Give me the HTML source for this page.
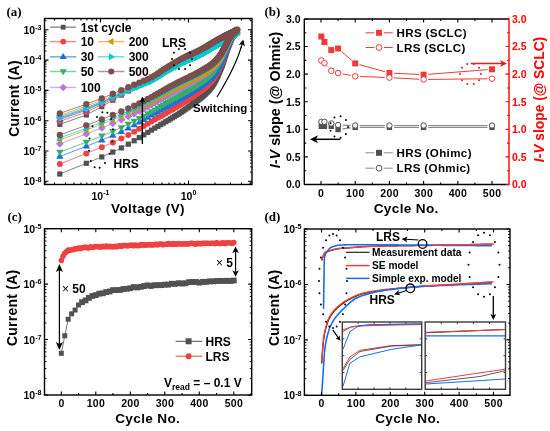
<!DOCTYPE html><html><head><meta charset="utf-8"><style>html,body{margin:0;padding:0;background:#fff}svg{display:block;will-change:transform}</style></head><body>
<svg width="550" height="431" viewBox="0 0 550 431">
<rect width="550" height="431" fill="#fff"/>
<text x="6.5" y="15.5" font-size="13" text-anchor="start" fill="#000" font-weight="bold" font-family='"Liberation Serif", serif' >(a)</text>
<path d="M59.83 174 L86.32 163.29 L101.81 156.93 L112.81 152.05 L121.34 147.93 L128.31 144.19 L134.2 140.74 L139.3 137.61 L143.8 134.82 L147.83 132.33 L151.47 130.11 L154.8 128.13 L157.86 126.33 L160.69 124.68 L163.32 123.14 L165.79 121.69 L168.11 120.32 L170.29 119.02 L172.36 117.77 L174.32 116.57 L176.18 115.41 L177.96 114.28 L179.66 113.18 L181.29 112.12 L182.85 111.07 L184.35 110.05 L185.79 109.05 L187.18 108.06 L188.52 107.09 L189.81 106.14 L191.07 105.21 L192.28 104.32 L193.46 103.47 L194.6 102.65 L195.71 101.84 L196.78 101.05 L197.83 100.26 L198.85 99.49 L199.84 98.71 L200.81 97.94 L201.75 97.16 L202.67 96.37 L203.57 95.58 L204.45 94.78 L205.31 93.98 L206.15 93.16 L206.97 92.32 L207.78 91.48 L208.57 90.62 L209.34 89.76 L210.09 88.87 L210.84 87.97 L211.56 87.06 L212.28 86.13 L212.98 85.12 L213.67 84.04 L214.35 82.9 L215.01 81.7 L215.66 80.45 L216.31 79.17 L216.94 77.85 L217.56 76.51 L218.17 75.15 L218.77 73.77 L219.36 72.39 L219.95 71.01 L220.52 69.62 L221.09 68.24 L221.65 66.87 L222.2 65.5 L222.74 64.05 L223.27 62.52 L223.8 60.93 L224.32 59.31 L224.83 57.67 L225.34 56.04 L225.84 54.44 L226.33 52.88 L226.82 51.38 L227.3 49.95 L227.77 48.61 L228.24 47.35 L228.71 46.09 L229.16 44.84 L229.62 43.61 L230.06 42.42 L230.51 41.27 L230.94 40.17 L231.37 39.15 L231.8 38.2 L232.22 37.34 L232.64 36.58 L233.05 35.92 L233.46 35.34 L233.87 34.81 L234.27 34.33 L234.66 33.89 L235.06 33.47 L235.44 33.08 L235.83 32.7 L236.21 32.33 L236.58 31.96 L236.96 31.58" fill="none" stroke="#515151" stroke-width="0.9" opacity="0.8"/>
<path d="M59.83 124.32 L86.32 114.97 L101.81 106.61 L112.81 100.17 L121.34 95.08 L128.31 91 L134.2 87.56 L139.3 84.55 L143.8 82.56 L147.83 80.84 L151.47 79.03 L154.8 77.12 L157.86 75.19 L160.69 73.32 L163.32 71.56 L165.79 69.93 L168.11 68.45 L170.29 67.13 L172.36 65.9 L174.32 64.75 L176.18 63.66 L177.96 62.63 L179.66 61.67 L181.29 60.77 L182.85 59.93 L184.35 59.14 L185.79 58.4 L187.18 57.72 L188.52 57.09 L189.81 56.5 L191.07 55.94 L192.28 55.4 L193.46 54.88 L194.6 54.37 L195.71 53.86 L196.78 53.37 L197.83 52.87 L198.85 52.38 L199.84 51.88 L200.81 51.38 L201.75 50.88 L202.67 50.37 L203.57 49.87 L204.45 49.38 L205.31 48.88 L206.15 48.39 L206.97 47.91 L207.78 47.43 L208.57 46.93 L209.34 46.42 L210.09 45.92 L210.84 45.43 L211.56 44.95 L212.28 44.48 L212.98 44.02 L213.67 43.56 L214.35 43.12 L215.01 42.69 L215.66 42.27 L216.31 41.86 L216.94 41.46 L217.56 41.07 L218.17 40.69 L218.77 40.32 L219.36 39.96 L219.95 39.61 L220.52 39.27 L221.09 38.94 L221.65 38.61 L222.2 38.29 L222.74 37.98 L223.27 37.67 L223.8 37.37 L224.32 37.08 L224.83 36.79 L225.34 36.5 L225.84 36.22 L226.33 35.95 L226.82 35.68 L227.3 35.41 L227.77 35.15 L228.24 34.89 L228.71 34.63 L229.16 34.38 L229.62 34.13 L230.06 33.89 L230.51 33.64 L230.94 33.41 L231.37 33.17 L231.8 32.93 L232.22 32.7 L232.64 32.47 L233.05 32.25 L233.46 32.02 L233.87 31.8 L234.27 31.58 L234.66 31.36 L235.06 31.14 L235.44 30.93 L235.83 30.71 L236.21 30.5 L236.58 30.29 L236.96 30.08" fill="none" stroke="#515151" stroke-width="0.9" opacity="0.8"/>
<rect x="57.23" y="171.4" width="5.2" height="5.2" fill="#515151"/><rect x="83.72" y="160.69" width="5.2" height="5.2" fill="#515151"/><rect x="99.21" y="154.33" width="5.2" height="5.2" fill="#515151"/><rect x="110.21" y="149.45" width="5.2" height="5.2" fill="#515151"/><rect x="118.74" y="145.33" width="5.2" height="5.2" fill="#515151"/><rect x="125.71" y="141.59" width="5.2" height="5.2" fill="#515151"/><rect x="131.6" y="138.14" width="5.2" height="5.2" fill="#515151"/><rect x="136.7" y="135.01" width="5.2" height="5.2" fill="#515151"/><rect x="141.2" y="132.22" width="5.2" height="5.2" fill="#515151"/><rect x="145.23" y="129.73" width="5.2" height="5.2" fill="#515151"/><rect x="148.87" y="127.51" width="5.2" height="5.2" fill="#515151"/><rect x="152.2" y="125.53" width="5.2" height="5.2" fill="#515151"/><rect x="155.26" y="123.73" width="5.2" height="5.2" fill="#515151"/><rect x="158.09" y="122.08" width="5.2" height="5.2" fill="#515151"/><rect x="160.72" y="120.54" width="5.2" height="5.2" fill="#515151"/><rect x="163.19" y="119.09" width="5.2" height="5.2" fill="#515151"/><rect x="165.51" y="117.72" width="5.2" height="5.2" fill="#515151"/><rect x="167.69" y="116.42" width="5.2" height="5.2" fill="#515151"/><rect x="169.76" y="115.17" width="5.2" height="5.2" fill="#515151"/><rect x="171.72" y="113.97" width="5.2" height="5.2" fill="#515151"/><rect x="173.58" y="112.81" width="5.2" height="5.2" fill="#515151"/><rect x="175.36" y="111.68" width="5.2" height="5.2" fill="#515151"/><rect x="177.06" y="110.58" width="5.2" height="5.2" fill="#515151"/><rect x="178.69" y="109.52" width="5.2" height="5.2" fill="#515151"/><rect x="180.25" y="108.47" width="5.2" height="5.2" fill="#515151"/><rect x="181.75" y="107.45" width="5.2" height="5.2" fill="#515151"/><rect x="183.19" y="106.45" width="5.2" height="5.2" fill="#515151"/><rect x="184.58" y="105.46" width="5.2" height="5.2" fill="#515151"/><rect x="185.92" y="104.49" width="5.2" height="5.2" fill="#515151"/><rect x="187.21" y="103.54" width="5.2" height="5.2" fill="#515151"/><rect x="188.47" y="102.61" width="5.2" height="5.2" fill="#515151"/><rect x="189.68" y="101.72" width="5.2" height="5.2" fill="#515151"/><rect x="190.86" y="100.87" width="5.2" height="5.2" fill="#515151"/><rect x="192" y="100.05" width="5.2" height="5.2" fill="#515151"/><rect x="193.11" y="99.24" width="5.2" height="5.2" fill="#515151"/><rect x="194.18" y="98.45" width="5.2" height="5.2" fill="#515151"/><rect x="195.23" y="97.66" width="5.2" height="5.2" fill="#515151"/><rect x="196.25" y="96.89" width="5.2" height="5.2" fill="#515151"/><rect x="197.24" y="96.11" width="5.2" height="5.2" fill="#515151"/><rect x="198.21" y="95.34" width="5.2" height="5.2" fill="#515151"/><rect x="199.15" y="94.56" width="5.2" height="5.2" fill="#515151"/><rect x="200.07" y="93.77" width="5.2" height="5.2" fill="#515151"/><rect x="200.97" y="92.98" width="5.2" height="5.2" fill="#515151"/><rect x="201.85" y="92.18" width="5.2" height="5.2" fill="#515151"/><rect x="202.71" y="91.38" width="5.2" height="5.2" fill="#515151"/><rect x="203.55" y="90.56" width="5.2" height="5.2" fill="#515151"/><rect x="204.37" y="89.72" width="5.2" height="5.2" fill="#515151"/><rect x="205.18" y="88.88" width="5.2" height="5.2" fill="#515151"/><rect x="205.97" y="88.02" width="5.2" height="5.2" fill="#515151"/><rect x="206.74" y="87.16" width="5.2" height="5.2" fill="#515151"/><rect x="207.49" y="86.27" width="5.2" height="5.2" fill="#515151"/><rect x="208.24" y="85.37" width="5.2" height="5.2" fill="#515151"/><rect x="208.96" y="84.46" width="5.2" height="5.2" fill="#515151"/><rect x="209.68" y="83.53" width="5.2" height="5.2" fill="#515151"/><rect x="210.38" y="82.52" width="5.2" height="5.2" fill="#515151"/><rect x="211.07" y="81.44" width="5.2" height="5.2" fill="#515151"/><rect x="211.75" y="80.3" width="5.2" height="5.2" fill="#515151"/><rect x="212.41" y="79.1" width="5.2" height="5.2" fill="#515151"/><rect x="213.06" y="77.85" width="5.2" height="5.2" fill="#515151"/><rect x="213.71" y="76.57" width="5.2" height="5.2" fill="#515151"/><rect x="214.34" y="75.25" width="5.2" height="5.2" fill="#515151"/><rect x="214.96" y="73.91" width="5.2" height="5.2" fill="#515151"/><rect x="215.57" y="72.55" width="5.2" height="5.2" fill="#515151"/><rect x="216.17" y="71.17" width="5.2" height="5.2" fill="#515151"/><rect x="216.76" y="69.79" width="5.2" height="5.2" fill="#515151"/><rect x="217.35" y="68.41" width="5.2" height="5.2" fill="#515151"/><rect x="217.92" y="67.02" width="5.2" height="5.2" fill="#515151"/><rect x="218.49" y="65.64" width="5.2" height="5.2" fill="#515151"/><rect x="219.05" y="64.27" width="5.2" height="5.2" fill="#515151"/><rect x="219.6" y="62.9" width="5.2" height="5.2" fill="#515151"/><rect x="220.14" y="61.45" width="5.2" height="5.2" fill="#515151"/><rect x="220.67" y="59.92" width="5.2" height="5.2" fill="#515151"/><rect x="221.2" y="58.33" width="5.2" height="5.2" fill="#515151"/><rect x="221.72" y="56.71" width="5.2" height="5.2" fill="#515151"/><rect x="222.23" y="55.07" width="5.2" height="5.2" fill="#515151"/><rect x="222.74" y="53.44" width="5.2" height="5.2" fill="#515151"/><rect x="223.24" y="51.84" width="5.2" height="5.2" fill="#515151"/><rect x="223.73" y="50.28" width="5.2" height="5.2" fill="#515151"/><rect x="224.22" y="48.78" width="5.2" height="5.2" fill="#515151"/><rect x="224.7" y="47.35" width="5.2" height="5.2" fill="#515151"/><rect x="225.17" y="46.01" width="5.2" height="5.2" fill="#515151"/><rect x="225.64" y="44.75" width="5.2" height="5.2" fill="#515151"/><rect x="226.11" y="43.49" width="5.2" height="5.2" fill="#515151"/><rect x="226.56" y="42.24" width="5.2" height="5.2" fill="#515151"/><rect x="227.02" y="41.01" width="5.2" height="5.2" fill="#515151"/><rect x="227.46" y="39.82" width="5.2" height="5.2" fill="#515151"/><rect x="227.91" y="38.67" width="5.2" height="5.2" fill="#515151"/><rect x="228.34" y="37.57" width="5.2" height="5.2" fill="#515151"/><rect x="228.77" y="36.55" width="5.2" height="5.2" fill="#515151"/><rect x="229.2" y="35.6" width="5.2" height="5.2" fill="#515151"/><rect x="229.62" y="34.74" width="5.2" height="5.2" fill="#515151"/><rect x="230.04" y="33.98" width="5.2" height="5.2" fill="#515151"/><rect x="230.45" y="33.32" width="5.2" height="5.2" fill="#515151"/><rect x="230.86" y="32.74" width="5.2" height="5.2" fill="#515151"/><rect x="231.27" y="32.21" width="5.2" height="5.2" fill="#515151"/><rect x="231.67" y="31.73" width="5.2" height="5.2" fill="#515151"/><rect x="232.06" y="31.29" width="5.2" height="5.2" fill="#515151"/><rect x="232.46" y="30.87" width="5.2" height="5.2" fill="#515151"/><rect x="232.84" y="30.48" width="5.2" height="5.2" fill="#515151"/><rect x="233.23" y="30.1" width="5.2" height="5.2" fill="#515151"/><rect x="233.61" y="29.73" width="5.2" height="5.2" fill="#515151"/><rect x="233.98" y="29.36" width="5.2" height="5.2" fill="#515151"/><rect x="234.36" y="28.98" width="5.2" height="5.2" fill="#515151"/><rect x="57.23" y="121.72" width="5.2" height="5.2" fill="#515151"/><rect x="83.72" y="112.37" width="5.2" height="5.2" fill="#515151"/><rect x="99.21" y="104.01" width="5.2" height="5.2" fill="#515151"/><rect x="110.21" y="97.57" width="5.2" height="5.2" fill="#515151"/><rect x="118.74" y="92.48" width="5.2" height="5.2" fill="#515151"/><rect x="125.71" y="88.4" width="5.2" height="5.2" fill="#515151"/><rect x="131.6" y="84.96" width="5.2" height="5.2" fill="#515151"/><rect x="136.7" y="81.95" width="5.2" height="5.2" fill="#515151"/><rect x="141.2" y="79.96" width="5.2" height="5.2" fill="#515151"/><rect x="145.23" y="78.24" width="5.2" height="5.2" fill="#515151"/><rect x="148.87" y="76.43" width="5.2" height="5.2" fill="#515151"/><rect x="152.2" y="74.52" width="5.2" height="5.2" fill="#515151"/><rect x="155.26" y="72.59" width="5.2" height="5.2" fill="#515151"/><rect x="158.09" y="70.72" width="5.2" height="5.2" fill="#515151"/><rect x="160.72" y="68.96" width="5.2" height="5.2" fill="#515151"/><rect x="163.19" y="67.33" width="5.2" height="5.2" fill="#515151"/><rect x="165.51" y="65.85" width="5.2" height="5.2" fill="#515151"/><rect x="167.69" y="64.53" width="5.2" height="5.2" fill="#515151"/><rect x="169.76" y="63.3" width="5.2" height="5.2" fill="#515151"/><rect x="171.72" y="62.15" width="5.2" height="5.2" fill="#515151"/><rect x="173.58" y="61.06" width="5.2" height="5.2" fill="#515151"/><rect x="175.36" y="60.03" width="5.2" height="5.2" fill="#515151"/><rect x="177.06" y="59.07" width="5.2" height="5.2" fill="#515151"/><rect x="178.69" y="58.17" width="5.2" height="5.2" fill="#515151"/><rect x="180.25" y="57.33" width="5.2" height="5.2" fill="#515151"/><rect x="181.75" y="56.54" width="5.2" height="5.2" fill="#515151"/><rect x="183.19" y="55.8" width="5.2" height="5.2" fill="#515151"/><rect x="184.58" y="55.12" width="5.2" height="5.2" fill="#515151"/><rect x="185.92" y="54.49" width="5.2" height="5.2" fill="#515151"/><rect x="187.21" y="53.9" width="5.2" height="5.2" fill="#515151"/><rect x="188.47" y="53.34" width="5.2" height="5.2" fill="#515151"/><rect x="189.68" y="52.8" width="5.2" height="5.2" fill="#515151"/><rect x="190.86" y="52.28" width="5.2" height="5.2" fill="#515151"/><rect x="192" y="51.77" width="5.2" height="5.2" fill="#515151"/><rect x="193.11" y="51.26" width="5.2" height="5.2" fill="#515151"/><rect x="194.18" y="50.77" width="5.2" height="5.2" fill="#515151"/><rect x="195.23" y="50.27" width="5.2" height="5.2" fill="#515151"/><rect x="196.25" y="49.78" width="5.2" height="5.2" fill="#515151"/><rect x="197.24" y="49.28" width="5.2" height="5.2" fill="#515151"/><rect x="198.21" y="48.78" width="5.2" height="5.2" fill="#515151"/><rect x="199.15" y="48.28" width="5.2" height="5.2" fill="#515151"/><rect x="200.07" y="47.77" width="5.2" height="5.2" fill="#515151"/><rect x="200.97" y="47.27" width="5.2" height="5.2" fill="#515151"/><rect x="201.85" y="46.78" width="5.2" height="5.2" fill="#515151"/><rect x="202.71" y="46.28" width="5.2" height="5.2" fill="#515151"/><rect x="203.55" y="45.79" width="5.2" height="5.2" fill="#515151"/><rect x="204.37" y="45.31" width="5.2" height="5.2" fill="#515151"/><rect x="205.18" y="44.83" width="5.2" height="5.2" fill="#515151"/><rect x="205.97" y="44.33" width="5.2" height="5.2" fill="#515151"/><rect x="206.74" y="43.82" width="5.2" height="5.2" fill="#515151"/><rect x="207.49" y="43.32" width="5.2" height="5.2" fill="#515151"/><rect x="208.24" y="42.83" width="5.2" height="5.2" fill="#515151"/><rect x="208.96" y="42.35" width="5.2" height="5.2" fill="#515151"/><rect x="209.68" y="41.88" width="5.2" height="5.2" fill="#515151"/><rect x="210.38" y="41.42" width="5.2" height="5.2" fill="#515151"/><rect x="211.07" y="40.96" width="5.2" height="5.2" fill="#515151"/><rect x="211.75" y="40.52" width="5.2" height="5.2" fill="#515151"/><rect x="212.41" y="40.09" width="5.2" height="5.2" fill="#515151"/><rect x="213.06" y="39.67" width="5.2" height="5.2" fill="#515151"/><rect x="213.71" y="39.26" width="5.2" height="5.2" fill="#515151"/><rect x="214.34" y="38.86" width="5.2" height="5.2" fill="#515151"/><rect x="214.96" y="38.47" width="5.2" height="5.2" fill="#515151"/><rect x="215.57" y="38.09" width="5.2" height="5.2" fill="#515151"/><rect x="216.17" y="37.72" width="5.2" height="5.2" fill="#515151"/><rect x="216.76" y="37.36" width="5.2" height="5.2" fill="#515151"/><rect x="217.35" y="37.01" width="5.2" height="5.2" fill="#515151"/><rect x="217.92" y="36.67" width="5.2" height="5.2" fill="#515151"/><rect x="218.49" y="36.34" width="5.2" height="5.2" fill="#515151"/><rect x="219.05" y="36.01" width="5.2" height="5.2" fill="#515151"/><rect x="219.6" y="35.69" width="5.2" height="5.2" fill="#515151"/><rect x="220.14" y="35.38" width="5.2" height="5.2" fill="#515151"/><rect x="220.67" y="35.07" width="5.2" height="5.2" fill="#515151"/><rect x="221.2" y="34.77" width="5.2" height="5.2" fill="#515151"/><rect x="221.72" y="34.48" width="5.2" height="5.2" fill="#515151"/><rect x="222.23" y="34.19" width="5.2" height="5.2" fill="#515151"/><rect x="222.74" y="33.9" width="5.2" height="5.2" fill="#515151"/><rect x="223.24" y="33.62" width="5.2" height="5.2" fill="#515151"/><rect x="223.73" y="33.35" width="5.2" height="5.2" fill="#515151"/><rect x="224.22" y="33.08" width="5.2" height="5.2" fill="#515151"/><rect x="224.7" y="32.81" width="5.2" height="5.2" fill="#515151"/><rect x="225.17" y="32.55" width="5.2" height="5.2" fill="#515151"/><rect x="225.64" y="32.29" width="5.2" height="5.2" fill="#515151"/><rect x="226.11" y="32.03" width="5.2" height="5.2" fill="#515151"/><rect x="226.56" y="31.78" width="5.2" height="5.2" fill="#515151"/><rect x="227.02" y="31.53" width="5.2" height="5.2" fill="#515151"/><rect x="227.46" y="31.29" width="5.2" height="5.2" fill="#515151"/><rect x="227.91" y="31.04" width="5.2" height="5.2" fill="#515151"/><rect x="228.34" y="30.81" width="5.2" height="5.2" fill="#515151"/><rect x="228.77" y="30.57" width="5.2" height="5.2" fill="#515151"/><rect x="229.2" y="30.33" width="5.2" height="5.2" fill="#515151"/><rect x="229.62" y="30.1" width="5.2" height="5.2" fill="#515151"/><rect x="230.04" y="29.87" width="5.2" height="5.2" fill="#515151"/><rect x="230.45" y="29.65" width="5.2" height="5.2" fill="#515151"/><rect x="230.86" y="29.42" width="5.2" height="5.2" fill="#515151"/><rect x="231.27" y="29.2" width="5.2" height="5.2" fill="#515151"/><rect x="231.67" y="28.98" width="5.2" height="5.2" fill="#515151"/><rect x="232.06" y="28.76" width="5.2" height="5.2" fill="#515151"/><rect x="232.46" y="28.54" width="5.2" height="5.2" fill="#515151"/><rect x="232.84" y="28.33" width="5.2" height="5.2" fill="#515151"/><rect x="233.23" y="28.11" width="5.2" height="5.2" fill="#515151"/><rect x="233.61" y="27.9" width="5.2" height="5.2" fill="#515151"/><rect x="233.98" y="27.69" width="5.2" height="5.2" fill="#515151"/><rect x="234.36" y="27.48" width="5.2" height="5.2" fill="#515151"/>
<path d="M59.83 163.91 L86.32 153.46 L101.81 147.21 L112.81 142.45 L121.34 138.47 L128.31 134.92 L134.2 131.67 L139.3 128.74 L143.8 126.09 L147.83 123.7 L151.47 121.55 L154.8 119.6 L157.86 117.82 L160.69 116.18 L163.32 114.65 L165.79 113.22 L168.11 111.87 L170.29 110.6 L172.36 109.38 L174.32 108.23 L176.18 107.11 L177.96 106.05 L179.66 105.02 L181.29 104.02 L182.85 103.05 L184.35 102.11 L185.79 101.19 L187.18 100.29 L188.52 99.4 L189.81 98.53 L191.07 97.69 L192.28 96.87 L193.46 96.09 L194.6 95.33 L195.71 94.58 L196.78 93.85 L197.83 93.12 L198.85 92.4 L199.84 91.69 L200.81 90.97 L201.75 90.26 L202.67 89.55 L203.57 88.83 L204.45 88.11 L205.31 87.38 L206.15 86.65 L206.97 85.9 L207.78 85.14 L208.57 84.38 L209.34 83.6 L210.09 82.8 L210.84 82 L211.56 81.18 L212.28 80.34 L212.98 79.44 L213.67 78.48 L214.35 77.47 L215.01 76.42 L215.66 75.32 L216.31 74.19 L216.94 73.04 L217.56 71.86 L218.17 70.66 L218.77 69.45 L219.36 68.23 L219.95 67.01 L220.52 65.78 L221.09 64.53 L221.65 63.28 L222.2 62.02 L222.74 60.7 L223.27 59.31 L223.8 57.87 L224.32 56.42 L224.83 54.95 L225.34 53.5 L225.84 52.07 L226.33 50.68 L226.82 49.32 L227.3 48.01 L227.77 46.77 L228.24 45.59 L228.71 44.43 L229.16 43.28 L229.62 42.18 L230.06 41.12 L230.51 40.12 L230.94 39.16 L231.37 38.27 L231.8 37.44 L232.22 36.69 L232.64 36.01 L233.05 35.41 L233.46 34.87 L233.87 34.38 L234.27 33.93 L234.66 33.5 L235.06 33.09 L235.44 32.69 L235.83 32.31 L236.21 31.93 L236.58 31.55 L236.96 31.16" fill="none" stroke="#F14040" stroke-width="0.9" opacity="0.8"/>
<path d="M59.83 121.42 L86.32 112.07 L101.81 104.54 L112.81 98.7 L121.34 94.07 L128.31 90.37 L134.2 87.24 L139.3 84.51 L143.8 82.56 L147.83 80.84 L151.47 79.03 L154.8 77.12 L157.86 75.19 L160.69 73.32 L163.32 71.56 L165.79 69.93 L168.11 68.45 L170.29 67.13 L172.36 65.9 L174.32 64.75 L176.18 63.66 L177.96 62.63 L179.66 61.67 L181.29 60.77 L182.85 59.93 L184.35 59.14 L185.79 58.4 L187.18 57.72 L188.52 57.09 L189.81 56.5 L191.07 55.94 L192.28 55.4 L193.46 54.88 L194.6 54.37 L195.71 53.86 L196.78 53.37 L197.83 52.87 L198.85 52.38 L199.84 51.88 L200.81 51.38 L201.75 50.88 L202.67 50.37 L203.57 49.87 L204.45 49.38 L205.31 48.88 L206.15 48.39 L206.97 47.91 L207.78 47.43 L208.57 46.93 L209.34 46.42 L210.09 45.92 L210.84 45.43 L211.56 44.95 L212.28 44.48 L212.98 44.02 L213.67 43.56 L214.35 43.12 L215.01 42.69 L215.66 42.27 L216.31 41.86 L216.94 41.46 L217.56 41.07 L218.17 40.69 L218.77 40.32 L219.36 39.96 L219.95 39.61 L220.52 39.27 L221.09 38.94 L221.65 38.61 L222.2 38.29 L222.74 37.98 L223.27 37.67 L223.8 37.37 L224.32 37.08 L224.83 36.79 L225.34 36.5 L225.84 36.22 L226.33 35.95 L226.82 35.68 L227.3 35.41 L227.77 35.15 L228.24 34.89 L228.71 34.63 L229.16 34.38 L229.62 34.13 L230.06 33.89 L230.51 33.64 L230.94 33.41 L231.37 33.17 L231.8 32.93 L232.22 32.7 L232.64 32.47 L233.05 32.25 L233.46 32.02 L233.87 31.8 L234.27 31.58 L234.66 31.36 L235.06 31.14 L235.44 30.93 L235.83 30.71 L236.21 30.5 L236.58 30.29 L236.96 30.08" fill="none" stroke="#F14040" stroke-width="0.9" opacity="0.8"/>
<circle cx="59.83" cy="163.91" r="3" fill="#F14040"/><circle cx="86.32" cy="153.46" r="3" fill="#F14040"/><circle cx="101.81" cy="147.21" r="3" fill="#F14040"/><circle cx="112.81" cy="142.45" r="3" fill="#F14040"/><circle cx="121.34" cy="138.47" r="3" fill="#F14040"/><circle cx="128.31" cy="134.92" r="3" fill="#F14040"/><circle cx="134.2" cy="131.67" r="3" fill="#F14040"/><circle cx="139.3" cy="128.74" r="3" fill="#F14040"/><circle cx="143.8" cy="126.09" r="3" fill="#F14040"/><circle cx="147.83" cy="123.7" r="3" fill="#F14040"/><circle cx="151.47" cy="121.55" r="3" fill="#F14040"/><circle cx="154.8" cy="119.6" r="3" fill="#F14040"/><circle cx="157.86" cy="117.82" r="3" fill="#F14040"/><circle cx="160.69" cy="116.18" r="3" fill="#F14040"/><circle cx="163.32" cy="114.65" r="3" fill="#F14040"/><circle cx="165.79" cy="113.22" r="3" fill="#F14040"/><circle cx="168.11" cy="111.87" r="3" fill="#F14040"/><circle cx="170.29" cy="110.6" r="3" fill="#F14040"/><circle cx="172.36" cy="109.38" r="3" fill="#F14040"/><circle cx="174.32" cy="108.23" r="3" fill="#F14040"/><circle cx="176.18" cy="107.11" r="3" fill="#F14040"/><circle cx="177.96" cy="106.05" r="3" fill="#F14040"/><circle cx="179.66" cy="105.02" r="3" fill="#F14040"/><circle cx="181.29" cy="104.02" r="3" fill="#F14040"/><circle cx="182.85" cy="103.05" r="3" fill="#F14040"/><circle cx="184.35" cy="102.11" r="3" fill="#F14040"/><circle cx="185.79" cy="101.19" r="3" fill="#F14040"/><circle cx="187.18" cy="100.29" r="3" fill="#F14040"/><circle cx="188.52" cy="99.4" r="3" fill="#F14040"/><circle cx="189.81" cy="98.53" r="3" fill="#F14040"/><circle cx="191.07" cy="97.69" r="3" fill="#F14040"/><circle cx="192.28" cy="96.87" r="3" fill="#F14040"/><circle cx="193.46" cy="96.09" r="3" fill="#F14040"/><circle cx="194.6" cy="95.33" r="3" fill="#F14040"/><circle cx="195.71" cy="94.58" r="3" fill="#F14040"/><circle cx="196.78" cy="93.85" r="3" fill="#F14040"/><circle cx="197.83" cy="93.12" r="3" fill="#F14040"/><circle cx="198.85" cy="92.4" r="3" fill="#F14040"/><circle cx="199.84" cy="91.69" r="3" fill="#F14040"/><circle cx="200.81" cy="90.97" r="3" fill="#F14040"/><circle cx="201.75" cy="90.26" r="3" fill="#F14040"/><circle cx="202.67" cy="89.55" r="3" fill="#F14040"/><circle cx="203.57" cy="88.83" r="3" fill="#F14040"/><circle cx="204.45" cy="88.11" r="3" fill="#F14040"/><circle cx="205.31" cy="87.38" r="3" fill="#F14040"/><circle cx="206.15" cy="86.65" r="3" fill="#F14040"/><circle cx="206.97" cy="85.9" r="3" fill="#F14040"/><circle cx="207.78" cy="85.14" r="3" fill="#F14040"/><circle cx="208.57" cy="84.38" r="3" fill="#F14040"/><circle cx="209.34" cy="83.6" r="3" fill="#F14040"/><circle cx="210.09" cy="82.8" r="3" fill="#F14040"/><circle cx="210.84" cy="82" r="3" fill="#F14040"/><circle cx="211.56" cy="81.18" r="3" fill="#F14040"/><circle cx="212.28" cy="80.34" r="3" fill="#F14040"/><circle cx="212.98" cy="79.44" r="3" fill="#F14040"/><circle cx="213.67" cy="78.48" r="3" fill="#F14040"/><circle cx="214.35" cy="77.47" r="3" fill="#F14040"/><circle cx="215.01" cy="76.42" r="3" fill="#F14040"/><circle cx="215.66" cy="75.32" r="3" fill="#F14040"/><circle cx="216.31" cy="74.19" r="3" fill="#F14040"/><circle cx="216.94" cy="73.04" r="3" fill="#F14040"/><circle cx="217.56" cy="71.86" r="3" fill="#F14040"/><circle cx="218.17" cy="70.66" r="3" fill="#F14040"/><circle cx="218.77" cy="69.45" r="3" fill="#F14040"/><circle cx="219.36" cy="68.23" r="3" fill="#F14040"/><circle cx="219.95" cy="67.01" r="3" fill="#F14040"/><circle cx="220.52" cy="65.78" r="3" fill="#F14040"/><circle cx="221.09" cy="64.53" r="3" fill="#F14040"/><circle cx="221.65" cy="63.28" r="3" fill="#F14040"/><circle cx="222.2" cy="62.02" r="3" fill="#F14040"/><circle cx="222.74" cy="60.7" r="3" fill="#F14040"/><circle cx="223.27" cy="59.31" r="3" fill="#F14040"/><circle cx="223.8" cy="57.87" r="3" fill="#F14040"/><circle cx="224.32" cy="56.42" r="3" fill="#F14040"/><circle cx="224.83" cy="54.95" r="3" fill="#F14040"/><circle cx="225.34" cy="53.5" r="3" fill="#F14040"/><circle cx="225.84" cy="52.07" r="3" fill="#F14040"/><circle cx="226.33" cy="50.68" r="3" fill="#F14040"/><circle cx="226.82" cy="49.32" r="3" fill="#F14040"/><circle cx="227.3" cy="48.01" r="3" fill="#F14040"/><circle cx="227.77" cy="46.77" r="3" fill="#F14040"/><circle cx="228.24" cy="45.59" r="3" fill="#F14040"/><circle cx="228.71" cy="44.43" r="3" fill="#F14040"/><circle cx="229.16" cy="43.28" r="3" fill="#F14040"/><circle cx="229.62" cy="42.18" r="3" fill="#F14040"/><circle cx="230.06" cy="41.12" r="3" fill="#F14040"/><circle cx="230.51" cy="40.12" r="3" fill="#F14040"/><circle cx="230.94" cy="39.16" r="3" fill="#F14040"/><circle cx="231.37" cy="38.27" r="3" fill="#F14040"/><circle cx="231.8" cy="37.44" r="3" fill="#F14040"/><circle cx="232.22" cy="36.69" r="3" fill="#F14040"/><circle cx="232.64" cy="36.01" r="3" fill="#F14040"/><circle cx="233.05" cy="35.41" r="3" fill="#F14040"/><circle cx="233.46" cy="34.87" r="3" fill="#F14040"/><circle cx="233.87" cy="34.38" r="3" fill="#F14040"/><circle cx="234.27" cy="33.93" r="3" fill="#F14040"/><circle cx="234.66" cy="33.5" r="3" fill="#F14040"/><circle cx="235.06" cy="33.09" r="3" fill="#F14040"/><circle cx="235.44" cy="32.69" r="3" fill="#F14040"/><circle cx="235.83" cy="32.31" r="3" fill="#F14040"/><circle cx="236.21" cy="31.93" r="3" fill="#F14040"/><circle cx="236.58" cy="31.55" r="3" fill="#F14040"/><circle cx="236.96" cy="31.16" r="3" fill="#F14040"/><circle cx="59.83" cy="121.42" r="3" fill="#F14040"/><circle cx="86.32" cy="112.07" r="3" fill="#F14040"/><circle cx="101.81" cy="104.54" r="3" fill="#F14040"/><circle cx="112.81" cy="98.7" r="3" fill="#F14040"/><circle cx="121.34" cy="94.07" r="3" fill="#F14040"/><circle cx="128.31" cy="90.37" r="3" fill="#F14040"/><circle cx="134.2" cy="87.24" r="3" fill="#F14040"/><circle cx="139.3" cy="84.51" r="3" fill="#F14040"/><circle cx="143.8" cy="82.56" r="3" fill="#F14040"/><circle cx="147.83" cy="80.84" r="3" fill="#F14040"/><circle cx="151.47" cy="79.03" r="3" fill="#F14040"/><circle cx="154.8" cy="77.12" r="3" fill="#F14040"/><circle cx="157.86" cy="75.19" r="3" fill="#F14040"/><circle cx="160.69" cy="73.32" r="3" fill="#F14040"/><circle cx="163.32" cy="71.56" r="3" fill="#F14040"/><circle cx="165.79" cy="69.93" r="3" fill="#F14040"/><circle cx="168.11" cy="68.45" r="3" fill="#F14040"/><circle cx="170.29" cy="67.13" r="3" fill="#F14040"/><circle cx="172.36" cy="65.9" r="3" fill="#F14040"/><circle cx="174.32" cy="64.75" r="3" fill="#F14040"/><circle cx="176.18" cy="63.66" r="3" fill="#F14040"/><circle cx="177.96" cy="62.63" r="3" fill="#F14040"/><circle cx="179.66" cy="61.67" r="3" fill="#F14040"/><circle cx="181.29" cy="60.77" r="3" fill="#F14040"/><circle cx="182.85" cy="59.93" r="3" fill="#F14040"/><circle cx="184.35" cy="59.14" r="3" fill="#F14040"/><circle cx="185.79" cy="58.4" r="3" fill="#F14040"/><circle cx="187.18" cy="57.72" r="3" fill="#F14040"/><circle cx="188.52" cy="57.09" r="3" fill="#F14040"/><circle cx="189.81" cy="56.5" r="3" fill="#F14040"/><circle cx="191.07" cy="55.94" r="3" fill="#F14040"/><circle cx="192.28" cy="55.4" r="3" fill="#F14040"/><circle cx="193.46" cy="54.88" r="3" fill="#F14040"/><circle cx="194.6" cy="54.37" r="3" fill="#F14040"/><circle cx="195.71" cy="53.86" r="3" fill="#F14040"/><circle cx="196.78" cy="53.37" r="3" fill="#F14040"/><circle cx="197.83" cy="52.87" r="3" fill="#F14040"/><circle cx="198.85" cy="52.38" r="3" fill="#F14040"/><circle cx="199.84" cy="51.88" r="3" fill="#F14040"/><circle cx="200.81" cy="51.38" r="3" fill="#F14040"/><circle cx="201.75" cy="50.88" r="3" fill="#F14040"/><circle cx="202.67" cy="50.37" r="3" fill="#F14040"/><circle cx="203.57" cy="49.87" r="3" fill="#F14040"/><circle cx="204.45" cy="49.38" r="3" fill="#F14040"/><circle cx="205.31" cy="48.88" r="3" fill="#F14040"/><circle cx="206.15" cy="48.39" r="3" fill="#F14040"/><circle cx="206.97" cy="47.91" r="3" fill="#F14040"/><circle cx="207.78" cy="47.43" r="3" fill="#F14040"/><circle cx="208.57" cy="46.93" r="3" fill="#F14040"/><circle cx="209.34" cy="46.42" r="3" fill="#F14040"/><circle cx="210.09" cy="45.92" r="3" fill="#F14040"/><circle cx="210.84" cy="45.43" r="3" fill="#F14040"/><circle cx="211.56" cy="44.95" r="3" fill="#F14040"/><circle cx="212.28" cy="44.48" r="3" fill="#F14040"/><circle cx="212.98" cy="44.02" r="3" fill="#F14040"/><circle cx="213.67" cy="43.56" r="3" fill="#F14040"/><circle cx="214.35" cy="43.12" r="3" fill="#F14040"/><circle cx="215.01" cy="42.69" r="3" fill="#F14040"/><circle cx="215.66" cy="42.27" r="3" fill="#F14040"/><circle cx="216.31" cy="41.86" r="3" fill="#F14040"/><circle cx="216.94" cy="41.46" r="3" fill="#F14040"/><circle cx="217.56" cy="41.07" r="3" fill="#F14040"/><circle cx="218.17" cy="40.69" r="3" fill="#F14040"/><circle cx="218.77" cy="40.32" r="3" fill="#F14040"/><circle cx="219.36" cy="39.96" r="3" fill="#F14040"/><circle cx="219.95" cy="39.61" r="3" fill="#F14040"/><circle cx="220.52" cy="39.27" r="3" fill="#F14040"/><circle cx="221.09" cy="38.94" r="3" fill="#F14040"/><circle cx="221.65" cy="38.61" r="3" fill="#F14040"/><circle cx="222.2" cy="38.29" r="3" fill="#F14040"/><circle cx="222.74" cy="37.98" r="3" fill="#F14040"/><circle cx="223.27" cy="37.67" r="3" fill="#F14040"/><circle cx="223.8" cy="37.37" r="3" fill="#F14040"/><circle cx="224.32" cy="37.08" r="3" fill="#F14040"/><circle cx="224.83" cy="36.79" r="3" fill="#F14040"/><circle cx="225.34" cy="36.5" r="3" fill="#F14040"/><circle cx="225.84" cy="36.22" r="3" fill="#F14040"/><circle cx="226.33" cy="35.95" r="3" fill="#F14040"/><circle cx="226.82" cy="35.68" r="3" fill="#F14040"/><circle cx="227.3" cy="35.41" r="3" fill="#F14040"/><circle cx="227.77" cy="35.15" r="3" fill="#F14040"/><circle cx="228.24" cy="34.89" r="3" fill="#F14040"/><circle cx="228.71" cy="34.63" r="3" fill="#F14040"/><circle cx="229.16" cy="34.38" r="3" fill="#F14040"/><circle cx="229.62" cy="34.13" r="3" fill="#F14040"/><circle cx="230.06" cy="33.89" r="3" fill="#F14040"/><circle cx="230.51" cy="33.64" r="3" fill="#F14040"/><circle cx="230.94" cy="33.41" r="3" fill="#F14040"/><circle cx="231.37" cy="33.17" r="3" fill="#F14040"/><circle cx="231.8" cy="32.93" r="3" fill="#F14040"/><circle cx="232.22" cy="32.7" r="3" fill="#F14040"/><circle cx="232.64" cy="32.47" r="3" fill="#F14040"/><circle cx="233.05" cy="32.25" r="3" fill="#F14040"/><circle cx="233.46" cy="32.02" r="3" fill="#F14040"/><circle cx="233.87" cy="31.8" r="3" fill="#F14040"/><circle cx="234.27" cy="31.58" r="3" fill="#F14040"/><circle cx="234.66" cy="31.36" r="3" fill="#F14040"/><circle cx="235.06" cy="31.14" r="3" fill="#F14040"/><circle cx="235.44" cy="30.93" r="3" fill="#F14040"/><circle cx="235.83" cy="30.71" r="3" fill="#F14040"/><circle cx="236.21" cy="30.5" r="3" fill="#F14040"/><circle cx="236.58" cy="30.29" r="3" fill="#F14040"/><circle cx="236.96" cy="30.08" r="3" fill="#F14040"/>
<path d="M59.83 156.51 L86.32 146.26 L101.81 140.09 L112.81 135.41 L121.34 131.55 L128.31 128.13 L134.2 125.03 L139.3 122.23 L143.8 119.69 L147.83 117.38 L151.47 115.27 L154.8 113.35 L157.86 111.59 L160.69 109.95 L163.32 108.44 L165.79 107.02 L168.11 105.69 L170.29 104.43 L172.36 103.24 L174.32 102.11 L176.18 101.04 L177.96 100.02 L179.66 99.04 L181.29 98.09 L182.85 97.18 L184.35 96.29 L185.79 95.43 L187.18 94.59 L188.52 93.77 L189.81 92.96 L191.07 92.17 L192.28 91.42 L193.46 90.68 L194.6 89.97 L195.71 89.27 L196.78 88.58 L197.83 87.89 L198.85 87.22 L199.84 86.54 L200.81 85.87 L201.75 85.21 L202.67 84.54 L203.57 83.88 L204.45 83.22 L205.31 82.55 L206.15 81.88 L206.97 81.19 L207.78 80.5 L208.57 79.8 L209.34 79.09 L210.09 78.36 L210.84 77.62 L211.56 76.87 L212.28 76.1 L212.98 75.28 L213.67 74.41 L214.35 73.5 L215.01 72.55 L215.66 71.56 L216.31 70.55 L216.94 69.51 L217.56 68.45 L218.17 67.38 L218.77 66.29 L219.36 65.19 L219.95 64.08 L220.52 62.96 L221.09 61.81 L221.65 60.65 L222.2 59.47 L222.74 58.23 L223.27 56.95 L223.8 55.63 L224.32 54.29 L224.83 52.96 L225.34 51.63 L225.84 50.34 L226.33 49.07 L226.82 47.81 L227.3 46.59 L227.77 45.42 L228.24 44.3 L228.71 43.21 L229.16 42.14 L229.62 41.13 L230.06 40.17 L230.51 39.27 L230.94 38.42 L231.37 37.63 L231.8 36.89 L232.22 36.21 L232.64 35.59 L233.05 35.04 L233.46 34.54 L233.87 34.07 L234.27 33.63 L234.66 33.21 L235.06 32.81 L235.44 32.41 L235.83 32.02 L236.21 31.63 L236.58 31.24 L236.96 30.85" fill="none" stroke="#1A6FDF" stroke-width="0.9" opacity="0.8"/>
<path d="M59.83 119.42 L86.32 110.07 L101.81 103.11 L112.81 97.68 L121.34 93.38 L128.31 89.93 L134.2 87.03 L139.3 84.48 L143.8 82.56 L147.83 80.84 L151.47 79.03 L154.8 77.12 L157.86 75.19 L160.69 73.32 L163.32 71.56 L165.79 69.93 L168.11 68.45 L170.29 67.13 L172.36 65.9 L174.32 64.75 L176.18 63.66 L177.96 62.63 L179.66 61.67 L181.29 60.77 L182.85 59.93 L184.35 59.14 L185.79 58.4 L187.18 57.72 L188.52 57.09 L189.81 56.5 L191.07 55.94 L192.28 55.4 L193.46 54.88 L194.6 54.37 L195.71 53.86 L196.78 53.37 L197.83 52.87 L198.85 52.38 L199.84 51.88 L200.81 51.38 L201.75 50.88 L202.67 50.37 L203.57 49.87 L204.45 49.38 L205.31 48.88 L206.15 48.39 L206.97 47.91 L207.78 47.43 L208.57 46.93 L209.34 46.42 L210.09 45.92 L210.84 45.43 L211.56 44.95 L212.28 44.48 L212.98 44.02 L213.67 43.56 L214.35 43.12 L215.01 42.69 L215.66 42.27 L216.31 41.86 L216.94 41.46 L217.56 41.07 L218.17 40.69 L218.77 40.32 L219.36 39.96 L219.95 39.61 L220.52 39.27 L221.09 38.94 L221.65 38.61 L222.2 38.29 L222.74 37.98 L223.27 37.67 L223.8 37.37 L224.32 37.08 L224.83 36.79 L225.34 36.5 L225.84 36.22 L226.33 35.95 L226.82 35.68 L227.3 35.41 L227.77 35.15 L228.24 34.89 L228.71 34.63 L229.16 34.38 L229.62 34.13 L230.06 33.89 L230.51 33.64 L230.94 33.41 L231.37 33.17 L231.8 32.93 L232.22 32.7 L232.64 32.47 L233.05 32.25 L233.46 32.02 L233.87 31.8 L234.27 31.58 L234.66 31.36 L235.06 31.14 L235.44 30.93 L235.83 30.71 L236.21 30.5 L236.58 30.29 L236.96 30.08" fill="none" stroke="#1A6FDF" stroke-width="0.9" opacity="0.8"/>
<path d="M59.83 152.61L63.53 158.85H56.12Z" fill="#1A6FDF"/><path d="M86.32 142.36L90.02 148.6H82.61Z" fill="#1A6FDF"/><path d="M101.81 136.19L105.52 142.43H98.11Z" fill="#1A6FDF"/><path d="M112.81 131.51L116.51 137.75H109.1Z" fill="#1A6FDF"/><path d="M121.34 127.65L125.04 133.89H117.63Z" fill="#1A6FDF"/><path d="M128.31 124.23L132.01 130.47H124.6Z" fill="#1A6FDF"/><path d="M134.2 121.13L137.9 127.37H130.49Z" fill="#1A6FDF"/><path d="M139.3 118.33L143 124.57H135.59Z" fill="#1A6FDF"/><path d="M143.8 115.79L147.51 122.03H140.1Z" fill="#1A6FDF"/><path d="M147.83 113.48L151.53 119.72H144.12Z" fill="#1A6FDF"/><path d="M151.47 111.37L155.18 117.61H147.77Z" fill="#1A6FDF"/><path d="M154.8 109.45L158.5 115.69H151.09Z" fill="#1A6FDF"/><path d="M157.86 107.69L161.56 113.93H154.15Z" fill="#1A6FDF"/><path d="M160.69 106.05L164.39 112.29H156.98Z" fill="#1A6FDF"/><path d="M163.32 104.54L167.03 110.78H159.62Z" fill="#1A6FDF"/><path d="M165.79 103.12L169.5 109.36H162.09Z" fill="#1A6FDF"/><path d="M168.11 101.79L171.81 108.03H164.4Z" fill="#1A6FDF"/><path d="M170.29 100.53L174 106.77H166.59Z" fill="#1A6FDF"/><path d="M172.36 99.34L176.06 105.58H168.65Z" fill="#1A6FDF"/><path d="M174.32 98.21L178.02 104.45H170.61Z" fill="#1A6FDF"/><path d="M176.18 97.14L179.89 103.38H172.48Z" fill="#1A6FDF"/><path d="M177.96 96.12L181.67 102.36H174.26Z" fill="#1A6FDF"/><path d="M179.66 95.14L183.37 101.38H175.96Z" fill="#1A6FDF"/><path d="M181.29 94.19L184.99 100.43H177.58Z" fill="#1A6FDF"/><path d="M182.85 93.28L186.55 99.52H179.14Z" fill="#1A6FDF"/><path d="M184.35 92.39L188.05 98.63H180.64Z" fill="#1A6FDF"/><path d="M185.79 91.53L189.49 97.77H182.08Z" fill="#1A6FDF"/><path d="M187.18 90.69L190.88 96.93H183.47Z" fill="#1A6FDF"/><path d="M188.52 89.87L192.22 96.11H184.81Z" fill="#1A6FDF"/><path d="M189.81 89.06L193.52 95.3H186.11Z" fill="#1A6FDF"/><path d="M191.07 88.27L194.77 94.51H187.36Z" fill="#1A6FDF"/><path d="M192.28 87.52L195.99 93.76H188.58Z" fill="#1A6FDF"/><path d="M193.46 86.78L197.16 93.02H189.75Z" fill="#1A6FDF"/><path d="M194.6 86.07L198.3 92.31H190.89Z" fill="#1A6FDF"/><path d="M195.71 85.37L199.41 91.61H192Z" fill="#1A6FDF"/><path d="M196.78 84.68L200.49 90.92H193.08Z" fill="#1A6FDF"/><path d="M197.83 83.99L201.53 90.23H194.12Z" fill="#1A6FDF"/><path d="M198.85 83.32L202.55 89.56H195.14Z" fill="#1A6FDF"/><path d="M199.84 82.64L203.55 88.88H196.14Z" fill="#1A6FDF"/><path d="M200.81 81.97L204.51 88.21H197.1Z" fill="#1A6FDF"/><path d="M201.75 81.31L205.46 87.55H198.05Z" fill="#1A6FDF"/><path d="M202.67 80.64L206.38 86.88H198.97Z" fill="#1A6FDF"/><path d="M203.57 79.98L207.28 86.22H199.87Z" fill="#1A6FDF"/><path d="M204.45 79.32L208.16 85.56H200.75Z" fill="#1A6FDF"/><path d="M205.31 78.65L209.02 84.89H201.61Z" fill="#1A6FDF"/><path d="M206.15 77.98L209.86 84.22H202.45Z" fill="#1A6FDF"/><path d="M206.97 77.29L210.68 83.53H203.27Z" fill="#1A6FDF"/><path d="M207.78 76.6L211.48 82.84H204.07Z" fill="#1A6FDF"/><path d="M208.57 75.9L212.27 82.14H204.86Z" fill="#1A6FDF"/><path d="M209.34 75.19L213.04 81.43H205.63Z" fill="#1A6FDF"/><path d="M210.09 74.46L213.8 80.7H206.39Z" fill="#1A6FDF"/><path d="M210.84 73.72L214.54 79.96H207.13Z" fill="#1A6FDF"/><path d="M211.56 72.97L215.27 79.21H207.86Z" fill="#1A6FDF"/><path d="M212.28 72.2L215.98 78.44H208.57Z" fill="#1A6FDF"/><path d="M212.98 71.38L216.68 77.62H209.27Z" fill="#1A6FDF"/><path d="M213.67 70.51L217.37 76.75H209.96Z" fill="#1A6FDF"/><path d="M214.35 69.6L218.05 75.84H210.64Z" fill="#1A6FDF"/><path d="M215.01 68.65L218.71 74.89H211.3Z" fill="#1A6FDF"/><path d="M215.66 67.66L219.37 73.9H211.96Z" fill="#1A6FDF"/><path d="M216.31 66.65L220.01 72.89H212.6Z" fill="#1A6FDF"/><path d="M216.94 65.61L220.64 71.85H213.23Z" fill="#1A6FDF"/><path d="M217.56 64.55L221.26 70.79H213.85Z" fill="#1A6FDF"/><path d="M218.17 63.48L221.88 69.72H214.47Z" fill="#1A6FDF"/><path d="M218.77 62.39L222.48 68.63H215.07Z" fill="#1A6FDF"/><path d="M219.36 61.29L223.07 67.53H215.66Z" fill="#1A6FDF"/><path d="M219.95 60.18L223.65 66.42H216.24Z" fill="#1A6FDF"/><path d="M220.52 59.06L224.23 65.3H216.82Z" fill="#1A6FDF"/><path d="M221.09 57.91L224.79 64.15H217.38Z" fill="#1A6FDF"/><path d="M221.65 56.75L225.35 62.99H217.94Z" fill="#1A6FDF"/><path d="M222.2 55.57L225.9 61.81H218.49Z" fill="#1A6FDF"/><path d="M222.74 54.33L226.44 60.57H219.03Z" fill="#1A6FDF"/><path d="M223.27 53.05L226.98 59.29H219.57Z" fill="#1A6FDF"/><path d="M223.8 51.73L227.51 57.97H220.1Z" fill="#1A6FDF"/><path d="M224.32 50.39L228.03 56.63H220.62Z" fill="#1A6FDF"/><path d="M224.83 49.06L228.54 55.3H221.13Z" fill="#1A6FDF"/><path d="M225.34 47.73L229.04 53.97H221.63Z" fill="#1A6FDF"/><path d="M225.84 46.44L229.54 52.68H222.13Z" fill="#1A6FDF"/><path d="M226.33 45.17L230.04 51.41H222.63Z" fill="#1A6FDF"/><path d="M226.82 43.91L230.52 50.15H223.11Z" fill="#1A6FDF"/><path d="M227.3 42.69L231 48.93H223.59Z" fill="#1A6FDF"/><path d="M227.77 41.52L231.48 47.76H224.07Z" fill="#1A6FDF"/><path d="M228.24 40.4L231.95 46.64H224.54Z" fill="#1A6FDF"/><path d="M228.71 39.31L232.41 45.55H225Z" fill="#1A6FDF"/><path d="M229.16 38.24L232.87 44.48H225.46Z" fill="#1A6FDF"/><path d="M229.62 37.23L233.32 43.47H225.91Z" fill="#1A6FDF"/><path d="M230.06 36.27L233.77 42.51H226.36Z" fill="#1A6FDF"/><path d="M230.51 35.37L234.21 41.61H226.8Z" fill="#1A6FDF"/><path d="M230.94 34.52L234.65 40.76H227.24Z" fill="#1A6FDF"/><path d="M231.37 33.73L235.08 39.97H227.67Z" fill="#1A6FDF"/><path d="M231.8 32.99L235.51 39.23H228.1Z" fill="#1A6FDF"/><path d="M232.22 32.31L235.93 38.55H228.52Z" fill="#1A6FDF"/><path d="M232.64 31.69L236.35 37.93H228.94Z" fill="#1A6FDF"/><path d="M233.05 31.14L236.76 37.38H229.35Z" fill="#1A6FDF"/><path d="M233.46 30.64L237.17 36.88H229.76Z" fill="#1A6FDF"/><path d="M233.87 30.17L237.57 36.41H230.16Z" fill="#1A6FDF"/><path d="M234.27 29.73L237.97 35.97H230.56Z" fill="#1A6FDF"/><path d="M234.66 29.31L238.37 35.55H230.96Z" fill="#1A6FDF"/><path d="M235.06 28.91L238.76 35.15H231.35Z" fill="#1A6FDF"/><path d="M235.44 28.51L239.15 34.75H231.74Z" fill="#1A6FDF"/><path d="M235.83 28.12L239.53 34.36H232.12Z" fill="#1A6FDF"/><path d="M236.21 27.73L239.91 33.97H232.5Z" fill="#1A6FDF"/><path d="M236.58 27.34L240.29 33.58H232.88Z" fill="#1A6FDF"/><path d="M236.96 26.95L240.66 33.19H233.25Z" fill="#1A6FDF"/><path d="M59.83 115.52L63.53 121.76H56.12Z" fill="#1A6FDF"/><path d="M86.32 106.17L90.02 112.41H82.61Z" fill="#1A6FDF"/><path d="M101.81 99.21L105.52 105.45H98.11Z" fill="#1A6FDF"/><path d="M112.81 93.78L116.51 100.02H109.1Z" fill="#1A6FDF"/><path d="M121.34 89.48L125.04 95.72H117.63Z" fill="#1A6FDF"/><path d="M128.31 86.03L132.01 92.27H124.6Z" fill="#1A6FDF"/><path d="M134.2 83.13L137.9 89.37H130.49Z" fill="#1A6FDF"/><path d="M139.3 80.58L143 86.82H135.59Z" fill="#1A6FDF"/><path d="M143.8 78.66L147.51 84.9H140.1Z" fill="#1A6FDF"/><path d="M147.83 76.94L151.53 83.18H144.12Z" fill="#1A6FDF"/><path d="M151.47 75.13L155.18 81.37H147.77Z" fill="#1A6FDF"/><path d="M154.8 73.22L158.5 79.46H151.09Z" fill="#1A6FDF"/><path d="M157.86 71.29L161.56 77.53H154.15Z" fill="#1A6FDF"/><path d="M160.69 69.42L164.39 75.66H156.98Z" fill="#1A6FDF"/><path d="M163.32 67.66L167.03 73.9H159.62Z" fill="#1A6FDF"/><path d="M165.79 66.03L169.5 72.27H162.09Z" fill="#1A6FDF"/><path d="M168.11 64.55L171.81 70.79H164.4Z" fill="#1A6FDF"/><path d="M170.29 63.23L174 69.47H166.59Z" fill="#1A6FDF"/><path d="M172.36 62L176.06 68.24H168.65Z" fill="#1A6FDF"/><path d="M174.32 60.85L178.02 67.09H170.61Z" fill="#1A6FDF"/><path d="M176.18 59.76L179.89 66H172.48Z" fill="#1A6FDF"/><path d="M177.96 58.73L181.67 64.97H174.26Z" fill="#1A6FDF"/><path d="M179.66 57.77L183.37 64.01H175.96Z" fill="#1A6FDF"/><path d="M181.29 56.87L184.99 63.11H177.58Z" fill="#1A6FDF"/><path d="M182.85 56.03L186.55 62.27H179.14Z" fill="#1A6FDF"/><path d="M184.35 55.24L188.05 61.48H180.64Z" fill="#1A6FDF"/><path d="M185.79 54.5L189.49 60.74H182.08Z" fill="#1A6FDF"/><path d="M187.18 53.82L190.88 60.06H183.47Z" fill="#1A6FDF"/><path d="M188.52 53.19L192.22 59.43H184.81Z" fill="#1A6FDF"/><path d="M189.81 52.6L193.52 58.84H186.11Z" fill="#1A6FDF"/><path d="M191.07 52.04L194.77 58.28H187.36Z" fill="#1A6FDF"/><path d="M192.28 51.5L195.99 57.74H188.58Z" fill="#1A6FDF"/><path d="M193.46 50.98L197.16 57.22H189.75Z" fill="#1A6FDF"/><path d="M194.6 50.47L198.3 56.71H190.89Z" fill="#1A6FDF"/><path d="M195.71 49.96L199.41 56.2H192Z" fill="#1A6FDF"/><path d="M196.78 49.47L200.49 55.71H193.08Z" fill="#1A6FDF"/><path d="M197.83 48.97L201.53 55.21H194.12Z" fill="#1A6FDF"/><path d="M198.85 48.48L202.55 54.72H195.14Z" fill="#1A6FDF"/><path d="M199.84 47.98L203.55 54.22H196.14Z" fill="#1A6FDF"/><path d="M200.81 47.48L204.51 53.72H197.1Z" fill="#1A6FDF"/><path d="M201.75 46.98L205.46 53.22H198.05Z" fill="#1A6FDF"/><path d="M202.67 46.47L206.38 52.71H198.97Z" fill="#1A6FDF"/><path d="M203.57 45.97L207.28 52.21H199.87Z" fill="#1A6FDF"/><path d="M204.45 45.48L208.16 51.72H200.75Z" fill="#1A6FDF"/><path d="M205.31 44.98L209.02 51.22H201.61Z" fill="#1A6FDF"/><path d="M206.15 44.49L209.86 50.73H202.45Z" fill="#1A6FDF"/><path d="M206.97 44.01L210.68 50.25H203.27Z" fill="#1A6FDF"/><path d="M207.78 43.53L211.48 49.77H204.07Z" fill="#1A6FDF"/><path d="M208.57 43.03L212.27 49.27H204.86Z" fill="#1A6FDF"/><path d="M209.34 42.52L213.04 48.76H205.63Z" fill="#1A6FDF"/><path d="M210.09 42.02L213.8 48.26H206.39Z" fill="#1A6FDF"/><path d="M210.84 41.53L214.54 47.77H207.13Z" fill="#1A6FDF"/><path d="M211.56 41.05L215.27 47.29H207.86Z" fill="#1A6FDF"/><path d="M212.28 40.58L215.98 46.82H208.57Z" fill="#1A6FDF"/><path d="M212.98 40.12L216.68 46.36H209.27Z" fill="#1A6FDF"/><path d="M213.67 39.66L217.37 45.9H209.96Z" fill="#1A6FDF"/><path d="M214.35 39.22L218.05 45.46H210.64Z" fill="#1A6FDF"/><path d="M215.01 38.79L218.71 45.03H211.3Z" fill="#1A6FDF"/><path d="M215.66 38.37L219.37 44.61H211.96Z" fill="#1A6FDF"/><path d="M216.31 37.96L220.01 44.2H212.6Z" fill="#1A6FDF"/><path d="M216.94 37.56L220.64 43.8H213.23Z" fill="#1A6FDF"/><path d="M217.56 37.17L221.26 43.41H213.85Z" fill="#1A6FDF"/><path d="M218.17 36.79L221.88 43.03H214.47Z" fill="#1A6FDF"/><path d="M218.77 36.42L222.48 42.66H215.07Z" fill="#1A6FDF"/><path d="M219.36 36.06L223.07 42.3H215.66Z" fill="#1A6FDF"/><path d="M219.95 35.71L223.65 41.95H216.24Z" fill="#1A6FDF"/><path d="M220.52 35.37L224.23 41.61H216.82Z" fill="#1A6FDF"/><path d="M221.09 35.04L224.79 41.28H217.38Z" fill="#1A6FDF"/><path d="M221.65 34.71L225.35 40.95H217.94Z" fill="#1A6FDF"/><path d="M222.2 34.39L225.9 40.63H218.49Z" fill="#1A6FDF"/><path d="M222.74 34.08L226.44 40.32H219.03Z" fill="#1A6FDF"/><path d="M223.27 33.77L226.98 40.01H219.57Z" fill="#1A6FDF"/><path d="M223.8 33.47L227.51 39.71H220.1Z" fill="#1A6FDF"/><path d="M224.32 33.18L228.03 39.42H220.62Z" fill="#1A6FDF"/><path d="M224.83 32.89L228.54 39.13H221.13Z" fill="#1A6FDF"/><path d="M225.34 32.6L229.04 38.84H221.63Z" fill="#1A6FDF"/><path d="M225.84 32.32L229.54 38.56H222.13Z" fill="#1A6FDF"/><path d="M226.33 32.05L230.04 38.29H222.63Z" fill="#1A6FDF"/><path d="M226.82 31.78L230.52 38.02H223.11Z" fill="#1A6FDF"/><path d="M227.3 31.51L231 37.75H223.59Z" fill="#1A6FDF"/><path d="M227.77 31.25L231.48 37.49H224.07Z" fill="#1A6FDF"/><path d="M228.24 30.99L231.95 37.23H224.54Z" fill="#1A6FDF"/><path d="M228.71 30.73L232.41 36.97H225Z" fill="#1A6FDF"/><path d="M229.16 30.48L232.87 36.72H225.46Z" fill="#1A6FDF"/><path d="M229.62 30.23L233.32 36.47H225.91Z" fill="#1A6FDF"/><path d="M230.06 29.99L233.77 36.23H226.36Z" fill="#1A6FDF"/><path d="M230.51 29.74L234.21 35.98H226.8Z" fill="#1A6FDF"/><path d="M230.94 29.51L234.65 35.75H227.24Z" fill="#1A6FDF"/><path d="M231.37 29.27L235.08 35.51H227.67Z" fill="#1A6FDF"/><path d="M231.8 29.03L235.51 35.27H228.1Z" fill="#1A6FDF"/><path d="M232.22 28.8L235.93 35.04H228.52Z" fill="#1A6FDF"/><path d="M232.64 28.57L236.35 34.81H228.94Z" fill="#1A6FDF"/><path d="M233.05 28.35L236.76 34.59H229.35Z" fill="#1A6FDF"/><path d="M233.46 28.12L237.17 34.36H229.76Z" fill="#1A6FDF"/><path d="M233.87 27.9L237.57 34.14H230.16Z" fill="#1A6FDF"/><path d="M234.27 27.68L237.97 33.92H230.56Z" fill="#1A6FDF"/><path d="M234.66 27.46L238.37 33.7H230.96Z" fill="#1A6FDF"/><path d="M235.06 27.24L238.76 33.48H231.35Z" fill="#1A6FDF"/><path d="M235.44 27.03L239.15 33.27H231.74Z" fill="#1A6FDF"/><path d="M235.83 26.81L239.53 33.05H232.12Z" fill="#1A6FDF"/><path d="M236.21 26.6L239.91 32.84H232.5Z" fill="#1A6FDF"/><path d="M236.58 26.39L240.29 32.63H232.88Z" fill="#1A6FDF"/><path d="M236.96 26.18L240.66 32.42H233.25Z" fill="#1A6FDF"/>
<path d="M59.83 152.21 L86.32 142.08 L101.81 135.96 L112.81 131.32 L121.34 127.52 L128.31 124.18 L134.2 121.17 L139.3 118.45 L143.8 115.98 L147.83 113.7 L151.47 111.62 L154.8 109.72 L157.86 107.96 L160.69 106.34 L163.32 104.83 L165.79 103.41 L168.11 102.09 L170.29 100.85 L172.36 99.67 L174.32 98.56 L176.18 97.51 L177.96 96.51 L179.66 95.56 L181.29 94.65 L182.85 93.77 L184.35 92.91 L185.79 92.09 L187.18 91.28 L188.52 90.49 L189.81 89.72 L191.07 88.97 L192.28 88.25 L193.46 87.54 L194.6 86.85 L195.71 86.18 L196.78 85.51 L197.83 84.85 L198.85 84.2 L199.84 83.55 L200.81 82.91 L201.75 82.27 L202.67 81.64 L203.57 81.01 L204.45 80.38 L205.31 79.74 L206.15 79.1 L206.97 78.46 L207.78 77.8 L208.57 77.14 L209.34 76.46 L210.09 75.78 L210.84 75.08 L211.56 74.36 L212.28 73.63 L212.98 72.86 L213.67 72.04 L214.35 71.19 L215.01 70.3 L215.66 69.38 L216.31 68.43 L216.94 67.46 L217.56 66.47 L218.17 65.47 L218.77 64.45 L219.36 63.42 L219.95 62.38 L220.52 61.32 L221.09 60.23 L221.65 59.12 L222.2 57.99 L222.74 56.8 L223.27 55.58 L223.8 54.33 L224.32 53.06 L224.83 51.8 L225.34 50.55 L225.84 49.33 L226.33 48.13 L226.82 46.94 L227.3 45.77 L227.77 44.63 L228.24 43.55 L228.71 42.5 L229.16 41.48 L229.62 40.52 L230.06 39.62 L230.51 38.78 L230.94 37.99 L231.37 37.25 L231.8 36.56 L232.22 35.93 L232.64 35.35 L233.05 34.82 L233.46 34.34 L233.87 33.89 L234.27 33.46 L234.66 33.04 L235.06 32.64 L235.44 32.25 L235.83 31.85 L236.21 31.46 L236.58 31.07 L236.96 30.68" fill="none" stroke="#37AD6B" stroke-width="0.9" opacity="0.8"/>
<path d="M59.83 118.42 L86.32 109.07 L101.81 102.4 L112.81 97.18 L121.34 93.03 L128.31 89.71 L134.2 86.92 L139.3 84.47 L143.8 82.56 L147.83 80.84 L151.47 79.03 L154.8 77.12 L157.86 75.19 L160.69 73.32 L163.32 71.56 L165.79 69.93 L168.11 68.45 L170.29 67.13 L172.36 65.9 L174.32 64.75 L176.18 63.66 L177.96 62.63 L179.66 61.67 L181.29 60.77 L182.85 59.93 L184.35 59.14 L185.79 58.4 L187.18 57.72 L188.52 57.09 L189.81 56.5 L191.07 55.94 L192.28 55.4 L193.46 54.88 L194.6 54.37 L195.71 53.86 L196.78 53.37 L197.83 52.87 L198.85 52.38 L199.84 51.88 L200.81 51.38 L201.75 50.88 L202.67 50.37 L203.57 49.87 L204.45 49.38 L205.31 48.88 L206.15 48.39 L206.97 47.91 L207.78 47.43 L208.57 46.93 L209.34 46.42 L210.09 45.92 L210.84 45.43 L211.56 44.95 L212.28 44.48 L212.98 44.02 L213.67 43.56 L214.35 43.12 L215.01 42.69 L215.66 42.27 L216.31 41.86 L216.94 41.46 L217.56 41.07 L218.17 40.69 L218.77 40.32 L219.36 39.96 L219.95 39.61 L220.52 39.27 L221.09 38.94 L221.65 38.61 L222.2 38.29 L222.74 37.98 L223.27 37.67 L223.8 37.37 L224.32 37.08 L224.83 36.79 L225.34 36.5 L225.84 36.22 L226.33 35.95 L226.82 35.68 L227.3 35.41 L227.77 35.15 L228.24 34.89 L228.71 34.63 L229.16 34.38 L229.62 34.13 L230.06 33.89 L230.51 33.64 L230.94 33.41 L231.37 33.17 L231.8 32.93 L232.22 32.7 L232.64 32.47 L233.05 32.25 L233.46 32.02 L233.87 31.8 L234.27 31.58 L234.66 31.36 L235.06 31.14 L235.44 30.93 L235.83 30.71 L236.21 30.5 L236.58 30.29 L236.96 30.08" fill="none" stroke="#37AD6B" stroke-width="0.9" opacity="0.8"/>
<path d="M59.83 156.11L63.53 149.87H56.12Z" fill="#37AD6B"/><path d="M86.32 145.98L90.02 139.74H82.61Z" fill="#37AD6B"/><path d="M101.81 139.86L105.52 133.62H98.11Z" fill="#37AD6B"/><path d="M112.81 135.22L116.51 128.98H109.1Z" fill="#37AD6B"/><path d="M121.34 131.42L125.04 125.18H117.63Z" fill="#37AD6B"/><path d="M128.31 128.08L132.01 121.84H124.6Z" fill="#37AD6B"/><path d="M134.2 125.07L137.9 118.83H130.49Z" fill="#37AD6B"/><path d="M139.3 122.35L143 116.11H135.59Z" fill="#37AD6B"/><path d="M143.8 119.88L147.51 113.64H140.1Z" fill="#37AD6B"/><path d="M147.83 117.6L151.53 111.36H144.12Z" fill="#37AD6B"/><path d="M151.47 115.52L155.18 109.28H147.77Z" fill="#37AD6B"/><path d="M154.8 113.62L158.5 107.38H151.09Z" fill="#37AD6B"/><path d="M157.86 111.86L161.56 105.62H154.15Z" fill="#37AD6B"/><path d="M160.69 110.24L164.39 104H156.98Z" fill="#37AD6B"/><path d="M163.32 108.73L167.03 102.49H159.62Z" fill="#37AD6B"/><path d="M165.79 107.31L169.5 101.07H162.09Z" fill="#37AD6B"/><path d="M168.11 105.99L171.81 99.75H164.4Z" fill="#37AD6B"/><path d="M170.29 104.75L174 98.51H166.59Z" fill="#37AD6B"/><path d="M172.36 103.57L176.06 97.33H168.65Z" fill="#37AD6B"/><path d="M174.32 102.46L178.02 96.22H170.61Z" fill="#37AD6B"/><path d="M176.18 101.41L179.89 95.17H172.48Z" fill="#37AD6B"/><path d="M177.96 100.41L181.67 94.17H174.26Z" fill="#37AD6B"/><path d="M179.66 99.46L183.37 93.22H175.96Z" fill="#37AD6B"/><path d="M181.29 98.55L184.99 92.31H177.58Z" fill="#37AD6B"/><path d="M182.85 97.67L186.55 91.43H179.14Z" fill="#37AD6B"/><path d="M184.35 96.81L188.05 90.57H180.64Z" fill="#37AD6B"/><path d="M185.79 95.99L189.49 89.75H182.08Z" fill="#37AD6B"/><path d="M187.18 95.18L190.88 88.94H183.47Z" fill="#37AD6B"/><path d="M188.52 94.39L192.22 88.15H184.81Z" fill="#37AD6B"/><path d="M189.81 93.62L193.52 87.38H186.11Z" fill="#37AD6B"/><path d="M191.07 92.87L194.77 86.63H187.36Z" fill="#37AD6B"/><path d="M192.28 92.15L195.99 85.91H188.58Z" fill="#37AD6B"/><path d="M193.46 91.44L197.16 85.2H189.75Z" fill="#37AD6B"/><path d="M194.6 90.75L198.3 84.51H190.89Z" fill="#37AD6B"/><path d="M195.71 90.08L199.41 83.84H192Z" fill="#37AD6B"/><path d="M196.78 89.41L200.49 83.17H193.08Z" fill="#37AD6B"/><path d="M197.83 88.75L201.53 82.51H194.12Z" fill="#37AD6B"/><path d="M198.85 88.1L202.55 81.86H195.14Z" fill="#37AD6B"/><path d="M199.84 87.45L203.55 81.21H196.14Z" fill="#37AD6B"/><path d="M200.81 86.81L204.51 80.57H197.1Z" fill="#37AD6B"/><path d="M201.75 86.17L205.46 79.93H198.05Z" fill="#37AD6B"/><path d="M202.67 85.54L206.38 79.3H198.97Z" fill="#37AD6B"/><path d="M203.57 84.91L207.28 78.67H199.87Z" fill="#37AD6B"/><path d="M204.45 84.28L208.16 78.04H200.75Z" fill="#37AD6B"/><path d="M205.31 83.64L209.02 77.4H201.61Z" fill="#37AD6B"/><path d="M206.15 83L209.86 76.76H202.45Z" fill="#37AD6B"/><path d="M206.97 82.36L210.68 76.12H203.27Z" fill="#37AD6B"/><path d="M207.78 81.7L211.48 75.46H204.07Z" fill="#37AD6B"/><path d="M208.57 81.04L212.27 74.8H204.86Z" fill="#37AD6B"/><path d="M209.34 80.36L213.04 74.12H205.63Z" fill="#37AD6B"/><path d="M210.09 79.68L213.8 73.44H206.39Z" fill="#37AD6B"/><path d="M210.84 78.98L214.54 72.74H207.13Z" fill="#37AD6B"/><path d="M211.56 78.26L215.27 72.02H207.86Z" fill="#37AD6B"/><path d="M212.28 77.53L215.98 71.29H208.57Z" fill="#37AD6B"/><path d="M212.98 76.76L216.68 70.52H209.27Z" fill="#37AD6B"/><path d="M213.67 75.94L217.37 69.7H209.96Z" fill="#37AD6B"/><path d="M214.35 75.09L218.05 68.85H210.64Z" fill="#37AD6B"/><path d="M215.01 74.2L218.71 67.96H211.3Z" fill="#37AD6B"/><path d="M215.66 73.28L219.37 67.04H211.96Z" fill="#37AD6B"/><path d="M216.31 72.33L220.01 66.09H212.6Z" fill="#37AD6B"/><path d="M216.94 71.36L220.64 65.12H213.23Z" fill="#37AD6B"/><path d="M217.56 70.37L221.26 64.13H213.85Z" fill="#37AD6B"/><path d="M218.17 69.37L221.88 63.13H214.47Z" fill="#37AD6B"/><path d="M218.77 68.35L222.48 62.11H215.07Z" fill="#37AD6B"/><path d="M219.36 67.32L223.07 61.08H215.66Z" fill="#37AD6B"/><path d="M219.95 66.28L223.65 60.04H216.24Z" fill="#37AD6B"/><path d="M220.52 65.22L224.23 58.98H216.82Z" fill="#37AD6B"/><path d="M221.09 64.13L224.79 57.89H217.38Z" fill="#37AD6B"/><path d="M221.65 63.02L225.35 56.78H217.94Z" fill="#37AD6B"/><path d="M222.2 61.89L225.9 55.65H218.49Z" fill="#37AD6B"/><path d="M222.74 60.7L226.44 54.46H219.03Z" fill="#37AD6B"/><path d="M223.27 59.48L226.98 53.24H219.57Z" fill="#37AD6B"/><path d="M223.8 58.23L227.51 51.99H220.1Z" fill="#37AD6B"/><path d="M224.32 56.96L228.03 50.72H220.62Z" fill="#37AD6B"/><path d="M224.83 55.7L228.54 49.46H221.13Z" fill="#37AD6B"/><path d="M225.34 54.45L229.04 48.21H221.63Z" fill="#37AD6B"/><path d="M225.84 53.23L229.54 46.99H222.13Z" fill="#37AD6B"/><path d="M226.33 52.03L230.04 45.79H222.63Z" fill="#37AD6B"/><path d="M226.82 50.84L230.52 44.6H223.11Z" fill="#37AD6B"/><path d="M227.3 49.67L231 43.43H223.59Z" fill="#37AD6B"/><path d="M227.77 48.53L231.48 42.29H224.07Z" fill="#37AD6B"/><path d="M228.24 47.45L231.95 41.21H224.54Z" fill="#37AD6B"/><path d="M228.71 46.4L232.41 40.16H225Z" fill="#37AD6B"/><path d="M229.16 45.38L232.87 39.14H225.46Z" fill="#37AD6B"/><path d="M229.62 44.42L233.32 38.18H225.91Z" fill="#37AD6B"/><path d="M230.06 43.52L233.77 37.28H226.36Z" fill="#37AD6B"/><path d="M230.51 42.68L234.21 36.44H226.8Z" fill="#37AD6B"/><path d="M230.94 41.89L234.65 35.65H227.24Z" fill="#37AD6B"/><path d="M231.37 41.15L235.08 34.91H227.67Z" fill="#37AD6B"/><path d="M231.8 40.46L235.51 34.22H228.1Z" fill="#37AD6B"/><path d="M232.22 39.83L235.93 33.59H228.52Z" fill="#37AD6B"/><path d="M232.64 39.25L236.35 33.01H228.94Z" fill="#37AD6B"/><path d="M233.05 38.72L236.76 32.48H229.35Z" fill="#37AD6B"/><path d="M233.46 38.24L237.17 32H229.76Z" fill="#37AD6B"/><path d="M233.87 37.79L237.57 31.55H230.16Z" fill="#37AD6B"/><path d="M234.27 37.36L237.97 31.12H230.56Z" fill="#37AD6B"/><path d="M234.66 36.94L238.37 30.7H230.96Z" fill="#37AD6B"/><path d="M235.06 36.54L238.76 30.3H231.35Z" fill="#37AD6B"/><path d="M235.44 36.15L239.15 29.91H231.74Z" fill="#37AD6B"/><path d="M235.83 35.75L239.53 29.51H232.12Z" fill="#37AD6B"/><path d="M236.21 35.36L239.91 29.12H232.5Z" fill="#37AD6B"/><path d="M236.58 34.97L240.29 28.73H232.88Z" fill="#37AD6B"/><path d="M236.96 34.58L240.66 28.34H233.25Z" fill="#37AD6B"/><path d="M59.83 122.32L63.53 116.08H56.12Z" fill="#37AD6B"/><path d="M86.32 112.97L90.02 106.73H82.61Z" fill="#37AD6B"/><path d="M101.81 106.3L105.52 100.06H98.11Z" fill="#37AD6B"/><path d="M112.81 101.08L116.51 94.84H109.1Z" fill="#37AD6B"/><path d="M121.34 96.93L125.04 90.69H117.63Z" fill="#37AD6B"/><path d="M128.31 93.61L132.01 87.37H124.6Z" fill="#37AD6B"/><path d="M134.2 90.82L137.9 84.58H130.49Z" fill="#37AD6B"/><path d="M139.3 88.37L143 82.13H135.59Z" fill="#37AD6B"/><path d="M143.8 86.46L147.51 80.22H140.1Z" fill="#37AD6B"/><path d="M147.83 84.74L151.53 78.5H144.12Z" fill="#37AD6B"/><path d="M151.47 82.93L155.18 76.69H147.77Z" fill="#37AD6B"/><path d="M154.8 81.02L158.5 74.78H151.09Z" fill="#37AD6B"/><path d="M157.86 79.09L161.56 72.85H154.15Z" fill="#37AD6B"/><path d="M160.69 77.22L164.39 70.98H156.98Z" fill="#37AD6B"/><path d="M163.32 75.46L167.03 69.22H159.62Z" fill="#37AD6B"/><path d="M165.79 73.83L169.5 67.59H162.09Z" fill="#37AD6B"/><path d="M168.11 72.35L171.81 66.11H164.4Z" fill="#37AD6B"/><path d="M170.29 71.03L174 64.79H166.59Z" fill="#37AD6B"/><path d="M172.36 69.8L176.06 63.56H168.65Z" fill="#37AD6B"/><path d="M174.32 68.65L178.02 62.41H170.61Z" fill="#37AD6B"/><path d="M176.18 67.56L179.89 61.32H172.48Z" fill="#37AD6B"/><path d="M177.96 66.53L181.67 60.29H174.26Z" fill="#37AD6B"/><path d="M179.66 65.57L183.37 59.33H175.96Z" fill="#37AD6B"/><path d="M181.29 64.67L184.99 58.43H177.58Z" fill="#37AD6B"/><path d="M182.85 63.83L186.55 57.59H179.14Z" fill="#37AD6B"/><path d="M184.35 63.04L188.05 56.8H180.64Z" fill="#37AD6B"/><path d="M185.79 62.3L189.49 56.06H182.08Z" fill="#37AD6B"/><path d="M187.18 61.62L190.88 55.38H183.47Z" fill="#37AD6B"/><path d="M188.52 60.99L192.22 54.75H184.81Z" fill="#37AD6B"/><path d="M189.81 60.4L193.52 54.16H186.11Z" fill="#37AD6B"/><path d="M191.07 59.84L194.77 53.6H187.36Z" fill="#37AD6B"/><path d="M192.28 59.3L195.99 53.06H188.58Z" fill="#37AD6B"/><path d="M193.46 58.78L197.16 52.54H189.75Z" fill="#37AD6B"/><path d="M194.6 58.27L198.3 52.03H190.89Z" fill="#37AD6B"/><path d="M195.71 57.76L199.41 51.52H192Z" fill="#37AD6B"/><path d="M196.78 57.27L200.49 51.03H193.08Z" fill="#37AD6B"/><path d="M197.83 56.77L201.53 50.53H194.12Z" fill="#37AD6B"/><path d="M198.85 56.28L202.55 50.04H195.14Z" fill="#37AD6B"/><path d="M199.84 55.78L203.55 49.54H196.14Z" fill="#37AD6B"/><path d="M200.81 55.28L204.51 49.04H197.1Z" fill="#37AD6B"/><path d="M201.75 54.78L205.46 48.54H198.05Z" fill="#37AD6B"/><path d="M202.67 54.27L206.38 48.03H198.97Z" fill="#37AD6B"/><path d="M203.57 53.77L207.28 47.53H199.87Z" fill="#37AD6B"/><path d="M204.45 53.28L208.16 47.04H200.75Z" fill="#37AD6B"/><path d="M205.31 52.78L209.02 46.54H201.61Z" fill="#37AD6B"/><path d="M206.15 52.29L209.86 46.05H202.45Z" fill="#37AD6B"/><path d="M206.97 51.81L210.68 45.57H203.27Z" fill="#37AD6B"/><path d="M207.78 51.33L211.48 45.09H204.07Z" fill="#37AD6B"/><path d="M208.57 50.83L212.27 44.59H204.86Z" fill="#37AD6B"/><path d="M209.34 50.32L213.04 44.08H205.63Z" fill="#37AD6B"/><path d="M210.09 49.82L213.8 43.58H206.39Z" fill="#37AD6B"/><path d="M210.84 49.33L214.54 43.09H207.13Z" fill="#37AD6B"/><path d="M211.56 48.85L215.27 42.61H207.86Z" fill="#37AD6B"/><path d="M212.28 48.38L215.98 42.14H208.57Z" fill="#37AD6B"/><path d="M212.98 47.92L216.68 41.68H209.27Z" fill="#37AD6B"/><path d="M213.67 47.46L217.37 41.22H209.96Z" fill="#37AD6B"/><path d="M214.35 47.02L218.05 40.78H210.64Z" fill="#37AD6B"/><path d="M215.01 46.59L218.71 40.35H211.3Z" fill="#37AD6B"/><path d="M215.66 46.17L219.37 39.93H211.96Z" fill="#37AD6B"/><path d="M216.31 45.76L220.01 39.52H212.6Z" fill="#37AD6B"/><path d="M216.94 45.36L220.64 39.12H213.23Z" fill="#37AD6B"/><path d="M217.56 44.97L221.26 38.73H213.85Z" fill="#37AD6B"/><path d="M218.17 44.59L221.88 38.35H214.47Z" fill="#37AD6B"/><path d="M218.77 44.22L222.48 37.98H215.07Z" fill="#37AD6B"/><path d="M219.36 43.86L223.07 37.62H215.66Z" fill="#37AD6B"/><path d="M219.95 43.51L223.65 37.27H216.24Z" fill="#37AD6B"/><path d="M220.52 43.17L224.23 36.93H216.82Z" fill="#37AD6B"/><path d="M221.09 42.84L224.79 36.6H217.38Z" fill="#37AD6B"/><path d="M221.65 42.51L225.35 36.27H217.94Z" fill="#37AD6B"/><path d="M222.2 42.19L225.9 35.95H218.49Z" fill="#37AD6B"/><path d="M222.74 41.88L226.44 35.64H219.03Z" fill="#37AD6B"/><path d="M223.27 41.57L226.98 35.33H219.57Z" fill="#37AD6B"/><path d="M223.8 41.27L227.51 35.03H220.1Z" fill="#37AD6B"/><path d="M224.32 40.98L228.03 34.74H220.62Z" fill="#37AD6B"/><path d="M224.83 40.69L228.54 34.45H221.13Z" fill="#37AD6B"/><path d="M225.34 40.4L229.04 34.16H221.63Z" fill="#37AD6B"/><path d="M225.84 40.12L229.54 33.88H222.13Z" fill="#37AD6B"/><path d="M226.33 39.85L230.04 33.61H222.63Z" fill="#37AD6B"/><path d="M226.82 39.58L230.52 33.34H223.11Z" fill="#37AD6B"/><path d="M227.3 39.31L231 33.07H223.59Z" fill="#37AD6B"/><path d="M227.77 39.05L231.48 32.81H224.07Z" fill="#37AD6B"/><path d="M228.24 38.79L231.95 32.55H224.54Z" fill="#37AD6B"/><path d="M228.71 38.53L232.41 32.29H225Z" fill="#37AD6B"/><path d="M229.16 38.28L232.87 32.04H225.46Z" fill="#37AD6B"/><path d="M229.62 38.03L233.32 31.79H225.91Z" fill="#37AD6B"/><path d="M230.06 37.79L233.77 31.55H226.36Z" fill="#37AD6B"/><path d="M230.51 37.54L234.21 31.3H226.8Z" fill="#37AD6B"/><path d="M230.94 37.31L234.65 31.07H227.24Z" fill="#37AD6B"/><path d="M231.37 37.07L235.08 30.83H227.67Z" fill="#37AD6B"/><path d="M231.8 36.83L235.51 30.59H228.1Z" fill="#37AD6B"/><path d="M232.22 36.6L235.93 30.36H228.52Z" fill="#37AD6B"/><path d="M232.64 36.37L236.35 30.13H228.94Z" fill="#37AD6B"/><path d="M233.05 36.15L236.76 29.91H229.35Z" fill="#37AD6B"/><path d="M233.46 35.92L237.17 29.68H229.76Z" fill="#37AD6B"/><path d="M233.87 35.7L237.57 29.46H230.16Z" fill="#37AD6B"/><path d="M234.27 35.48L237.97 29.24H230.56Z" fill="#37AD6B"/><path d="M234.66 35.26L238.37 29.02H230.96Z" fill="#37AD6B"/><path d="M235.06 35.04L238.76 28.8H231.35Z" fill="#37AD6B"/><path d="M235.44 34.83L239.15 28.59H231.74Z" fill="#37AD6B"/><path d="M235.83 34.61L239.53 28.37H232.12Z" fill="#37AD6B"/><path d="M236.21 34.4L239.91 28.16H232.5Z" fill="#37AD6B"/><path d="M236.58 34.19L240.29 27.95H232.88Z" fill="#37AD6B"/><path d="M236.96 33.98L240.66 27.74H233.25Z" fill="#37AD6B"/>
<path d="M59.83 143.81 L86.32 133.9 L101.81 127.88 L112.81 123.34 L121.34 119.65 L128.31 116.47 L134.2 113.63 L139.3 111.07 L143.8 108.72 L147.83 106.53 L151.47 104.5 L154.8 102.62 L157.86 100.88 L160.69 99.27 L163.32 97.77 L165.79 96.37 L168.11 95.06 L170.29 93.84 L172.36 92.7 L174.32 91.62 L176.18 90.61 L177.96 89.67 L179.66 88.77 L181.29 87.91 L182.85 87.1 L184.35 86.31 L185.79 85.55 L187.18 84.81 L188.52 84.1 L189.81 83.4 L191.07 82.71 L192.28 82.05 L193.46 81.4 L194.6 80.77 L195.71 80.14 L196.78 79.53 L197.83 78.92 L198.85 78.31 L199.84 77.71 L200.81 77.11 L201.75 76.53 L202.67 75.96 L203.57 75.39 L204.45 74.83 L205.31 74.26 L206.15 73.69 L206.97 73.11 L207.78 72.53 L208.57 71.94 L209.34 71.34 L210.09 70.73 L210.84 70.11 L211.56 69.47 L212.28 68.82 L212.98 68.14 L213.67 67.42 L214.35 66.68 L215.01 65.91 L215.66 65.11 L216.31 64.29 L216.94 63.46 L217.56 62.61 L218.17 61.74 L218.77 60.85 L219.36 59.96 L219.95 59.05 L220.52 58.12 L221.09 57.14 L221.65 56.13 L222.2 55.09 L222.74 54.01 L223.27 52.91 L223.8 51.78 L224.32 50.66 L224.83 49.54 L225.34 48.43 L225.84 47.36 L226.33 46.3 L226.82 45.22 L227.3 44.15 L227.77 43.1 L228.24 42.09 L228.71 41.11 L229.16 40.18 L229.62 39.32 L230.06 38.54 L230.51 37.82 L230.94 37.15 L231.37 36.52 L231.8 35.93 L232.22 35.38 L232.64 34.87 L233.05 34.4 L233.46 33.96 L233.87 33.53 L234.27 33.12 L234.66 32.72 L235.06 32.32 L235.44 31.92 L235.83 31.53 L236.21 31.13 L236.58 30.73 L236.96 30.33" fill="none" stroke="#B177DE" stroke-width="0.9" opacity="0.8"/>
<path d="M59.83 117.92 L86.32 108.57 L101.81 102.04 L112.81 96.92 L121.34 92.85 L128.31 89.6 L134.2 86.86 L139.3 84.46 L143.8 82.56 L147.83 80.84 L151.47 79.03 L154.8 77.12 L157.86 75.19 L160.69 73.32 L163.32 71.56 L165.79 69.93 L168.11 68.45 L170.29 67.13 L172.36 65.9 L174.32 64.75 L176.18 63.66 L177.96 62.63 L179.66 61.67 L181.29 60.77 L182.85 59.93 L184.35 59.14 L185.79 58.4 L187.18 57.72 L188.52 57.09 L189.81 56.5 L191.07 55.94 L192.28 55.4 L193.46 54.88 L194.6 54.37 L195.71 53.86 L196.78 53.37 L197.83 52.87 L198.85 52.38 L199.84 51.88 L200.81 51.38 L201.75 50.88 L202.67 50.37 L203.57 49.87 L204.45 49.38 L205.31 48.88 L206.15 48.39 L206.97 47.91 L207.78 47.43 L208.57 46.93 L209.34 46.42 L210.09 45.92 L210.84 45.43 L211.56 44.95 L212.28 44.48 L212.98 44.02 L213.67 43.56 L214.35 43.12 L215.01 42.69 L215.66 42.27 L216.31 41.86 L216.94 41.46 L217.56 41.07 L218.17 40.69 L218.77 40.32 L219.36 39.96 L219.95 39.61 L220.52 39.27 L221.09 38.94 L221.65 38.61 L222.2 38.29 L222.74 37.98 L223.27 37.67 L223.8 37.37 L224.32 37.08 L224.83 36.79 L225.34 36.5 L225.84 36.22 L226.33 35.95 L226.82 35.68 L227.3 35.41 L227.77 35.15 L228.24 34.89 L228.71 34.63 L229.16 34.38 L229.62 34.13 L230.06 33.89 L230.51 33.64 L230.94 33.41 L231.37 33.17 L231.8 32.93 L232.22 32.7 L232.64 32.47 L233.05 32.25 L233.46 32.02 L233.87 31.8 L234.27 31.58 L234.66 31.36 L235.06 31.14 L235.44 30.93 L235.83 30.71 L236.21 30.5 L236.58 30.29 L236.96 30.08" fill="none" stroke="#B177DE" stroke-width="0.9" opacity="0.8"/>
<path d="M59.83 139.91L63.73 143.81L59.83 147.71L55.93 143.81Z" fill="#B177DE"/><path d="M86.32 130L90.22 133.9L86.32 137.8L82.42 133.9Z" fill="#B177DE"/><path d="M101.81 123.98L105.71 127.88L101.81 131.78L97.91 127.88Z" fill="#B177DE"/><path d="M112.81 119.44L116.71 123.34L112.81 127.24L108.91 123.34Z" fill="#B177DE"/><path d="M121.34 115.75L125.24 119.65L121.34 123.55L117.44 119.65Z" fill="#B177DE"/><path d="M128.31 112.57L132.21 116.47L128.31 120.37L124.41 116.47Z" fill="#B177DE"/><path d="M134.2 109.73L138.1 113.63L134.2 117.53L130.3 113.63Z" fill="#B177DE"/><path d="M139.3 107.17L143.2 111.07L139.3 114.97L135.4 111.07Z" fill="#B177DE"/><path d="M143.8 104.82L147.7 108.72L143.8 112.62L139.9 108.72Z" fill="#B177DE"/><path d="M147.83 102.63L151.73 106.53L147.83 110.43L143.93 106.53Z" fill="#B177DE"/><path d="M151.47 100.6L155.37 104.5L151.47 108.4L147.57 104.5Z" fill="#B177DE"/><path d="M154.8 98.72L158.7 102.62L154.8 106.52L150.9 102.62Z" fill="#B177DE"/><path d="M157.86 96.98L161.76 100.88L157.86 104.78L153.96 100.88Z" fill="#B177DE"/><path d="M160.69 95.37L164.59 99.27L160.69 103.17L156.79 99.27Z" fill="#B177DE"/><path d="M163.32 93.87L167.22 97.77L163.32 101.67L159.42 97.77Z" fill="#B177DE"/><path d="M165.79 92.47L169.69 96.37L165.79 100.27L161.89 96.37Z" fill="#B177DE"/><path d="M168.11 91.16L172.01 95.06L168.11 98.96L164.21 95.06Z" fill="#B177DE"/><path d="M170.29 89.94L174.19 93.84L170.29 97.74L166.39 93.84Z" fill="#B177DE"/><path d="M172.36 88.8L176.26 92.7L172.36 96.6L168.46 92.7Z" fill="#B177DE"/><path d="M174.32 87.72L178.22 91.62L174.32 95.52L170.42 91.62Z" fill="#B177DE"/><path d="M176.18 86.71L180.08 90.61L176.18 94.51L172.28 90.61Z" fill="#B177DE"/><path d="M177.96 85.77L181.86 89.67L177.96 93.57L174.06 89.67Z" fill="#B177DE"/><path d="M179.66 84.87L183.56 88.77L179.66 92.67L175.76 88.77Z" fill="#B177DE"/><path d="M181.29 84.01L185.19 87.91L181.29 91.81L177.39 87.91Z" fill="#B177DE"/><path d="M182.85 83.2L186.75 87.1L182.85 91L178.95 87.1Z" fill="#B177DE"/><path d="M184.35 82.41L188.25 86.31L184.35 90.21L180.45 86.31Z" fill="#B177DE"/><path d="M185.79 81.65L189.69 85.55L185.79 89.45L181.89 85.55Z" fill="#B177DE"/><path d="M187.18 80.91L191.08 84.81L187.18 88.71L183.28 84.81Z" fill="#B177DE"/><path d="M188.52 80.2L192.42 84.1L188.52 88L184.62 84.1Z" fill="#B177DE"/><path d="M189.81 79.5L193.71 83.4L189.81 87.3L185.91 83.4Z" fill="#B177DE"/><path d="M191.07 78.81L194.97 82.71L191.07 86.61L187.17 82.71Z" fill="#B177DE"/><path d="M192.28 78.15L196.18 82.05L192.28 85.95L188.38 82.05Z" fill="#B177DE"/><path d="M193.46 77.5L197.36 81.4L193.46 85.3L189.56 81.4Z" fill="#B177DE"/><path d="M194.6 76.87L198.5 80.77L194.6 84.67L190.7 80.77Z" fill="#B177DE"/><path d="M195.71 76.24L199.61 80.14L195.71 84.04L191.81 80.14Z" fill="#B177DE"/><path d="M196.78 75.63L200.68 79.53L196.78 83.43L192.88 79.53Z" fill="#B177DE"/><path d="M197.83 75.02L201.73 78.92L197.83 82.82L193.93 78.92Z" fill="#B177DE"/><path d="M198.85 74.41L202.75 78.31L198.85 82.21L194.95 78.31Z" fill="#B177DE"/><path d="M199.84 73.81L203.74 77.71L199.84 81.61L195.94 77.71Z" fill="#B177DE"/><path d="M200.81 73.21L204.71 77.11L200.81 81.01L196.91 77.11Z" fill="#B177DE"/><path d="M201.75 72.63L205.65 76.53L201.75 80.43L197.85 76.53Z" fill="#B177DE"/><path d="M202.67 72.06L206.57 75.96L202.67 79.86L198.77 75.96Z" fill="#B177DE"/><path d="M203.57 71.49L207.47 75.39L203.57 79.29L199.67 75.39Z" fill="#B177DE"/><path d="M204.45 70.93L208.35 74.83L204.45 78.73L200.55 74.83Z" fill="#B177DE"/><path d="M205.31 70.36L209.21 74.26L205.31 78.16L201.41 74.26Z" fill="#B177DE"/><path d="M206.15 69.79L210.05 73.69L206.15 77.59L202.25 73.69Z" fill="#B177DE"/><path d="M206.97 69.21L210.87 73.11L206.97 77.01L203.07 73.11Z" fill="#B177DE"/><path d="M207.78 68.63L211.68 72.53L207.78 76.43L203.88 72.53Z" fill="#B177DE"/><path d="M208.57 68.04L212.47 71.94L208.57 75.84L204.67 71.94Z" fill="#B177DE"/><path d="M209.34 67.44L213.24 71.34L209.34 75.24L205.44 71.34Z" fill="#B177DE"/><path d="M210.09 66.83L213.99 70.73L210.09 74.63L206.19 70.73Z" fill="#B177DE"/><path d="M210.84 66.21L214.74 70.11L210.84 74.01L206.94 70.11Z" fill="#B177DE"/><path d="M211.56 65.57L215.46 69.47L211.56 73.37L207.66 69.47Z" fill="#B177DE"/><path d="M212.28 64.92L216.18 68.82L212.28 72.72L208.38 68.82Z" fill="#B177DE"/><path d="M212.98 64.24L216.88 68.14L212.98 72.04L209.08 68.14Z" fill="#B177DE"/><path d="M213.67 63.52L217.57 67.42L213.67 71.32L209.77 67.42Z" fill="#B177DE"/><path d="M214.35 62.78L218.25 66.68L214.35 70.58L210.45 66.68Z" fill="#B177DE"/><path d="M215.01 62.01L218.91 65.91L215.01 69.81L211.11 65.91Z" fill="#B177DE"/><path d="M215.66 61.21L219.56 65.11L215.66 69.01L211.76 65.11Z" fill="#B177DE"/><path d="M216.31 60.39L220.21 64.29L216.31 68.19L212.41 64.29Z" fill="#B177DE"/><path d="M216.94 59.56L220.84 63.46L216.94 67.36L213.04 63.46Z" fill="#B177DE"/><path d="M217.56 58.71L221.46 62.61L217.56 66.51L213.66 62.61Z" fill="#B177DE"/><path d="M218.17 57.84L222.07 61.74L218.17 65.64L214.27 61.74Z" fill="#B177DE"/><path d="M218.77 56.95L222.67 60.85L218.77 64.75L214.87 60.85Z" fill="#B177DE"/><path d="M219.36 56.06L223.26 59.96L219.36 63.86L215.46 59.96Z" fill="#B177DE"/><path d="M219.95 55.15L223.85 59.05L219.95 62.95L216.05 59.05Z" fill="#B177DE"/><path d="M220.52 54.22L224.42 58.12L220.52 62.02L216.62 58.12Z" fill="#B177DE"/><path d="M221.09 53.24L224.99 57.14L221.09 61.04L217.19 57.14Z" fill="#B177DE"/><path d="M221.65 52.23L225.55 56.13L221.65 60.03L217.75 56.13Z" fill="#B177DE"/><path d="M222.2 51.19L226.1 55.09L222.2 58.99L218.3 55.09Z" fill="#B177DE"/><path d="M222.74 50.11L226.64 54.01L222.74 57.91L218.84 54.01Z" fill="#B177DE"/><path d="M223.27 49.01L227.17 52.91L223.27 56.81L219.37 52.91Z" fill="#B177DE"/><path d="M223.8 47.88L227.7 51.78L223.8 55.68L219.9 51.78Z" fill="#B177DE"/><path d="M224.32 46.76L228.22 50.66L224.32 54.56L220.42 50.66Z" fill="#B177DE"/><path d="M224.83 45.64L228.73 49.54L224.83 53.44L220.93 49.54Z" fill="#B177DE"/><path d="M225.34 44.53L229.24 48.43L225.34 52.33L221.44 48.43Z" fill="#B177DE"/><path d="M225.84 43.46L229.74 47.36L225.84 51.26L221.94 47.36Z" fill="#B177DE"/><path d="M226.33 42.4L230.23 46.3L226.33 50.2L222.43 46.3Z" fill="#B177DE"/><path d="M226.82 41.32L230.72 45.22L226.82 49.12L222.92 45.22Z" fill="#B177DE"/><path d="M227.3 40.25L231.2 44.15L227.3 48.05L223.4 44.15Z" fill="#B177DE"/><path d="M227.77 39.2L231.67 43.1L227.77 47L223.87 43.1Z" fill="#B177DE"/><path d="M228.24 38.19L232.14 42.09L228.24 45.99L224.34 42.09Z" fill="#B177DE"/><path d="M228.71 37.21L232.61 41.11L228.71 45.01L224.81 41.11Z" fill="#B177DE"/><path d="M229.16 36.28L233.06 40.18L229.16 44.08L225.26 40.18Z" fill="#B177DE"/><path d="M229.62 35.42L233.52 39.32L229.62 43.22L225.72 39.32Z" fill="#B177DE"/><path d="M230.06 34.64L233.96 38.54L230.06 42.44L226.16 38.54Z" fill="#B177DE"/><path d="M230.51 33.92L234.41 37.82L230.51 41.72L226.61 37.82Z" fill="#B177DE"/><path d="M230.94 33.25L234.84 37.15L230.94 41.05L227.04 37.15Z" fill="#B177DE"/><path d="M231.37 32.62L235.27 36.52L231.37 40.42L227.47 36.52Z" fill="#B177DE"/><path d="M231.8 32.03L235.7 35.93L231.8 39.83L227.9 35.93Z" fill="#B177DE"/><path d="M232.22 31.48L236.12 35.38L232.22 39.28L228.32 35.38Z" fill="#B177DE"/><path d="M232.64 30.97L236.54 34.87L232.64 38.77L228.74 34.87Z" fill="#B177DE"/><path d="M233.05 30.5L236.95 34.4L233.05 38.3L229.15 34.4Z" fill="#B177DE"/><path d="M233.46 30.06L237.36 33.96L233.46 37.86L229.56 33.96Z" fill="#B177DE"/><path d="M233.87 29.63L237.77 33.53L233.87 37.43L229.97 33.53Z" fill="#B177DE"/><path d="M234.27 29.22L238.17 33.12L234.27 37.02L230.37 33.12Z" fill="#B177DE"/><path d="M234.66 28.82L238.56 32.72L234.66 36.62L230.76 32.72Z" fill="#B177DE"/><path d="M235.06 28.42L238.96 32.32L235.06 36.22L231.16 32.32Z" fill="#B177DE"/><path d="M235.44 28.02L239.34 31.92L235.44 35.82L231.54 31.92Z" fill="#B177DE"/><path d="M235.83 27.63L239.73 31.53L235.83 35.43L231.93 31.53Z" fill="#B177DE"/><path d="M236.21 27.23L240.11 31.13L236.21 35.03L232.31 31.13Z" fill="#B177DE"/><path d="M236.58 26.83L240.48 30.73L236.58 34.63L232.68 30.73Z" fill="#B177DE"/><path d="M236.96 26.43L240.86 30.33L236.96 34.23L233.06 30.33Z" fill="#B177DE"/><path d="M59.83 114.02L63.73 117.92L59.83 121.82L55.93 117.92Z" fill="#B177DE"/><path d="M86.32 104.67L90.22 108.57L86.32 112.47L82.42 108.57Z" fill="#B177DE"/><path d="M101.81 98.14L105.71 102.04L101.81 105.94L97.91 102.04Z" fill="#B177DE"/><path d="M112.81 93.02L116.71 96.92L112.81 100.82L108.91 96.92Z" fill="#B177DE"/><path d="M121.34 88.95L125.24 92.85L121.34 96.75L117.44 92.85Z" fill="#B177DE"/><path d="M128.31 85.7L132.21 89.6L128.31 93.5L124.41 89.6Z" fill="#B177DE"/><path d="M134.2 82.96L138.1 86.86L134.2 90.76L130.3 86.86Z" fill="#B177DE"/><path d="M139.3 80.56L143.2 84.46L139.3 88.36L135.4 84.46Z" fill="#B177DE"/><path d="M143.8 78.66L147.7 82.56L143.8 86.46L139.9 82.56Z" fill="#B177DE"/><path d="M147.83 76.94L151.73 80.84L147.83 84.74L143.93 80.84Z" fill="#B177DE"/><path d="M151.47 75.13L155.37 79.03L151.47 82.93L147.57 79.03Z" fill="#B177DE"/><path d="M154.8 73.22L158.7 77.12L154.8 81.02L150.9 77.12Z" fill="#B177DE"/><path d="M157.86 71.29L161.76 75.19L157.86 79.09L153.96 75.19Z" fill="#B177DE"/><path d="M160.69 69.42L164.59 73.32L160.69 77.22L156.79 73.32Z" fill="#B177DE"/><path d="M163.32 67.66L167.22 71.56L163.32 75.46L159.42 71.56Z" fill="#B177DE"/><path d="M165.79 66.03L169.69 69.93L165.79 73.83L161.89 69.93Z" fill="#B177DE"/><path d="M168.11 64.55L172.01 68.45L168.11 72.35L164.21 68.45Z" fill="#B177DE"/><path d="M170.29 63.23L174.19 67.13L170.29 71.03L166.39 67.13Z" fill="#B177DE"/><path d="M172.36 62L176.26 65.9L172.36 69.8L168.46 65.9Z" fill="#B177DE"/><path d="M174.32 60.85L178.22 64.75L174.32 68.65L170.42 64.75Z" fill="#B177DE"/><path d="M176.18 59.76L180.08 63.66L176.18 67.56L172.28 63.66Z" fill="#B177DE"/><path d="M177.96 58.73L181.86 62.63L177.96 66.53L174.06 62.63Z" fill="#B177DE"/><path d="M179.66 57.77L183.56 61.67L179.66 65.57L175.76 61.67Z" fill="#B177DE"/><path d="M181.29 56.87L185.19 60.77L181.29 64.67L177.39 60.77Z" fill="#B177DE"/><path d="M182.85 56.03L186.75 59.93L182.85 63.83L178.95 59.93Z" fill="#B177DE"/><path d="M184.35 55.24L188.25 59.14L184.35 63.04L180.45 59.14Z" fill="#B177DE"/><path d="M185.79 54.5L189.69 58.4L185.79 62.3L181.89 58.4Z" fill="#B177DE"/><path d="M187.18 53.82L191.08 57.72L187.18 61.62L183.28 57.72Z" fill="#B177DE"/><path d="M188.52 53.19L192.42 57.09L188.52 60.99L184.62 57.09Z" fill="#B177DE"/><path d="M189.81 52.6L193.71 56.5L189.81 60.4L185.91 56.5Z" fill="#B177DE"/><path d="M191.07 52.04L194.97 55.94L191.07 59.84L187.17 55.94Z" fill="#B177DE"/><path d="M192.28 51.5L196.18 55.4L192.28 59.3L188.38 55.4Z" fill="#B177DE"/><path d="M193.46 50.98L197.36 54.88L193.46 58.78L189.56 54.88Z" fill="#B177DE"/><path d="M194.6 50.47L198.5 54.37L194.6 58.27L190.7 54.37Z" fill="#B177DE"/><path d="M195.71 49.96L199.61 53.86L195.71 57.76L191.81 53.86Z" fill="#B177DE"/><path d="M196.78 49.47L200.68 53.37L196.78 57.27L192.88 53.37Z" fill="#B177DE"/><path d="M197.83 48.97L201.73 52.87L197.83 56.77L193.93 52.87Z" fill="#B177DE"/><path d="M198.85 48.48L202.75 52.38L198.85 56.28L194.95 52.38Z" fill="#B177DE"/><path d="M199.84 47.98L203.74 51.88L199.84 55.78L195.94 51.88Z" fill="#B177DE"/><path d="M200.81 47.48L204.71 51.38L200.81 55.28L196.91 51.38Z" fill="#B177DE"/><path d="M201.75 46.98L205.65 50.88L201.75 54.78L197.85 50.88Z" fill="#B177DE"/><path d="M202.67 46.47L206.57 50.37L202.67 54.27L198.77 50.37Z" fill="#B177DE"/><path d="M203.57 45.97L207.47 49.87L203.57 53.77L199.67 49.87Z" fill="#B177DE"/><path d="M204.45 45.48L208.35 49.38L204.45 53.28L200.55 49.38Z" fill="#B177DE"/><path d="M205.31 44.98L209.21 48.88L205.31 52.78L201.41 48.88Z" fill="#B177DE"/><path d="M206.15 44.49L210.05 48.39L206.15 52.29L202.25 48.39Z" fill="#B177DE"/><path d="M206.97 44.01L210.87 47.91L206.97 51.81L203.07 47.91Z" fill="#B177DE"/><path d="M207.78 43.53L211.68 47.43L207.78 51.33L203.88 47.43Z" fill="#B177DE"/><path d="M208.57 43.03L212.47 46.93L208.57 50.83L204.67 46.93Z" fill="#B177DE"/><path d="M209.34 42.52L213.24 46.42L209.34 50.32L205.44 46.42Z" fill="#B177DE"/><path d="M210.09 42.02L213.99 45.92L210.09 49.82L206.19 45.92Z" fill="#B177DE"/><path d="M210.84 41.53L214.74 45.43L210.84 49.33L206.94 45.43Z" fill="#B177DE"/><path d="M211.56 41.05L215.46 44.95L211.56 48.85L207.66 44.95Z" fill="#B177DE"/><path d="M212.28 40.58L216.18 44.48L212.28 48.38L208.38 44.48Z" fill="#B177DE"/><path d="M212.98 40.12L216.88 44.02L212.98 47.92L209.08 44.02Z" fill="#B177DE"/><path d="M213.67 39.66L217.57 43.56L213.67 47.46L209.77 43.56Z" fill="#B177DE"/><path d="M214.35 39.22L218.25 43.12L214.35 47.02L210.45 43.12Z" fill="#B177DE"/><path d="M215.01 38.79L218.91 42.69L215.01 46.59L211.11 42.69Z" fill="#B177DE"/><path d="M215.66 38.37L219.56 42.27L215.66 46.17L211.76 42.27Z" fill="#B177DE"/><path d="M216.31 37.96L220.21 41.86L216.31 45.76L212.41 41.86Z" fill="#B177DE"/><path d="M216.94 37.56L220.84 41.46L216.94 45.36L213.04 41.46Z" fill="#B177DE"/><path d="M217.56 37.17L221.46 41.07L217.56 44.97L213.66 41.07Z" fill="#B177DE"/><path d="M218.17 36.79L222.07 40.69L218.17 44.59L214.27 40.69Z" fill="#B177DE"/><path d="M218.77 36.42L222.67 40.32L218.77 44.22L214.87 40.32Z" fill="#B177DE"/><path d="M219.36 36.06L223.26 39.96L219.36 43.86L215.46 39.96Z" fill="#B177DE"/><path d="M219.95 35.71L223.85 39.61L219.95 43.51L216.05 39.61Z" fill="#B177DE"/><path d="M220.52 35.37L224.42 39.27L220.52 43.17L216.62 39.27Z" fill="#B177DE"/><path d="M221.09 35.04L224.99 38.94L221.09 42.84L217.19 38.94Z" fill="#B177DE"/><path d="M221.65 34.71L225.55 38.61L221.65 42.51L217.75 38.61Z" fill="#B177DE"/><path d="M222.2 34.39L226.1 38.29L222.2 42.19L218.3 38.29Z" fill="#B177DE"/><path d="M222.74 34.08L226.64 37.98L222.74 41.88L218.84 37.98Z" fill="#B177DE"/><path d="M223.27 33.77L227.17 37.67L223.27 41.57L219.37 37.67Z" fill="#B177DE"/><path d="M223.8 33.47L227.7 37.37L223.8 41.27L219.9 37.37Z" fill="#B177DE"/><path d="M224.32 33.18L228.22 37.08L224.32 40.98L220.42 37.08Z" fill="#B177DE"/><path d="M224.83 32.89L228.73 36.79L224.83 40.69L220.93 36.79Z" fill="#B177DE"/><path d="M225.34 32.6L229.24 36.5L225.34 40.4L221.44 36.5Z" fill="#B177DE"/><path d="M225.84 32.32L229.74 36.22L225.84 40.12L221.94 36.22Z" fill="#B177DE"/><path d="M226.33 32.05L230.23 35.95L226.33 39.85L222.43 35.95Z" fill="#B177DE"/><path d="M226.82 31.78L230.72 35.68L226.82 39.58L222.92 35.68Z" fill="#B177DE"/><path d="M227.3 31.51L231.2 35.41L227.3 39.31L223.4 35.41Z" fill="#B177DE"/><path d="M227.77 31.25L231.67 35.15L227.77 39.05L223.87 35.15Z" fill="#B177DE"/><path d="M228.24 30.99L232.14 34.89L228.24 38.79L224.34 34.89Z" fill="#B177DE"/><path d="M228.71 30.73L232.61 34.63L228.71 38.53L224.81 34.63Z" fill="#B177DE"/><path d="M229.16 30.48L233.06 34.38L229.16 38.28L225.26 34.38Z" fill="#B177DE"/><path d="M229.62 30.23L233.52 34.13L229.62 38.03L225.72 34.13Z" fill="#B177DE"/><path d="M230.06 29.99L233.96 33.89L230.06 37.79L226.16 33.89Z" fill="#B177DE"/><path d="M230.51 29.74L234.41 33.64L230.51 37.54L226.61 33.64Z" fill="#B177DE"/><path d="M230.94 29.51L234.84 33.41L230.94 37.31L227.04 33.41Z" fill="#B177DE"/><path d="M231.37 29.27L235.27 33.17L231.37 37.07L227.47 33.17Z" fill="#B177DE"/><path d="M231.8 29.03L235.7 32.93L231.8 36.83L227.9 32.93Z" fill="#B177DE"/><path d="M232.22 28.8L236.12 32.7L232.22 36.6L228.32 32.7Z" fill="#B177DE"/><path d="M232.64 28.57L236.54 32.47L232.64 36.37L228.74 32.47Z" fill="#B177DE"/><path d="M233.05 28.35L236.95 32.25L233.05 36.15L229.15 32.25Z" fill="#B177DE"/><path d="M233.46 28.12L237.36 32.02L233.46 35.92L229.56 32.02Z" fill="#B177DE"/><path d="M233.87 27.9L237.77 31.8L233.87 35.7L229.97 31.8Z" fill="#B177DE"/><path d="M234.27 27.68L238.17 31.58L234.27 35.48L230.37 31.58Z" fill="#B177DE"/><path d="M234.66 27.46L238.56 31.36L234.66 35.26L230.76 31.36Z" fill="#B177DE"/><path d="M235.06 27.24L238.96 31.14L235.06 35.04L231.16 31.14Z" fill="#B177DE"/><path d="M235.44 27.03L239.34 30.93L235.44 34.83L231.54 30.93Z" fill="#B177DE"/><path d="M235.83 26.81L239.73 30.71L235.83 34.61L231.93 30.71Z" fill="#B177DE"/><path d="M236.21 26.6L240.11 30.5L236.21 34.4L232.31 30.5Z" fill="#B177DE"/><path d="M236.58 26.39L240.48 30.29L236.58 34.19L232.68 30.29Z" fill="#B177DE"/><path d="M236.96 26.18L240.86 30.08L236.96 33.98L233.06 30.08Z" fill="#B177DE"/>
<path d="M59.83 139.91 L86.32 130.11 L101.81 124.13 L112.81 119.63 L121.34 116 L128.31 112.89 L134.2 110.13 L139.3 107.64 L143.8 105.35 L147.83 103.2 L151.47 101.19 L154.8 99.33 L157.86 97.6 L160.69 95.99 L163.32 94.49 L165.79 93.1 L168.11 91.8 L170.29 90.59 L172.36 89.46 L174.32 88.4 L176.18 87.41 L177.96 86.49 L179.66 85.62 L181.29 84.79 L182.85 84 L184.35 83.25 L185.79 82.52 L187.18 81.81 L188.52 81.13 L189.81 80.46 L191.07 79.81 L192.28 79.17 L193.46 78.55 L194.6 77.94 L195.71 77.34 L196.78 76.75 L197.83 76.16 L198.85 75.58 L199.84 75 L200.81 74.43 L201.75 73.87 L202.67 73.32 L203.57 72.78 L204.45 72.25 L205.31 71.71 L206.15 71.18 L206.97 70.63 L207.78 70.09 L208.57 69.53 L209.34 68.96 L210.09 68.39 L210.84 67.8 L211.56 67.2 L212.28 66.58 L212.98 65.94 L213.67 65.27 L214.35 64.58 L215.01 63.87 L215.66 63.13 L216.31 62.37 L216.94 61.6 L217.56 60.81 L218.17 60 L218.77 59.19 L219.36 58.35 L219.95 57.51 L220.52 56.63 L221.09 55.71 L221.65 54.74 L222.2 53.74 L222.74 52.71 L223.27 51.66 L223.8 50.6 L224.32 49.54 L224.83 48.49 L225.34 47.45 L225.84 46.44 L226.33 45.45 L226.82 44.43 L227.3 43.4 L227.77 42.39 L228.24 41.41 L228.71 40.47 L229.16 39.58 L229.62 38.77 L230.06 38.04 L230.51 37.38 L230.94 36.76 L231.37 36.18 L231.8 35.64 L232.22 35.13 L232.64 34.65 L233.05 34.21 L233.46 33.78 L233.87 33.36 L234.27 32.96 L234.66 32.56 L235.06 32.17 L235.44 31.78 L235.83 31.38 L236.21 30.97 L236.58 30.57 L236.96 30.17" fill="none" stroke="#CC9900" stroke-width="0.9" opacity="0.8"/>
<path d="M59.83 115.42 L86.32 106.07 L101.81 100.25 L112.81 95.65 L121.34 91.98 L128.31 89.06 L134.2 86.59 L139.3 84.43 L143.8 82.56 L147.83 80.84 L151.47 79.03 L154.8 77.12 L157.86 75.19 L160.69 73.32 L163.32 71.56 L165.79 69.93 L168.11 68.45 L170.29 67.13 L172.36 65.9 L174.32 64.75 L176.18 63.66 L177.96 62.63 L179.66 61.67 L181.29 60.77 L182.85 59.93 L184.35 59.14 L185.79 58.4 L187.18 57.72 L188.52 57.09 L189.81 56.5 L191.07 55.94 L192.28 55.4 L193.46 54.88 L194.6 54.37 L195.71 53.86 L196.78 53.37 L197.83 52.87 L198.85 52.38 L199.84 51.88 L200.81 51.38 L201.75 50.88 L202.67 50.37 L203.57 49.87 L204.45 49.38 L205.31 48.88 L206.15 48.39 L206.97 47.91 L207.78 47.43 L208.57 46.93 L209.34 46.42 L210.09 45.92 L210.84 45.43 L211.56 44.95 L212.28 44.48 L212.98 44.02 L213.67 43.56 L214.35 43.12 L215.01 42.69 L215.66 42.27 L216.31 41.86 L216.94 41.46 L217.56 41.07 L218.17 40.69 L218.77 40.32 L219.36 39.96 L219.95 39.61 L220.52 39.27 L221.09 38.94 L221.65 38.61 L222.2 38.29 L222.74 37.98 L223.27 37.67 L223.8 37.37 L224.32 37.08 L224.83 36.79 L225.34 36.5 L225.84 36.22 L226.33 35.95 L226.82 35.68 L227.3 35.41 L227.77 35.15 L228.24 34.89 L228.71 34.63 L229.16 34.38 L229.62 34.13 L230.06 33.89 L230.51 33.64 L230.94 33.41 L231.37 33.17 L231.8 32.93 L232.22 32.7 L232.64 32.47 L233.05 32.25 L233.46 32.02 L233.87 31.8 L234.27 31.58 L234.66 31.36 L235.06 31.14 L235.44 30.93 L235.83 30.71 L236.21 30.5 L236.58 30.29 L236.96 30.08" fill="none" stroke="#CC9900" stroke-width="0.9" opacity="0.8"/>
<path d="M55.93 139.91L62.17 136.21V143.62Z" fill="#CC9900"/><path d="M82.42 130.11L88.66 126.4V133.81Z" fill="#CC9900"/><path d="M97.91 124.13L104.15 120.42V127.83Z" fill="#CC9900"/><path d="M108.91 119.63L115.15 115.93V123.34Z" fill="#CC9900"/><path d="M117.44 116L123.68 112.3V119.71Z" fill="#CC9900"/><path d="M124.41 112.89L130.65 109.18V116.59Z" fill="#CC9900"/><path d="M130.3 110.13L136.54 106.42V113.83Z" fill="#CC9900"/><path d="M135.4 107.64L141.64 103.94V111.35Z" fill="#CC9900"/><path d="M139.9 105.35L146.14 101.64V109.05Z" fill="#CC9900"/><path d="M143.93 103.2L150.17 99.49V106.9Z" fill="#CC9900"/><path d="M147.57 101.19L153.81 97.49V104.9Z" fill="#CC9900"/><path d="M150.9 99.33L157.14 95.62V103.03Z" fill="#CC9900"/><path d="M153.96 97.6L160.2 93.89V101.3Z" fill="#CC9900"/><path d="M156.79 95.99L163.03 92.28V99.69Z" fill="#CC9900"/><path d="M159.42 94.49L165.66 90.79V98.2Z" fill="#CC9900"/><path d="M161.89 93.1L168.13 89.4V96.81Z" fill="#CC9900"/><path d="M164.21 91.8L170.45 88.1V95.51Z" fill="#CC9900"/><path d="M166.39 90.59L172.63 86.89V94.3Z" fill="#CC9900"/><path d="M168.46 89.46L174.7 85.76V93.17Z" fill="#CC9900"/><path d="M170.42 88.4L176.66 84.7V92.11Z" fill="#CC9900"/><path d="M172.28 87.41L178.52 83.71V91.12Z" fill="#CC9900"/><path d="M174.06 86.49L180.3 82.78V90.19Z" fill="#CC9900"/><path d="M175.76 85.62L182 81.91V89.32Z" fill="#CC9900"/><path d="M177.39 84.79L183.63 81.08V88.49Z" fill="#CC9900"/><path d="M178.95 84L185.19 80.3V87.71Z" fill="#CC9900"/><path d="M180.45 83.25L186.69 79.54V86.95Z" fill="#CC9900"/><path d="M181.89 82.52L188.13 78.81V86.22Z" fill="#CC9900"/><path d="M183.28 81.81L189.52 78.11V85.52Z" fill="#CC9900"/><path d="M184.62 81.13L190.86 77.42V84.83Z" fill="#CC9900"/><path d="M185.91 80.46L192.15 76.75V84.16Z" fill="#CC9900"/><path d="M187.17 79.81L193.41 76.1V83.51Z" fill="#CC9900"/><path d="M188.38 79.17L194.62 75.47V82.88Z" fill="#CC9900"/><path d="M189.56 78.55L195.8 74.85V82.26Z" fill="#CC9900"/><path d="M190.7 77.94L196.94 74.24V81.65Z" fill="#CC9900"/><path d="M191.81 77.34L198.05 73.64V81.05Z" fill="#CC9900"/><path d="M192.88 76.75L199.12 73.04V80.45Z" fill="#CC9900"/><path d="M193.93 76.16L200.17 72.45V79.86Z" fill="#CC9900"/><path d="M194.95 75.58L201.19 71.87V79.28Z" fill="#CC9900"/><path d="M195.94 75L202.18 71.29V78.7Z" fill="#CC9900"/><path d="M196.91 74.43L203.15 70.72V78.13Z" fill="#CC9900"/><path d="M197.85 73.87L204.09 70.16V77.57Z" fill="#CC9900"/><path d="M198.77 73.32L205.01 69.62V77.03Z" fill="#CC9900"/><path d="M199.67 72.78L205.91 69.08V76.49Z" fill="#CC9900"/><path d="M200.55 72.25L206.79 68.54V75.95Z" fill="#CC9900"/><path d="M201.41 71.71L207.65 68.01V75.42Z" fill="#CC9900"/><path d="M202.25 71.18L208.49 67.47V74.88Z" fill="#CC9900"/><path d="M203.07 70.63L209.31 66.93V74.34Z" fill="#CC9900"/><path d="M203.88 70.09L210.12 66.38V73.79Z" fill="#CC9900"/><path d="M204.67 69.53L210.91 65.82V73.23Z" fill="#CC9900"/><path d="M205.44 68.96L211.68 65.26V72.67Z" fill="#CC9900"/><path d="M206.19 68.39L212.43 64.68V72.09Z" fill="#CC9900"/><path d="M206.94 67.8L213.18 64.09V71.5Z" fill="#CC9900"/><path d="M207.66 67.2L213.9 63.49V70.9Z" fill="#CC9900"/><path d="M208.38 66.58L214.62 62.88V70.29Z" fill="#CC9900"/><path d="M209.08 65.94L215.32 62.24V69.65Z" fill="#CC9900"/><path d="M209.77 65.27L216.01 61.57V68.98Z" fill="#CC9900"/><path d="M210.45 64.58L216.69 60.88V68.29Z" fill="#CC9900"/><path d="M211.11 63.87L217.35 60.16V67.57Z" fill="#CC9900"/><path d="M211.76 63.13L218 59.42V66.83Z" fill="#CC9900"/><path d="M212.41 62.37L218.65 58.67V66.08Z" fill="#CC9900"/><path d="M213.04 61.6L219.28 57.89V65.3Z" fill="#CC9900"/><path d="M213.66 60.81L219.9 57.1V64.51Z" fill="#CC9900"/><path d="M214.27 60L220.51 56.3V63.71Z" fill="#CC9900"/><path d="M214.87 59.19L221.11 55.48V62.89Z" fill="#CC9900"/><path d="M215.46 58.35L221.7 54.65V62.06Z" fill="#CC9900"/><path d="M216.05 57.51L222.29 53.8V61.21Z" fill="#CC9900"/><path d="M216.62 56.63L222.86 52.93V60.34Z" fill="#CC9900"/><path d="M217.19 55.71L223.43 52V59.41Z" fill="#CC9900"/><path d="M217.75 54.74L223.99 51.03V58.44Z" fill="#CC9900"/><path d="M218.3 53.74L224.54 50.04V57.45Z" fill="#CC9900"/><path d="M218.84 52.71L225.08 49.01V56.42Z" fill="#CC9900"/><path d="M219.37 51.66L225.61 47.96V55.37Z" fill="#CC9900"/><path d="M219.9 50.6L226.14 46.9V54.31Z" fill="#CC9900"/><path d="M220.42 49.54L226.66 45.83V53.24Z" fill="#CC9900"/><path d="M220.93 48.49L227.17 44.78V52.19Z" fill="#CC9900"/><path d="M221.44 47.45L227.68 43.75V51.16Z" fill="#CC9900"/><path d="M221.94 46.44L228.18 42.74V50.15Z" fill="#CC9900"/><path d="M222.43 45.45L228.67 41.74V49.15Z" fill="#CC9900"/><path d="M222.92 44.43L229.16 40.73V48.14Z" fill="#CC9900"/><path d="M223.4 43.4L229.64 39.7V47.11Z" fill="#CC9900"/><path d="M223.87 42.39L230.11 38.69V46.1Z" fill="#CC9900"/><path d="M224.34 41.41L230.58 37.7V45.11Z" fill="#CC9900"/><path d="M224.81 40.47L231.05 36.76V44.17Z" fill="#CC9900"/><path d="M225.26 39.58L231.5 35.88V43.29Z" fill="#CC9900"/><path d="M225.72 38.77L231.96 35.06V42.47Z" fill="#CC9900"/><path d="M226.16 38.04L232.4 34.34V41.75Z" fill="#CC9900"/><path d="M226.61 37.38L232.85 33.67V41.08Z" fill="#CC9900"/><path d="M227.04 36.76L233.28 33.05V40.46Z" fill="#CC9900"/><path d="M227.47 36.18L233.71 32.48V39.89Z" fill="#CC9900"/><path d="M227.9 35.64L234.14 31.93V39.34Z" fill="#CC9900"/><path d="M228.32 35.13L234.56 31.43V38.84Z" fill="#CC9900"/><path d="M228.74 34.65L234.98 30.95V38.36Z" fill="#CC9900"/><path d="M229.15 34.21L235.39 30.5V37.91Z" fill="#CC9900"/><path d="M229.56 33.78L235.8 30.07V37.48Z" fill="#CC9900"/><path d="M229.97 33.36L236.21 29.66V37.07Z" fill="#CC9900"/><path d="M230.37 32.96L236.61 29.26V36.67Z" fill="#CC9900"/><path d="M230.76 32.56L237 28.86V36.27Z" fill="#CC9900"/><path d="M231.16 32.17L237.4 28.47V35.88Z" fill="#CC9900"/><path d="M231.54 31.78L237.78 28.07V35.48Z" fill="#CC9900"/><path d="M231.93 31.38L238.17 27.67V35.08Z" fill="#CC9900"/><path d="M232.31 30.97L238.55 27.26V34.67Z" fill="#CC9900"/><path d="M232.68 30.57L238.92 26.86V34.27Z" fill="#CC9900"/><path d="M233.06 30.17L239.3 26.46V33.87Z" fill="#CC9900"/><path d="M55.93 115.42L62.17 111.71V119.12Z" fill="#CC9900"/><path d="M82.42 106.07L88.66 102.36V109.77Z" fill="#CC9900"/><path d="M97.91 100.25L104.15 96.55V103.96Z" fill="#CC9900"/><path d="M108.91 95.65L115.15 91.95V99.36Z" fill="#CC9900"/><path d="M117.44 91.98L123.68 88.27V95.68Z" fill="#CC9900"/><path d="M124.41 89.06L130.65 85.35V92.76Z" fill="#CC9900"/><path d="M130.3 86.59L136.54 82.89V90.3Z" fill="#CC9900"/><path d="M135.4 84.43L141.64 80.73V88.14Z" fill="#CC9900"/><path d="M139.9 82.56L146.14 78.86V86.27Z" fill="#CC9900"/><path d="M143.93 80.84L150.17 77.13V84.54Z" fill="#CC9900"/><path d="M147.57 79.03L153.81 75.33V82.74Z" fill="#CC9900"/><path d="M150.9 77.12L157.14 73.41V80.82Z" fill="#CC9900"/><path d="M153.96 75.19L160.2 71.48V78.89Z" fill="#CC9900"/><path d="M156.79 73.32L163.03 69.62V77.03Z" fill="#CC9900"/><path d="M159.42 71.56L165.66 67.86V75.27Z" fill="#CC9900"/><path d="M161.89 69.93L168.13 66.23V73.64Z" fill="#CC9900"/><path d="M164.21 68.45L170.45 64.75V72.16Z" fill="#CC9900"/><path d="M166.39 67.13L172.63 63.42V70.83Z" fill="#CC9900"/><path d="M168.46 65.9L174.7 62.2V69.61Z" fill="#CC9900"/><path d="M170.42 64.75L176.66 61.04V68.45Z" fill="#CC9900"/><path d="M172.28 63.66L178.52 59.95V67.36Z" fill="#CC9900"/><path d="M174.06 62.63L180.3 58.93V66.34Z" fill="#CC9900"/><path d="M175.76 61.67L182 57.97V65.38Z" fill="#CC9900"/><path d="M177.39 60.77L183.63 57.07V64.48Z" fill="#CC9900"/><path d="M178.95 59.93L185.19 56.22V63.63Z" fill="#CC9900"/><path d="M180.45 59.14L186.69 55.43V62.84Z" fill="#CC9900"/><path d="M181.89 58.4L188.13 54.7V62.11Z" fill="#CC9900"/><path d="M183.28 57.72L189.52 54.02V61.43Z" fill="#CC9900"/><path d="M184.62 57.09L190.86 53.39V60.8Z" fill="#CC9900"/><path d="M185.91 56.5L192.15 52.8V60.21Z" fill="#CC9900"/><path d="M187.17 55.94L193.41 52.23V59.64Z" fill="#CC9900"/><path d="M188.38 55.4L194.62 51.69V59.1Z" fill="#CC9900"/><path d="M189.56 54.88L195.8 51.17V58.58Z" fill="#CC9900"/><path d="M190.7 54.37L196.94 50.66V58.07Z" fill="#CC9900"/><path d="M191.81 53.86L198.05 50.16V57.57Z" fill="#CC9900"/><path d="M192.88 53.37L199.12 49.66V57.07Z" fill="#CC9900"/><path d="M193.93 52.87L200.17 49.17V56.58Z" fill="#CC9900"/><path d="M194.95 52.38L201.19 48.67V56.08Z" fill="#CC9900"/><path d="M195.94 51.88L202.18 48.18V55.59Z" fill="#CC9900"/><path d="M196.91 51.38L203.15 47.67V55.08Z" fill="#CC9900"/><path d="M197.85 50.88L204.09 47.17V54.58Z" fill="#CC9900"/><path d="M198.77 50.37L205.01 46.67V54.08Z" fill="#CC9900"/><path d="M199.67 49.87L205.91 46.17V53.58Z" fill="#CC9900"/><path d="M200.55 49.38L206.79 45.67V53.08Z" fill="#CC9900"/><path d="M201.41 48.88L207.65 45.18V52.59Z" fill="#CC9900"/><path d="M202.25 48.39L208.49 44.69V52.1Z" fill="#CC9900"/><path d="M203.07 47.91L209.31 44.21V51.62Z" fill="#CC9900"/><path d="M203.88 47.43L210.12 43.73V51.14Z" fill="#CC9900"/><path d="M204.67 46.93L210.91 43.22V50.63Z" fill="#CC9900"/><path d="M205.44 46.42L211.68 42.72V50.13Z" fill="#CC9900"/><path d="M206.19 45.92L212.43 42.22V49.63Z" fill="#CC9900"/><path d="M206.94 45.43L213.18 41.73V49.14Z" fill="#CC9900"/><path d="M207.66 44.95L213.9 41.24V48.65Z" fill="#CC9900"/><path d="M208.38 44.48L214.62 40.77V48.18Z" fill="#CC9900"/><path d="M209.08 44.02L215.32 40.31V47.72Z" fill="#CC9900"/><path d="M209.77 43.56L216.01 39.86V47.27Z" fill="#CC9900"/><path d="M210.45 43.12L216.69 39.42V46.83Z" fill="#CC9900"/><path d="M211.11 42.69L217.35 38.99V46.4Z" fill="#CC9900"/><path d="M211.76 42.27L218 38.57V45.98Z" fill="#CC9900"/><path d="M212.41 41.86L218.65 38.15V45.56Z" fill="#CC9900"/><path d="M213.04 41.46L219.28 37.75V45.16Z" fill="#CC9900"/><path d="M213.66 41.07L219.9 37.36V44.77Z" fill="#CC9900"/><path d="M214.27 40.69L220.51 36.98V44.39Z" fill="#CC9900"/><path d="M214.87 40.32L221.11 36.61V44.02Z" fill="#CC9900"/><path d="M215.46 39.96L221.7 36.26V43.67Z" fill="#CC9900"/><path d="M216.05 39.61L222.29 35.91V43.32Z" fill="#CC9900"/><path d="M216.62 39.27L222.86 35.57V42.98Z" fill="#CC9900"/><path d="M217.19 38.94L223.43 35.23V42.64Z" fill="#CC9900"/><path d="M217.75 38.61L223.99 34.91V42.32Z" fill="#CC9900"/><path d="M218.3 38.29L224.54 34.59V42Z" fill="#CC9900"/><path d="M218.84 37.98L225.08 34.28V41.69Z" fill="#CC9900"/><path d="M219.37 37.67L225.61 33.97V41.38Z" fill="#CC9900"/><path d="M219.9 37.37L226.14 33.67V41.08Z" fill="#CC9900"/><path d="M220.42 37.08L226.66 33.37V40.78Z" fill="#CC9900"/><path d="M220.93 36.79L227.17 33.08V40.49Z" fill="#CC9900"/><path d="M221.44 36.5L227.68 32.8V40.21Z" fill="#CC9900"/><path d="M221.94 36.22L228.18 32.52V39.93Z" fill="#CC9900"/><path d="M222.43 35.95L228.67 32.24V39.65Z" fill="#CC9900"/><path d="M222.92 35.68L229.16 31.97V39.38Z" fill="#CC9900"/><path d="M223.4 35.41L229.64 31.71V39.12Z" fill="#CC9900"/><path d="M223.87 35.15L230.11 31.44V38.85Z" fill="#CC9900"/><path d="M224.34 34.89L230.58 31.18V38.59Z" fill="#CC9900"/><path d="M224.81 34.63L231.05 30.93V38.34Z" fill="#CC9900"/><path d="M225.26 34.38L231.5 30.68V38.09Z" fill="#CC9900"/><path d="M225.72 34.13L231.96 30.43V37.84Z" fill="#CC9900"/><path d="M226.16 33.89L232.4 30.18V37.59Z" fill="#CC9900"/><path d="M226.61 33.64L232.85 29.94V37.35Z" fill="#CC9900"/><path d="M227.04 33.41L233.28 29.7V37.11Z" fill="#CC9900"/><path d="M227.47 33.17L233.71 29.46V36.87Z" fill="#CC9900"/><path d="M227.9 32.93L234.14 29.23V36.64Z" fill="#CC9900"/><path d="M228.32 32.7L234.56 29V36.41Z" fill="#CC9900"/><path d="M228.74 32.47L234.98 28.77V36.18Z" fill="#CC9900"/><path d="M229.15 32.25L235.39 28.54V35.95Z" fill="#CC9900"/><path d="M229.56 32.02L235.8 28.32V35.73Z" fill="#CC9900"/><path d="M229.97 31.8L236.21 28.09V35.5Z" fill="#CC9900"/><path d="M230.37 31.58L236.61 27.87V35.28Z" fill="#CC9900"/><path d="M230.76 31.36L237 27.65V35.06Z" fill="#CC9900"/><path d="M231.16 31.14L237.4 27.44V34.85Z" fill="#CC9900"/><path d="M231.54 30.93L237.78 27.22V34.63Z" fill="#CC9900"/><path d="M231.93 30.71L238.17 27.01V34.42Z" fill="#CC9900"/><path d="M232.31 30.5L238.55 26.8V34.21Z" fill="#CC9900"/><path d="M232.68 30.29L238.92 26.59V34Z" fill="#CC9900"/><path d="M233.06 30.08L239.3 26.38V33.79Z" fill="#CC9900"/>
<path d="M59.83 137.91 L86.32 128.16 L101.81 122.2 L112.81 117.73 L121.34 114.13 L128.31 111.05 L134.2 108.33 L139.3 105.88 L143.8 103.62 L147.83 101.49 L151.47 99.5 L154.8 97.64 L157.86 95.91 L160.69 94.31 L163.32 92.81 L165.79 91.42 L168.11 90.13 L170.29 88.92 L172.36 87.8 L174.32 86.75 L176.18 85.77 L177.96 84.86 L179.66 84 L181.29 83.19 L182.85 82.41 L184.35 81.67 L185.79 80.96 L187.18 80.27 L188.52 79.6 L189.81 78.95 L191.07 78.32 L192.28 77.7 L193.46 77.09 L194.6 76.49 L195.71 75.9 L196.78 75.32 L197.83 74.75 L198.85 74.17 L199.84 73.61 L200.81 73.05 L201.75 72.5 L202.67 71.97 L203.57 71.45 L204.45 70.93 L205.31 70.41 L206.15 69.89 L206.97 69.36 L207.78 68.83 L208.57 68.29 L209.34 67.74 L210.09 67.19 L210.84 66.62 L211.56 66.03 L212.28 65.44 L212.98 64.82 L213.67 64.17 L214.35 63.51 L215.01 62.82 L215.66 62.11 L216.31 61.39 L216.94 60.65 L217.56 59.89 L218.17 59.12 L218.77 58.33 L219.36 57.53 L219.95 56.72 L220.52 55.87 L221.09 54.97 L221.65 54.03 L222.2 53.05 L222.74 52.05 L223.27 51.03 L223.8 50 L224.32 48.97 L224.83 47.95 L225.34 46.95 L225.84 45.97 L226.33 45.01 L226.82 44.02 L227.3 43.02 L227.77 42.03 L228.24 41.06 L228.71 40.14 L229.16 39.27 L229.62 38.48 L230.06 37.78 L230.51 37.15 L230.94 36.56 L231.37 36.01 L231.8 35.49 L232.22 35 L232.64 34.54 L233.05 34.1 L233.46 33.69 L233.87 33.28 L234.27 32.88 L234.66 32.49 L235.06 32.09 L235.44 31.7 L235.83 31.3 L236.21 30.89 L236.58 30.48 L236.96 30.08" fill="none" stroke="#00CBCC" stroke-width="0.9" opacity="0.8"/>
<path d="M59.83 116.92 L86.32 107.57 L101.81 101.81 L112.81 97.25 L121.34 93.61 L128.31 90.71 L134.2 88.41 L139.3 86.43 L143.8 84.72 L147.83 83.12 L151.47 81.44 L154.8 79.63 L157.86 77.8 L160.69 76.03 L163.32 74.36 L165.79 72.81 L168.11 71.41 L170.29 70.15 L172.36 68.99 L174.32 67.9 L176.18 66.88 L177.96 65.91 L179.66 65 L181.29 64.16 L182.85 63.36 L184.35 62.62 L185.79 61.94 L187.18 61.3 L188.52 60.72 L189.81 60.17 L191.07 59.64 L192.28 59.15 L193.46 58.66 L194.6 58.19 L195.71 57.72 L196.78 57.26 L197.83 56.8 L198.85 56.34 L199.84 55.88 L200.81 55.38 L201.75 54.88 L202.67 54.37 L203.57 53.87 L204.45 53.38 L205.31 52.88 L206.15 52.39 L206.97 51.91 L207.78 51.43 L208.57 50.96 L209.34 50.5 L210.09 50.05 L210.84 49.6 L211.56 49.16 L212.28 48.73 L212.98 48.31 L213.67 47.9 L214.35 47.5 L215.01 47.11 L215.66 46.73 L216.31 46.36 L216.94 46 L217.56 45.64 L218.17 45.3 L218.77 44.97 L219.36 44.64 L219.95 44.33 L220.52 44.02 L221.09 43.72 L221.65 43.43 L222.2 43.15 L222.74 42.87 L223.27 42.59 L223.8 42.32 L224.32 42.06 L224.83 41.8 L225.34 41.41 L225.84 40.97 L226.33 40.53 L226.82 40.1 L227.3 39.68 L227.77 39.26 L228.24 38.94 L228.71 38.72 L229.16 38.49 L229.62 38.27 L230.06 38.05 L230.51 37.84 L230.94 37.62 L231.37 37.41 L231.8 37.2 L232.22 37 L232.64 36.79 L233.05 36.59 L233.46 36.39 L233.87 36.19 L234.27 35.99 L234.66 35.8 L235.06 35.61 L235.44 35.41 L235.83 35.22 L236.21 35.03 L236.58 34.85 L236.96 34.66" fill="none" stroke="#00CBCC" stroke-width="0.9" opacity="0.8"/>
<path d="M63.73 137.91L57.49 134.21V141.62Z" fill="#00CBCC"/><path d="M90.22 128.16L83.98 124.46V131.87Z" fill="#00CBCC"/><path d="M105.71 122.2L99.47 118.5V125.91Z" fill="#00CBCC"/><path d="M116.71 117.73L110.47 114.03V121.44Z" fill="#00CBCC"/><path d="M125.24 114.13L119 110.42V117.83Z" fill="#00CBCC"/><path d="M132.21 111.05L125.97 107.35V114.76Z" fill="#00CBCC"/><path d="M138.1 108.33L131.86 104.63V112.04Z" fill="#00CBCC"/><path d="M143.2 105.88L136.96 102.18V109.59Z" fill="#00CBCC"/><path d="M147.7 103.62L141.46 99.92V107.33Z" fill="#00CBCC"/><path d="M151.73 101.49L145.49 97.78V105.19Z" fill="#00CBCC"/><path d="M155.37 99.5L149.13 95.79V103.2Z" fill="#00CBCC"/><path d="M158.7 97.64L152.46 93.93V101.34Z" fill="#00CBCC"/><path d="M161.76 95.91L155.52 92.21V99.62Z" fill="#00CBCC"/><path d="M164.59 94.31L158.35 90.6V98.01Z" fill="#00CBCC"/><path d="M167.22 92.81L160.98 89.11V96.52Z" fill="#00CBCC"/><path d="M169.69 91.42L163.45 87.72V95.13Z" fill="#00CBCC"/><path d="M172.01 90.13L165.77 86.43V93.84Z" fill="#00CBCC"/><path d="M174.19 88.92L167.95 85.22V92.63Z" fill="#00CBCC"/><path d="M176.26 87.8L170.02 84.09V91.5Z" fill="#00CBCC"/><path d="M178.22 86.75L171.98 83.05V90.46Z" fill="#00CBCC"/><path d="M180.08 85.77L173.84 82.07V89.48Z" fill="#00CBCC"/><path d="M181.86 84.86L175.62 81.15V88.56Z" fill="#00CBCC"/><path d="M183.56 84L177.32 80.29V87.7Z" fill="#00CBCC"/><path d="M185.19 83.19L178.95 79.48V86.89Z" fill="#00CBCC"/><path d="M186.75 82.41L180.51 78.71V86.12Z" fill="#00CBCC"/><path d="M188.25 81.67L182.01 77.97V85.38Z" fill="#00CBCC"/><path d="M189.69 80.96L183.45 77.26V84.67Z" fill="#00CBCC"/><path d="M191.08 80.27L184.84 76.57V83.98Z" fill="#00CBCC"/><path d="M192.42 79.6L186.18 75.9V83.31Z" fill="#00CBCC"/><path d="M193.71 78.95L187.47 75.25V82.66Z" fill="#00CBCC"/><path d="M194.97 78.32L188.73 74.61V82.02Z" fill="#00CBCC"/><path d="M196.18 77.7L189.94 73.99V81.4Z" fill="#00CBCC"/><path d="M197.36 77.09L191.12 73.39V80.8Z" fill="#00CBCC"/><path d="M198.5 76.49L192.26 72.79V80.2Z" fill="#00CBCC"/><path d="M199.61 75.9L193.37 72.2V79.61Z" fill="#00CBCC"/><path d="M200.68 75.32L194.44 71.62V79.03Z" fill="#00CBCC"/><path d="M201.73 74.75L195.49 71.04V78.45Z" fill="#00CBCC"/><path d="M202.75 74.17L196.51 70.47V77.88Z" fill="#00CBCC"/><path d="M203.74 73.61L197.5 69.9V77.31Z" fill="#00CBCC"/><path d="M204.71 73.05L198.47 69.34V76.75Z" fill="#00CBCC"/><path d="M205.65 72.5L199.41 68.8V76.21Z" fill="#00CBCC"/><path d="M206.57 71.97L200.33 68.27V75.68Z" fill="#00CBCC"/><path d="M207.47 71.45L201.23 67.74V75.15Z" fill="#00CBCC"/><path d="M208.35 70.93L202.11 67.22V74.63Z" fill="#00CBCC"/><path d="M209.21 70.41L202.97 66.7V74.11Z" fill="#00CBCC"/><path d="M210.05 69.89L203.81 66.18V73.59Z" fill="#00CBCC"/><path d="M210.87 69.36L204.63 65.66V73.07Z" fill="#00CBCC"/><path d="M211.68 68.83L205.44 65.13V72.54Z" fill="#00CBCC"/><path d="M212.47 68.29L206.23 64.59V72Z" fill="#00CBCC"/><path d="M213.24 67.74L207 64.04V71.45Z" fill="#00CBCC"/><path d="M213.99 67.19L207.75 63.48V70.89Z" fill="#00CBCC"/><path d="M214.74 66.62L208.5 62.91V70.32Z" fill="#00CBCC"/><path d="M215.46 66.03L209.22 62.33V69.74Z" fill="#00CBCC"/><path d="M216.18 65.44L209.94 61.73V69.14Z" fill="#00CBCC"/><path d="M216.88 64.82L210.64 61.11V68.52Z" fill="#00CBCC"/><path d="M217.57 64.17L211.33 60.47V67.88Z" fill="#00CBCC"/><path d="M218.25 63.51L212.01 59.8V67.21Z" fill="#00CBCC"/><path d="M218.91 62.82L212.67 59.11V66.52Z" fill="#00CBCC"/><path d="M219.56 62.11L213.32 58.41V65.82Z" fill="#00CBCC"/><path d="M220.21 61.39L213.97 57.68V65.09Z" fill="#00CBCC"/><path d="M220.84 60.65L214.6 56.94V64.35Z" fill="#00CBCC"/><path d="M221.46 59.89L215.22 56.18V63.59Z" fill="#00CBCC"/><path d="M222.07 59.12L215.83 55.41V62.82Z" fill="#00CBCC"/><path d="M222.67 58.33L216.43 54.62V62.03Z" fill="#00CBCC"/><path d="M223.26 57.53L217.02 53.82V61.23Z" fill="#00CBCC"/><path d="M223.85 56.72L217.61 53.01V60.42Z" fill="#00CBCC"/><path d="M224.42 55.87L218.18 52.17V59.58Z" fill="#00CBCC"/><path d="M224.99 54.97L218.75 51.27V58.68Z" fill="#00CBCC"/><path d="M225.55 54.03L219.31 50.32V57.73Z" fill="#00CBCC"/><path d="M226.1 53.05L219.86 49.35V56.76Z" fill="#00CBCC"/><path d="M226.64 52.05L220.4 48.34V55.75Z" fill="#00CBCC"/><path d="M227.17 51.03L220.93 47.32V54.73Z" fill="#00CBCC"/><path d="M227.7 50L221.46 46.29V53.7Z" fill="#00CBCC"/><path d="M228.22 48.97L221.98 45.26V52.67Z" fill="#00CBCC"/><path d="M228.73 47.95L222.49 44.24V51.65Z" fill="#00CBCC"/><path d="M229.24 46.95L223 43.24V50.65Z" fill="#00CBCC"/><path d="M229.74 45.97L223.5 42.27V49.68Z" fill="#00CBCC"/><path d="M230.23 45.01L223.99 41.31V48.72Z" fill="#00CBCC"/><path d="M230.72 44.02L224.48 40.32V47.73Z" fill="#00CBCC"/><path d="M231.2 43.02L224.96 39.31V46.72Z" fill="#00CBCC"/><path d="M231.67 42.03L225.43 38.32V45.73Z" fill="#00CBCC"/><path d="M232.14 41.06L225.9 37.36V44.77Z" fill="#00CBCC"/><path d="M232.61 40.14L226.37 36.43V43.84Z" fill="#00CBCC"/><path d="M233.06 39.27L226.82 35.57V42.98Z" fill="#00CBCC"/><path d="M233.52 38.48L227.28 34.78V42.19Z" fill="#00CBCC"/><path d="M233.96 37.78L227.72 34.08V41.49Z" fill="#00CBCC"/><path d="M234.41 37.15L228.17 33.44V40.85Z" fill="#00CBCC"/><path d="M234.84 36.56L228.6 32.85V40.26Z" fill="#00CBCC"/><path d="M235.27 36.01L229.03 32.3V39.71Z" fill="#00CBCC"/><path d="M235.7 35.49L229.46 31.78V39.19Z" fill="#00CBCC"/><path d="M236.12 35L229.88 31.3V38.71Z" fill="#00CBCC"/><path d="M236.54 34.54L230.3 30.84V38.25Z" fill="#00CBCC"/><path d="M236.95 34.1L230.71 30.4V37.81Z" fill="#00CBCC"/><path d="M237.36 33.69L231.12 29.98V37.39Z" fill="#00CBCC"/><path d="M237.77 33.28L231.53 29.57V36.98Z" fill="#00CBCC"/><path d="M238.17 32.88L231.93 29.18V36.59Z" fill="#00CBCC"/><path d="M238.56 32.49L232.32 28.78V36.19Z" fill="#00CBCC"/><path d="M238.96 32.09L232.72 28.39V35.8Z" fill="#00CBCC"/><path d="M239.34 31.7L233.1 27.99V35.4Z" fill="#00CBCC"/><path d="M239.73 31.3L233.49 27.59V35Z" fill="#00CBCC"/><path d="M240.11 30.89L233.87 27.18V34.59Z" fill="#00CBCC"/><path d="M240.48 30.48L234.24 26.78V34.19Z" fill="#00CBCC"/><path d="M240.86 30.08L234.62 26.38V33.79Z" fill="#00CBCC"/><path d="M63.73 116.92L57.49 113.21V120.62Z" fill="#00CBCC"/><path d="M90.22 107.57L83.98 103.86V111.27Z" fill="#00CBCC"/><path d="M105.71 101.81L99.47 98.11V105.52Z" fill="#00CBCC"/><path d="M116.71 97.25L110.47 93.54V100.95Z" fill="#00CBCC"/><path d="M125.24 93.61L119 89.91V97.32Z" fill="#00CBCC"/><path d="M132.21 90.71L125.97 87.01V94.42Z" fill="#00CBCC"/><path d="M138.1 88.41L131.86 84.7V92.11Z" fill="#00CBCC"/><path d="M143.2 86.43L136.96 82.73V90.14Z" fill="#00CBCC"/><path d="M147.7 84.72L141.46 81.01V88.42Z" fill="#00CBCC"/><path d="M151.73 83.12L145.49 79.42V86.83Z" fill="#00CBCC"/><path d="M155.37 81.44L149.13 77.73V85.14Z" fill="#00CBCC"/><path d="M158.7 79.63L152.46 75.93V83.34Z" fill="#00CBCC"/><path d="M161.76 77.8L155.52 74.1V81.51Z" fill="#00CBCC"/><path d="M164.59 76.03L158.35 72.32V79.73Z" fill="#00CBCC"/><path d="M167.22 74.36L160.98 70.65V78.06Z" fill="#00CBCC"/><path d="M169.69 72.81L163.45 69.1V76.51Z" fill="#00CBCC"/><path d="M172.01 71.41L165.77 67.7V75.11Z" fill="#00CBCC"/><path d="M174.19 70.15L167.95 66.45V73.86Z" fill="#00CBCC"/><path d="M176.26 68.99L170.02 65.29V72.7Z" fill="#00CBCC"/><path d="M178.22 67.9L171.98 64.2V71.61Z" fill="#00CBCC"/><path d="M180.08 66.88L173.84 63.17V70.58Z" fill="#00CBCC"/><path d="M181.86 65.91L175.62 62.2V69.61Z" fill="#00CBCC"/><path d="M183.56 65L177.32 61.3V68.71Z" fill="#00CBCC"/><path d="M185.19 64.16L178.95 60.45V67.86Z" fill="#00CBCC"/><path d="M186.75 63.36L180.51 59.66V67.07Z" fill="#00CBCC"/><path d="M188.25 62.62L182.01 58.92V66.33Z" fill="#00CBCC"/><path d="M189.69 61.94L183.45 58.23V65.64Z" fill="#00CBCC"/><path d="M191.08 61.3L184.84 57.6V65.01Z" fill="#00CBCC"/><path d="M192.42 60.72L186.18 57.01V64.42Z" fill="#00CBCC"/><path d="M193.71 60.17L187.47 56.46V63.87Z" fill="#00CBCC"/><path d="M194.97 59.64L188.73 55.94V63.35Z" fill="#00CBCC"/><path d="M196.18 59.15L189.94 55.44V62.85Z" fill="#00CBCC"/><path d="M197.36 58.66L191.12 54.96V62.37Z" fill="#00CBCC"/><path d="M198.5 58.19L192.26 54.48V61.89Z" fill="#00CBCC"/><path d="M199.61 57.72L193.37 54.02V61.43Z" fill="#00CBCC"/><path d="M200.68 57.26L194.44 53.56V60.97Z" fill="#00CBCC"/><path d="M201.73 56.8L195.49 53.1V60.51Z" fill="#00CBCC"/><path d="M202.75 56.34L196.51 52.64V60.05Z" fill="#00CBCC"/><path d="M203.74 55.88L197.5 52.17V59.58Z" fill="#00CBCC"/><path d="M204.71 55.38L198.47 51.67V59.08Z" fill="#00CBCC"/><path d="M205.65 54.88L199.41 51.17V58.58Z" fill="#00CBCC"/><path d="M206.57 54.37L200.33 50.67V58.08Z" fill="#00CBCC"/><path d="M207.47 53.87L201.23 50.17V57.58Z" fill="#00CBCC"/><path d="M208.35 53.38L202.11 49.67V57.08Z" fill="#00CBCC"/><path d="M209.21 52.88L202.97 49.18V56.59Z" fill="#00CBCC"/><path d="M210.05 52.39L203.81 48.69V56.1Z" fill="#00CBCC"/><path d="M210.87 51.91L204.63 48.21V55.62Z" fill="#00CBCC"/><path d="M211.68 51.43L205.44 47.73V55.14Z" fill="#00CBCC"/><path d="M212.47 50.96L206.23 47.26V54.67Z" fill="#00CBCC"/><path d="M213.24 50.5L207 46.8V54.21Z" fill="#00CBCC"/><path d="M213.99 50.05L207.75 46.34V53.75Z" fill="#00CBCC"/><path d="M214.74 49.6L208.5 45.9V53.31Z" fill="#00CBCC"/><path d="M215.46 49.16L209.22 45.46V52.87Z" fill="#00CBCC"/><path d="M216.18 48.73L209.94 45.03V52.44Z" fill="#00CBCC"/><path d="M216.88 48.31L210.64 44.61V52.02Z" fill="#00CBCC"/><path d="M217.57 47.9L211.33 44.2V51.61Z" fill="#00CBCC"/><path d="M218.25 47.5L212.01 43.8V51.21Z" fill="#00CBCC"/><path d="M218.91 47.11L212.67 43.41V50.82Z" fill="#00CBCC"/><path d="M219.56 46.73L213.32 43.03V50.44Z" fill="#00CBCC"/><path d="M220.21 46.36L213.97 42.65V50.06Z" fill="#00CBCC"/><path d="M220.84 46L214.6 42.29V49.7Z" fill="#00CBCC"/><path d="M221.46 45.64L215.22 41.94V49.35Z" fill="#00CBCC"/><path d="M222.07 45.3L215.83 41.59V49Z" fill="#00CBCC"/><path d="M222.67 44.97L216.43 41.26V48.67Z" fill="#00CBCC"/><path d="M223.26 44.64L217.02 40.94V48.35Z" fill="#00CBCC"/><path d="M223.85 44.33L217.61 40.62V48.03Z" fill="#00CBCC"/><path d="M224.42 44.02L218.18 40.32V47.73Z" fill="#00CBCC"/><path d="M224.99 43.72L218.75 40.02V47.43Z" fill="#00CBCC"/><path d="M225.55 43.43L219.31 39.73V47.14Z" fill="#00CBCC"/><path d="M226.1 43.15L219.86 39.44V46.85Z" fill="#00CBCC"/><path d="M226.64 42.87L220.4 39.16V46.57Z" fill="#00CBCC"/><path d="M227.17 42.59L220.93 38.89V46.3Z" fill="#00CBCC"/><path d="M227.7 42.32L221.46 38.62V46.03Z" fill="#00CBCC"/><path d="M228.22 42.06L221.98 38.35V45.76Z" fill="#00CBCC"/><path d="M228.73 41.8L222.49 38.09V45.5Z" fill="#00CBCC"/><path d="M229.24 41.41L223 37.71V45.12Z" fill="#00CBCC"/><path d="M229.74 40.97L223.5 37.27V44.68Z" fill="#00CBCC"/><path d="M230.23 40.53L223.99 36.83V44.24Z" fill="#00CBCC"/><path d="M230.72 40.1L224.48 36.4V43.81Z" fill="#00CBCC"/><path d="M231.2 39.68L224.96 35.98V43.39Z" fill="#00CBCC"/><path d="M231.67 39.26L225.43 35.56V42.97Z" fill="#00CBCC"/><path d="M232.14 38.94L225.9 35.24V42.65Z" fill="#00CBCC"/><path d="M232.61 38.72L226.37 35.01V42.42Z" fill="#00CBCC"/><path d="M233.06 38.49L226.82 34.79V42.2Z" fill="#00CBCC"/><path d="M233.52 38.27L227.28 34.57V41.98Z" fill="#00CBCC"/><path d="M233.96 38.05L227.72 34.35V41.76Z" fill="#00CBCC"/><path d="M234.41 37.84L228.17 34.13V41.54Z" fill="#00CBCC"/><path d="M234.84 37.62L228.6 33.92V41.33Z" fill="#00CBCC"/><path d="M235.27 37.41L229.03 33.71V41.12Z" fill="#00CBCC"/><path d="M235.7 37.2L229.46 33.5V40.91Z" fill="#00CBCC"/><path d="M236.12 37L229.88 33.29V40.7Z" fill="#00CBCC"/><path d="M236.54 36.79L230.3 33.09V40.5Z" fill="#00CBCC"/><path d="M236.95 36.59L230.71 32.88V40.29Z" fill="#00CBCC"/><path d="M237.36 36.39L231.12 32.68V40.09Z" fill="#00CBCC"/><path d="M237.77 36.19L231.53 32.49V39.9Z" fill="#00CBCC"/><path d="M238.17 35.99L231.93 32.29V39.7Z" fill="#00CBCC"/><path d="M238.56 35.8L232.32 32.09V39.5Z" fill="#00CBCC"/><path d="M238.96 35.61L232.72 31.9V39.31Z" fill="#00CBCC"/><path d="M239.34 35.41L233.1 31.71V39.12Z" fill="#00CBCC"/><path d="M239.73 35.22L233.49 31.52V38.93Z" fill="#00CBCC"/><path d="M240.11 35.03L233.87 31.33V38.74Z" fill="#00CBCC"/><path d="M240.48 34.85L234.24 31.14V38.55Z" fill="#00CBCC"/><path d="M240.86 34.66L234.62 30.96V38.37Z" fill="#00CBCC"/>
<path d="M59.83 135.02 L86.32 125.34 L101.81 119.41 L112.81 114.97 L121.34 111.41 L128.31 108.39 L134.2 105.73 L139.3 103.34 L143.8 101.12 L147.83 99.01 L151.47 97.04 L154.8 95.19 L157.86 93.47 L160.69 91.87 L163.32 90.38 L165.79 88.99 L168.11 87.7 L170.29 86.51 L172.36 85.39 L174.32 84.36 L176.18 83.39 L177.96 82.49 L179.66 81.65 L181.29 80.86 L182.85 80.11 L184.35 79.39 L185.79 78.7 L187.18 78.04 L188.52 77.4 L189.81 76.77 L191.07 76.16 L192.28 75.56 L193.46 74.97 L194.6 74.39 L195.71 73.82 L196.78 73.26 L197.83 72.7 L198.85 72.14 L199.84 71.59 L200.81 71.05 L201.75 70.52 L202.67 70.01 L203.57 69.51 L204.45 69.01 L205.31 68.51 L206.15 68.02 L206.97 67.52 L207.78 67.01 L208.57 66.5 L209.34 65.98 L210.09 65.44 L210.84 64.9 L211.56 64.34 L212.28 63.77 L212.98 63.19 L213.67 62.58 L214.35 61.95 L215.01 61.3 L215.66 60.64 L216.31 59.96 L216.94 59.26 L217.56 58.55 L218.17 57.83 L218.77 57.09 L219.36 56.34 L219.95 55.57 L220.52 54.77 L221.09 53.91 L221.65 53 L222.2 52.05 L222.74 51.08 L223.27 50.1 L223.8 49.12 L224.32 48.13 L224.83 47.17 L225.34 46.22 L225.84 45.29 L226.33 44.38 L226.82 43.43 L227.3 42.46 L227.77 41.5 L228.24 40.56 L228.71 39.66 L229.16 38.83 L229.62 38.07 L230.06 37.41 L230.51 36.82 L230.94 36.27 L231.37 35.75 L231.8 35.27 L232.22 34.81 L232.64 34.38 L233.05 33.96 L233.46 33.55 L233.87 33.16 L234.27 32.76 L234.66 32.37 L235.06 31.98 L235.44 31.59 L235.83 31.18 L236.21 30.77 L236.58 30.37 L236.96 29.96" fill="none" stroke="#7D4E4E" stroke-width="0.9" opacity="0.8"/>
<path d="M59.83 113.42 L86.32 104.07 L101.81 98.31 L112.81 93.75 L121.34 90.11 L128.31 87.21 L134.2 84.77 L139.3 82.63 L143.8 80.76 L147.83 79.04 L151.47 77.23 L154.8 75.32 L157.86 73.39 L160.69 71.52 L163.32 69.76 L165.79 68.13 L168.11 66.65 L170.29 65.33 L172.36 64.1 L174.32 62.95 L176.18 61.86 L177.96 60.83 L179.66 59.87 L181.29 58.97 L182.85 58.13 L184.35 57.34 L185.79 56.6 L187.18 55.92 L188.52 55.29 L189.81 54.7 L191.07 54.14 L192.28 53.6 L193.46 53.08 L194.6 52.57 L195.71 52.06 L196.78 51.57 L197.83 51.07 L198.85 50.58 L199.84 50.08 L200.81 49.58 L201.75 49.08 L202.67 48.57 L203.57 48.07 L204.45 47.58 L205.31 47.08 L206.15 46.59 L206.97 46.11 L207.78 45.63 L208.57 45.16 L209.34 44.7 L210.09 44.25 L210.84 43.8 L211.56 43.36 L212.28 42.93 L212.98 42.51 L213.67 42.1 L214.35 41.7 L215.01 41.31 L215.66 40.93 L216.31 40.56 L216.94 40.2 L217.56 39.84 L218.17 39.5 L218.77 39.17 L219.36 38.84 L219.95 38.53 L220.52 38.22 L221.09 37.92 L221.65 37.63 L222.2 37.35 L222.74 37.07 L223.27 36.79 L223.8 36.52 L224.32 36.26 L224.83 36 L225.34 35.75 L225.84 35.5 L226.33 35.25 L226.82 35.01 L227.3 34.77 L227.77 34.54 L228.24 34.3 L228.71 34.08 L229.16 33.85 L229.62 33.63 L230.06 33.41 L230.51 33.2 L230.94 32.98 L231.37 32.77 L231.8 32.56 L232.22 32.36 L232.64 32.15 L233.05 31.95 L233.46 31.75 L233.87 31.55 L234.27 31.35 L234.66 31.16 L235.06 30.97 L235.44 30.77 L235.83 30.58 L236.21 30.39 L236.58 30.21 L236.96 30.02" fill="none" stroke="#7D4E4E" stroke-width="0.9" opacity="0.8"/>
<circle cx="59.83" cy="135.02" r="3.15" fill="#7D4E4E"/><circle cx="86.32" cy="125.34" r="3.15" fill="#7D4E4E"/><circle cx="101.81" cy="119.41" r="3.15" fill="#7D4E4E"/><circle cx="112.81" cy="114.97" r="3.15" fill="#7D4E4E"/><circle cx="121.34" cy="111.41" r="3.15" fill="#7D4E4E"/><circle cx="128.31" cy="108.39" r="3.15" fill="#7D4E4E"/><circle cx="134.2" cy="105.73" r="3.15" fill="#7D4E4E"/><circle cx="139.3" cy="103.34" r="3.15" fill="#7D4E4E"/><circle cx="143.8" cy="101.12" r="3.15" fill="#7D4E4E"/><circle cx="147.83" cy="99.01" r="3.15" fill="#7D4E4E"/><circle cx="151.47" cy="97.04" r="3.15" fill="#7D4E4E"/><circle cx="154.8" cy="95.19" r="3.15" fill="#7D4E4E"/><circle cx="157.86" cy="93.47" r="3.15" fill="#7D4E4E"/><circle cx="160.69" cy="91.87" r="3.15" fill="#7D4E4E"/><circle cx="163.32" cy="90.38" r="3.15" fill="#7D4E4E"/><circle cx="165.79" cy="88.99" r="3.15" fill="#7D4E4E"/><circle cx="168.11" cy="87.7" r="3.15" fill="#7D4E4E"/><circle cx="170.29" cy="86.51" r="3.15" fill="#7D4E4E"/><circle cx="172.36" cy="85.39" r="3.15" fill="#7D4E4E"/><circle cx="174.32" cy="84.36" r="3.15" fill="#7D4E4E"/><circle cx="176.18" cy="83.39" r="3.15" fill="#7D4E4E"/><circle cx="177.96" cy="82.49" r="3.15" fill="#7D4E4E"/><circle cx="179.66" cy="81.65" r="3.15" fill="#7D4E4E"/><circle cx="181.29" cy="80.86" r="3.15" fill="#7D4E4E"/><circle cx="182.85" cy="80.11" r="3.15" fill="#7D4E4E"/><circle cx="184.35" cy="79.39" r="3.15" fill="#7D4E4E"/><circle cx="185.79" cy="78.7" r="3.15" fill="#7D4E4E"/><circle cx="187.18" cy="78.04" r="3.15" fill="#7D4E4E"/><circle cx="188.52" cy="77.4" r="3.15" fill="#7D4E4E"/><circle cx="189.81" cy="76.77" r="3.15" fill="#7D4E4E"/><circle cx="191.07" cy="76.16" r="3.15" fill="#7D4E4E"/><circle cx="192.28" cy="75.56" r="3.15" fill="#7D4E4E"/><circle cx="193.46" cy="74.97" r="3.15" fill="#7D4E4E"/><circle cx="194.6" cy="74.39" r="3.15" fill="#7D4E4E"/><circle cx="195.71" cy="73.82" r="3.15" fill="#7D4E4E"/><circle cx="196.78" cy="73.26" r="3.15" fill="#7D4E4E"/><circle cx="197.83" cy="72.7" r="3.15" fill="#7D4E4E"/><circle cx="198.85" cy="72.14" r="3.15" fill="#7D4E4E"/><circle cx="199.84" cy="71.59" r="3.15" fill="#7D4E4E"/><circle cx="200.81" cy="71.05" r="3.15" fill="#7D4E4E"/><circle cx="201.75" cy="70.52" r="3.15" fill="#7D4E4E"/><circle cx="202.67" cy="70.01" r="3.15" fill="#7D4E4E"/><circle cx="203.57" cy="69.51" r="3.15" fill="#7D4E4E"/><circle cx="204.45" cy="69.01" r="3.15" fill="#7D4E4E"/><circle cx="205.31" cy="68.51" r="3.15" fill="#7D4E4E"/><circle cx="206.15" cy="68.02" r="3.15" fill="#7D4E4E"/><circle cx="206.97" cy="67.52" r="3.15" fill="#7D4E4E"/><circle cx="207.78" cy="67.01" r="3.15" fill="#7D4E4E"/><circle cx="208.57" cy="66.5" r="3.15" fill="#7D4E4E"/><circle cx="209.34" cy="65.98" r="3.15" fill="#7D4E4E"/><circle cx="210.09" cy="65.44" r="3.15" fill="#7D4E4E"/><circle cx="210.84" cy="64.9" r="3.15" fill="#7D4E4E"/><circle cx="211.56" cy="64.34" r="3.15" fill="#7D4E4E"/><circle cx="212.28" cy="63.77" r="3.15" fill="#7D4E4E"/><circle cx="212.98" cy="63.19" r="3.15" fill="#7D4E4E"/><circle cx="213.67" cy="62.58" r="3.15" fill="#7D4E4E"/><circle cx="214.35" cy="61.95" r="3.15" fill="#7D4E4E"/><circle cx="215.01" cy="61.3" r="3.15" fill="#7D4E4E"/><circle cx="215.66" cy="60.64" r="3.15" fill="#7D4E4E"/><circle cx="216.31" cy="59.96" r="3.15" fill="#7D4E4E"/><circle cx="216.94" cy="59.26" r="3.15" fill="#7D4E4E"/><circle cx="217.56" cy="58.55" r="3.15" fill="#7D4E4E"/><circle cx="218.17" cy="57.83" r="3.15" fill="#7D4E4E"/><circle cx="218.77" cy="57.09" r="3.15" fill="#7D4E4E"/><circle cx="219.36" cy="56.34" r="3.15" fill="#7D4E4E"/><circle cx="219.95" cy="55.57" r="3.15" fill="#7D4E4E"/><circle cx="220.52" cy="54.77" r="3.15" fill="#7D4E4E"/><circle cx="221.09" cy="53.91" r="3.15" fill="#7D4E4E"/><circle cx="221.65" cy="53" r="3.15" fill="#7D4E4E"/><circle cx="222.2" cy="52.05" r="3.15" fill="#7D4E4E"/><circle cx="222.74" cy="51.08" r="3.15" fill="#7D4E4E"/><circle cx="223.27" cy="50.1" r="3.15" fill="#7D4E4E"/><circle cx="223.8" cy="49.12" r="3.15" fill="#7D4E4E"/><circle cx="224.32" cy="48.13" r="3.15" fill="#7D4E4E"/><circle cx="224.83" cy="47.17" r="3.15" fill="#7D4E4E"/><circle cx="225.34" cy="46.22" r="3.15" fill="#7D4E4E"/><circle cx="225.84" cy="45.29" r="3.15" fill="#7D4E4E"/><circle cx="226.33" cy="44.38" r="3.15" fill="#7D4E4E"/><circle cx="226.82" cy="43.43" r="3.15" fill="#7D4E4E"/><circle cx="227.3" cy="42.46" r="3.15" fill="#7D4E4E"/><circle cx="227.77" cy="41.5" r="3.15" fill="#7D4E4E"/><circle cx="228.24" cy="40.56" r="3.15" fill="#7D4E4E"/><circle cx="228.71" cy="39.66" r="3.15" fill="#7D4E4E"/><circle cx="229.16" cy="38.83" r="3.15" fill="#7D4E4E"/><circle cx="229.62" cy="38.07" r="3.15" fill="#7D4E4E"/><circle cx="230.06" cy="37.41" r="3.15" fill="#7D4E4E"/><circle cx="230.51" cy="36.82" r="3.15" fill="#7D4E4E"/><circle cx="230.94" cy="36.27" r="3.15" fill="#7D4E4E"/><circle cx="231.37" cy="35.75" r="3.15" fill="#7D4E4E"/><circle cx="231.8" cy="35.27" r="3.15" fill="#7D4E4E"/><circle cx="232.22" cy="34.81" r="3.15" fill="#7D4E4E"/><circle cx="232.64" cy="34.38" r="3.15" fill="#7D4E4E"/><circle cx="233.05" cy="33.96" r="3.15" fill="#7D4E4E"/><circle cx="233.46" cy="33.55" r="3.15" fill="#7D4E4E"/><circle cx="233.87" cy="33.16" r="3.15" fill="#7D4E4E"/><circle cx="234.27" cy="32.76" r="3.15" fill="#7D4E4E"/><circle cx="234.66" cy="32.37" r="3.15" fill="#7D4E4E"/><circle cx="235.06" cy="31.98" r="3.15" fill="#7D4E4E"/><circle cx="235.44" cy="31.59" r="3.15" fill="#7D4E4E"/><circle cx="235.83" cy="31.18" r="3.15" fill="#7D4E4E"/><circle cx="236.21" cy="30.77" r="3.15" fill="#7D4E4E"/><circle cx="236.58" cy="30.37" r="3.15" fill="#7D4E4E"/><circle cx="236.96" cy="29.96" r="3.15" fill="#7D4E4E"/><circle cx="59.83" cy="113.42" r="3.15" fill="#7D4E4E"/><circle cx="86.32" cy="104.07" r="3.15" fill="#7D4E4E"/><circle cx="101.81" cy="98.31" r="3.15" fill="#7D4E4E"/><circle cx="112.81" cy="93.75" r="3.15" fill="#7D4E4E"/><circle cx="121.34" cy="90.11" r="3.15" fill="#7D4E4E"/><circle cx="128.31" cy="87.21" r="3.15" fill="#7D4E4E"/><circle cx="134.2" cy="84.77" r="3.15" fill="#7D4E4E"/><circle cx="139.3" cy="82.63" r="3.15" fill="#7D4E4E"/><circle cx="143.8" cy="80.76" r="3.15" fill="#7D4E4E"/><circle cx="147.83" cy="79.04" r="3.15" fill="#7D4E4E"/><circle cx="151.47" cy="77.23" r="3.15" fill="#7D4E4E"/><circle cx="154.8" cy="75.32" r="3.15" fill="#7D4E4E"/><circle cx="157.86" cy="73.39" r="3.15" fill="#7D4E4E"/><circle cx="160.69" cy="71.52" r="3.15" fill="#7D4E4E"/><circle cx="163.32" cy="69.76" r="3.15" fill="#7D4E4E"/><circle cx="165.79" cy="68.13" r="3.15" fill="#7D4E4E"/><circle cx="168.11" cy="66.65" r="3.15" fill="#7D4E4E"/><circle cx="170.29" cy="65.33" r="3.15" fill="#7D4E4E"/><circle cx="172.36" cy="64.1" r="3.15" fill="#7D4E4E"/><circle cx="174.32" cy="62.95" r="3.15" fill="#7D4E4E"/><circle cx="176.18" cy="61.86" r="3.15" fill="#7D4E4E"/><circle cx="177.96" cy="60.83" r="3.15" fill="#7D4E4E"/><circle cx="179.66" cy="59.87" r="3.15" fill="#7D4E4E"/><circle cx="181.29" cy="58.97" r="3.15" fill="#7D4E4E"/><circle cx="182.85" cy="58.13" r="3.15" fill="#7D4E4E"/><circle cx="184.35" cy="57.34" r="3.15" fill="#7D4E4E"/><circle cx="185.79" cy="56.6" r="3.15" fill="#7D4E4E"/><circle cx="187.18" cy="55.92" r="3.15" fill="#7D4E4E"/><circle cx="188.52" cy="55.29" r="3.15" fill="#7D4E4E"/><circle cx="189.81" cy="54.7" r="3.15" fill="#7D4E4E"/><circle cx="191.07" cy="54.14" r="3.15" fill="#7D4E4E"/><circle cx="192.28" cy="53.6" r="3.15" fill="#7D4E4E"/><circle cx="193.46" cy="53.08" r="3.15" fill="#7D4E4E"/><circle cx="194.6" cy="52.57" r="3.15" fill="#7D4E4E"/><circle cx="195.71" cy="52.06" r="3.15" fill="#7D4E4E"/><circle cx="196.78" cy="51.57" r="3.15" fill="#7D4E4E"/><circle cx="197.83" cy="51.07" r="3.15" fill="#7D4E4E"/><circle cx="198.85" cy="50.58" r="3.15" fill="#7D4E4E"/><circle cx="199.84" cy="50.08" r="3.15" fill="#7D4E4E"/><circle cx="200.81" cy="49.58" r="3.15" fill="#7D4E4E"/><circle cx="201.75" cy="49.08" r="3.15" fill="#7D4E4E"/><circle cx="202.67" cy="48.57" r="3.15" fill="#7D4E4E"/><circle cx="203.57" cy="48.07" r="3.15" fill="#7D4E4E"/><circle cx="204.45" cy="47.58" r="3.15" fill="#7D4E4E"/><circle cx="205.31" cy="47.08" r="3.15" fill="#7D4E4E"/><circle cx="206.15" cy="46.59" r="3.15" fill="#7D4E4E"/><circle cx="206.97" cy="46.11" r="3.15" fill="#7D4E4E"/><circle cx="207.78" cy="45.63" r="3.15" fill="#7D4E4E"/><circle cx="208.57" cy="45.16" r="3.15" fill="#7D4E4E"/><circle cx="209.34" cy="44.7" r="3.15" fill="#7D4E4E"/><circle cx="210.09" cy="44.25" r="3.15" fill="#7D4E4E"/><circle cx="210.84" cy="43.8" r="3.15" fill="#7D4E4E"/><circle cx="211.56" cy="43.36" r="3.15" fill="#7D4E4E"/><circle cx="212.28" cy="42.93" r="3.15" fill="#7D4E4E"/><circle cx="212.98" cy="42.51" r="3.15" fill="#7D4E4E"/><circle cx="213.67" cy="42.1" r="3.15" fill="#7D4E4E"/><circle cx="214.35" cy="41.7" r="3.15" fill="#7D4E4E"/><circle cx="215.01" cy="41.31" r="3.15" fill="#7D4E4E"/><circle cx="215.66" cy="40.93" r="3.15" fill="#7D4E4E"/><circle cx="216.31" cy="40.56" r="3.15" fill="#7D4E4E"/><circle cx="216.94" cy="40.2" r="3.15" fill="#7D4E4E"/><circle cx="217.56" cy="39.84" r="3.15" fill="#7D4E4E"/><circle cx="218.17" cy="39.5" r="3.15" fill="#7D4E4E"/><circle cx="218.77" cy="39.17" r="3.15" fill="#7D4E4E"/><circle cx="219.36" cy="38.84" r="3.15" fill="#7D4E4E"/><circle cx="219.95" cy="38.53" r="3.15" fill="#7D4E4E"/><circle cx="220.52" cy="38.22" r="3.15" fill="#7D4E4E"/><circle cx="221.09" cy="37.92" r="3.15" fill="#7D4E4E"/><circle cx="221.65" cy="37.63" r="3.15" fill="#7D4E4E"/><circle cx="222.2" cy="37.35" r="3.15" fill="#7D4E4E"/><circle cx="222.74" cy="37.07" r="3.15" fill="#7D4E4E"/><circle cx="223.27" cy="36.79" r="3.15" fill="#7D4E4E"/><circle cx="223.8" cy="36.52" r="3.15" fill="#7D4E4E"/><circle cx="224.32" cy="36.26" r="3.15" fill="#7D4E4E"/><circle cx="224.83" cy="36" r="3.15" fill="#7D4E4E"/><circle cx="225.34" cy="35.75" r="3.15" fill="#7D4E4E"/><circle cx="225.84" cy="35.5" r="3.15" fill="#7D4E4E"/><circle cx="226.33" cy="35.25" r="3.15" fill="#7D4E4E"/><circle cx="226.82" cy="35.01" r="3.15" fill="#7D4E4E"/><circle cx="227.3" cy="34.77" r="3.15" fill="#7D4E4E"/><circle cx="227.77" cy="34.54" r="3.15" fill="#7D4E4E"/><circle cx="228.24" cy="34.3" r="3.15" fill="#7D4E4E"/><circle cx="228.71" cy="34.08" r="3.15" fill="#7D4E4E"/><circle cx="229.16" cy="33.85" r="3.15" fill="#7D4E4E"/><circle cx="229.62" cy="33.63" r="3.15" fill="#7D4E4E"/><circle cx="230.06" cy="33.41" r="3.15" fill="#7D4E4E"/><circle cx="230.51" cy="33.2" r="3.15" fill="#7D4E4E"/><circle cx="230.94" cy="32.98" r="3.15" fill="#7D4E4E"/><circle cx="231.37" cy="32.77" r="3.15" fill="#7D4E4E"/><circle cx="231.8" cy="32.56" r="3.15" fill="#7D4E4E"/><circle cx="232.22" cy="32.36" r="3.15" fill="#7D4E4E"/><circle cx="232.64" cy="32.15" r="3.15" fill="#7D4E4E"/><circle cx="233.05" cy="31.95" r="3.15" fill="#7D4E4E"/><circle cx="233.46" cy="31.75" r="3.15" fill="#7D4E4E"/><circle cx="233.87" cy="31.55" r="3.15" fill="#7D4E4E"/><circle cx="234.27" cy="31.35" r="3.15" fill="#7D4E4E"/><circle cx="234.66" cy="31.16" r="3.15" fill="#7D4E4E"/><circle cx="235.06" cy="30.97" r="3.15" fill="#7D4E4E"/><circle cx="235.44" cy="30.77" r="3.15" fill="#7D4E4E"/><circle cx="235.83" cy="30.58" r="3.15" fill="#7D4E4E"/><circle cx="236.21" cy="30.39" r="3.15" fill="#7D4E4E"/><circle cx="236.58" cy="30.21" r="3.15" fill="#7D4E4E"/><circle cx="236.96" cy="30.02" r="3.15" fill="#7D4E4E"/>
<rect x="44.5" y="18.5" width="207.5" height="166" fill="none" stroke="#000" stroke-width="1.4"/>
<path d="M100.5 184.5v-4M100.5 18.5v4M188.5 184.5v-4M188.5 18.5v4" stroke="#000" stroke-width="1.1" fill="none"/>
<path d="M54.49 184.5v-2M54.49 18.5v2M65.48 184.5v-2M65.48 18.5v2M74.01 184.5v-2M74.01 18.5v2M80.98 184.5v-2M80.98 18.5v2M86.87 184.5v-2M86.87 18.5v2M91.97 184.5v-2M91.97 18.5v2M96.47 184.5v-2M96.47 18.5v2M126.99 184.5v-2M126.99 18.5v2M142.49 184.5v-2M142.49 18.5v2M153.48 184.5v-2M153.48 18.5v2M162.01 184.5v-2M162.01 18.5v2M168.98 184.5v-2M168.98 18.5v2M174.87 184.5v-2M174.87 18.5v2M179.97 184.5v-2M179.97 18.5v2M184.47 184.5v-2M184.47 18.5v2M214.99 184.5v-2M214.99 18.5v2M230.49 184.5v-2M230.49 18.5v2M241.48 184.5v-2M241.48 18.5v2M250.01 184.5v-2M250.01 18.5v2" stroke="#000" stroke-width="1.1" fill="none"/>
<path d="M44.5 29.8h4M252 29.8h-4M44.5 60.1h4M252 60.1h-4M44.5 90.4h4M252 90.4h-4M44.5 120.7h4M252 120.7h-4M44.5 151h4M252 151h-4M44.5 181.3h4M252 181.3h-4" stroke="#000" stroke-width="1.1" fill="none"/>
<path d="M44.5 184.24h2M252 184.24h-2M44.5 182.69h2M252 182.69h-2M44.5 172.18h2M252 172.18h-2M44.5 166.84h2M252 166.84h-2M44.5 163.06h2M252 163.06h-2M44.5 160.12h2M252 160.12h-2M44.5 157.72h2M252 157.72h-2M44.5 155.69h2M252 155.69h-2M44.5 153.94h2M252 153.94h-2M44.5 152.39h2M252 152.39h-2M44.5 141.88h2M252 141.88h-2M44.5 136.54h2M252 136.54h-2M44.5 132.76h2M252 132.76h-2M44.5 129.82h2M252 129.82h-2M44.5 127.42h2M252 127.42h-2M44.5 125.39h2M252 125.39h-2M44.5 123.64h2M252 123.64h-2M44.5 122.09h2M252 122.09h-2M44.5 111.58h2M252 111.58h-2M44.5 106.24h2M252 106.24h-2M44.5 102.46h2M252 102.46h-2M44.5 99.52h2M252 99.52h-2M44.5 97.12h2M252 97.12h-2M44.5 95.09h2M252 95.09h-2M44.5 93.34h2M252 93.34h-2M44.5 91.79h2M252 91.79h-2M44.5 81.28h2M252 81.28h-2M44.5 75.94h2M252 75.94h-2M44.5 72.16h2M252 72.16h-2M44.5 69.22h2M252 69.22h-2M44.5 66.82h2M252 66.82h-2M44.5 64.79h2M252 64.79h-2M44.5 63.04h2M252 63.04h-2M44.5 61.49h2M252 61.49h-2M44.5 50.98h2M252 50.98h-2M44.5 45.64h2M252 45.64h-2M44.5 41.86h2M252 41.86h-2M44.5 38.92h2M252 38.92h-2M44.5 36.52h2M252 36.52h-2M44.5 34.49h2M252 34.49h-2M44.5 32.74h2M252 32.74h-2M44.5 31.19h2M252 31.19h-2M44.5 20.68h2M252 20.68h-2" stroke="#000" stroke-width="0.9" fill="none"/>
<text x="41.5" y="33.8" font-size="10.5" text-anchor="end" font-weight="bold" font-family='"Liberation Sans", sans-serif'>10<tspan font-size="7.14" dy="-3.78">-3</tspan></text>
<text x="41.5" y="64.1" font-size="10.5" text-anchor="end" font-weight="bold" font-family='"Liberation Sans", sans-serif'>10<tspan font-size="7.14" dy="-3.78">-4</tspan></text>
<text x="41.5" y="94.4" font-size="10.5" text-anchor="end" font-weight="bold" font-family='"Liberation Sans", sans-serif'>10<tspan font-size="7.14" dy="-3.78">-5</tspan></text>
<text x="41.5" y="124.7" font-size="10.5" text-anchor="end" font-weight="bold" font-family='"Liberation Sans", sans-serif'>10<tspan font-size="7.14" dy="-3.78">-6</tspan></text>
<text x="41.5" y="155" font-size="10.5" text-anchor="end" font-weight="bold" font-family='"Liberation Sans", sans-serif'>10<tspan font-size="7.14" dy="-3.78">-7</tspan></text>
<text x="41.5" y="185.3" font-size="10.5" text-anchor="end" font-weight="bold" font-family='"Liberation Sans", sans-serif'>10<tspan font-size="7.14" dy="-3.78">-8</tspan></text>
<text x="100.5" y="199.5" font-size="10.5" text-anchor="middle" font-weight="bold" font-family='"Liberation Sans", sans-serif'>10<tspan font-size="7" dy="-4.5">-1</tspan></text>
<text x="188.5" y="199.5" font-size="10.5" text-anchor="middle" font-weight="bold" font-family='"Liberation Sans", sans-serif'>10<tspan font-size="7" dy="-4.5">0</tspan></text>
<text x="148" y="213" font-size="13.5" text-anchor="middle" fill="#000" font-weight="bold" font-family='"Liberation Sans", sans-serif' letter-spacing="0.4">Voltage (V)</text>
<text transform="translate(19.4,98.5) rotate(-90)" font-size="14" letter-spacing="0.25" text-anchor="middle" font-weight="bold" font-family='"Liberation Sans", sans-serif'>Current (A)</text>
<path d="M50.1 27.2h26.2" stroke="#515151" stroke-width="1.5" opacity="0.6"/>
<rect x="60.8" y="24.8" width="4.8" height="4.8" fill="#515151"/>
<text x="80.7" y="31.5" font-size="12" text-anchor="start" fill="#000" font-weight="bold" font-family='"Liberation Sans", sans-serif' >1st cycle</text>
<path d="M50.1 41.6h26.2" stroke="#F14040" stroke-width="1.5" opacity="0.6"/>
<circle cx="63.2" cy="41.6" r="2.9" fill="#F14040"/>
<text x="80.7" y="45.9" font-size="12" text-anchor="start" fill="#000" font-weight="bold" font-family='"Liberation Sans", sans-serif' >10</text>
<path d="M50.1 56.8h26.2" stroke="#1A6FDF" stroke-width="1.5" opacity="0.6"/>
<path d="M63.2 53.03L66.78 59.06H59.62Z" fill="#1A6FDF"/>
<text x="80.7" y="61.1" font-size="12" text-anchor="start" fill="#000" font-weight="bold" font-family='"Liberation Sans", sans-serif' >30</text>
<path d="M50.1 71.5h26.2" stroke="#37AD6B" stroke-width="1.5" opacity="0.6"/>
<path d="M63.2 75.27L66.78 69.24H59.62Z" fill="#37AD6B"/>
<text x="80.7" y="75.8" font-size="12" text-anchor="start" fill="#000" font-weight="bold" font-family='"Liberation Sans", sans-serif' >50</text>
<path d="M50.1 87.4h26.2" stroke="#B177DE" stroke-width="1.5" opacity="0.6"/>
<path d="M63.2 83.63L66.97 87.4L63.2 91.17L59.43 87.4Z" fill="#B177DE"/>
<text x="80.7" y="91.7" font-size="12" text-anchor="start" fill="#000" font-weight="bold" font-family='"Liberation Sans", sans-serif' >100</text>
<path d="M98.1 41.6h26.2" stroke="#CC9900" stroke-width="1.5" opacity="0.6"/>
<path d="M107.43 41.6L113.46 38.02V45.18Z" fill="#CC9900"/>
<text x="128.7" y="45.9" font-size="12" text-anchor="start" fill="#000" font-weight="bold" font-family='"Liberation Sans", sans-serif' >200</text>
<path d="M98.1 56.8h26.2" stroke="#00CBCC" stroke-width="1.5" opacity="0.6"/>
<path d="M114.97 56.8L108.94 53.22V60.38Z" fill="#00CBCC"/>
<text x="128.7" y="61.1" font-size="12" text-anchor="start" fill="#000" font-weight="bold" font-family='"Liberation Sans", sans-serif' >300</text>
<path d="M98.1 71.5h26.2" stroke="#7D4E4E" stroke-width="1.5" opacity="0.6"/>
<circle cx="111.2" cy="71.5" r="3.04" fill="#7D4E4E"/>
<text x="128.7" y="75.8" font-size="12" text-anchor="start" fill="#000" font-weight="bold" font-family='"Liberation Sans", sans-serif' >500</text>
<text x="162" y="47" font-size="12" text-anchor="start" fill="#000" font-weight="bold" font-family='"Liberation Sans", sans-serif' >LRS</text>
<circle cx="192" cy="59" r="1.0" fill="#000"/><circle cx="190.09" cy="65.17" r="1.0" fill="#000"/><circle cx="185.09" cy="68.99" r="1.0" fill="#000"/><circle cx="178.91" cy="68.99" r="1.0" fill="#000"/><circle cx="173.91" cy="65.17" r="1.0" fill="#000"/><circle cx="172" cy="59" r="1.0" fill="#000"/><circle cx="173.91" cy="52.83" r="1.0" fill="#000"/><circle cx="178.91" cy="49.01" r="1.0" fill="#000"/><circle cx="185.09" cy="49.01" r="1.0" fill="#000"/><circle cx="190.09" cy="52.83" r="1.0" fill="#000"/>
<text x="113.5" y="167.5" font-size="12" text-anchor="start" fill="#000" font-weight="bold" font-family='"Liberation Sans", sans-serif' >HRS</text>
<circle cx="112.39" cy="141.6" r="1.0" fill="#000"/><circle cx="109.54" cy="153.69" r="1.0" fill="#000"/><circle cx="105" cy="163.06" r="1.0" fill="#000"/><circle cx="99.67" cy="167.87" r="1.0" fill="#000"/><circle cx="94.6" cy="167.16" r="1.0" fill="#000"/><circle cx="90.8" cy="161.07" r="1.0" fill="#000"/><circle cx="89.02" cy="150.8" r="1.0" fill="#000"/><circle cx="89.61" cy="138.4" r="1.0" fill="#000"/><circle cx="92.46" cy="126.31" r="1.0" fill="#000"/><circle cx="97" cy="116.94" r="1.0" fill="#000"/><circle cx="102.33" cy="112.13" r="1.0" fill="#000"/><circle cx="107.4" cy="112.84" r="1.0" fill="#000"/><circle cx="111.2" cy="118.93" r="1.0" fill="#000"/><circle cx="112.98" cy="129.2" r="1.0" fill="#000"/>
<path d="M142.4 144L142.4 100.7" stroke="#000" stroke-width="1.3"/>
<path d="M142.4 96.5L145.4 102.5L142.4 101L139.4 102.5Z" fill="#000"/>
<text x="193" y="112" font-size="11.5" text-anchor="start" fill="#000" font-weight="bold" font-family='"Liberation Sans", sans-serif' >Switching</text>
<path d="M217 97 Q236 66 241.5 46" fill="none" stroke="#000" stroke-width="1.1"/>
<path d="M241.2 48L242.21 43.92" stroke="#000" stroke-width="1.1"/>
<path d="M243.3 39.5L244.85 46.58L242.13 44.23L238.63 45.04Z" fill="#000"/>
<text x="264.5" y="15.5" font-size="13" text-anchor="start" fill="#000" font-weight="bold" font-family='"Liberation Serif", serif' >(b)</text>
<path d="M327.39 45.51L328.29 46.59M341.57 51.52L351.73 60.38M359.63 64.64L384.97 71.76M393.99 73.23L419.01 74.47M428.19 74.34L487.41 69.66" fill="none" stroke="#F03A3A" stroke-width="1"/>
<path d="M327.5 66.62L328.18 67.38M342.62 73.87L350.68 75.43M359.8 76.47L384.8 77.43M393.99 77.86L419.01 79.24M428.2 79.45L487.4 78.75" fill="none" stroke="#F03A3A" stroke-width="1"/>
<path d="M342.67 128.94L350.63 127.96M359.8 127.39L384.8 127.31M394 127.3L419 127.3M428.2 127.3L487.4 127.3" fill="none" stroke="#8a8a8a" stroke-width="1.2"/>
<path d="M342.7 125.13L350.6 125.37M359.8 125.5L384.8 125.5M394 125.5L419 125.5M428.2 125.5L487.4 125.5" fill="none" stroke="#8a8a8a" stroke-width="1.2"/>
<rect x="318.34" y="33.5" width="6" height="6" fill="#F03A3A"/>
<rect x="321.42" y="39" width="6" height="6" fill="#F03A3A"/>
<rect x="328.26" y="47.1" width="6" height="6" fill="#F03A3A"/>
<rect x="335.1" y="45.5" width="6" height="6" fill="#F03A3A"/>
<rect x="352.2" y="60.4" width="6" height="6" fill="#F03A3A"/>
<rect x="386.4" y="70" width="6" height="6" fill="#F03A3A"/>
<rect x="420.6" y="71.7" width="6" height="6" fill="#F03A3A"/>
<rect x="489" y="66.3" width="6" height="6" fill="#F03A3A"/>
<circle cx="321.34" cy="60.5" r="2.8" fill="#fff" stroke="#F03A3A" stroke-width="1"/>
<circle cx="324.42" cy="63.2" r="2.8" fill="#fff" stroke="#F03A3A" stroke-width="1"/>
<circle cx="331.26" cy="70.8" r="2.8" fill="#fff" stroke="#F03A3A" stroke-width="1"/>
<circle cx="338.1" cy="73" r="2.8" fill="#fff" stroke="#F03A3A" stroke-width="1"/>
<circle cx="355.2" cy="76.3" r="2.8" fill="#fff" stroke="#F03A3A" stroke-width="1"/>
<circle cx="389.4" cy="77.6" r="2.8" fill="#fff" stroke="#F03A3A" stroke-width="1"/>
<circle cx="423.6" cy="79.5" r="2.8" fill="#fff" stroke="#F03A3A" stroke-width="1"/>
<circle cx="492" cy="78.7" r="2.8" fill="#fff" stroke="#F03A3A" stroke-width="1"/>
<rect x="318.64" y="123.6" width="5.4" height="5.4" fill="#505050"/>
<rect x="321.72" y="123.6" width="5.4" height="5.4" fill="#505050"/>
<rect x="328.56" y="123.6" width="5.4" height="5.4" fill="#505050"/>
<rect x="335.4" y="126.8" width="5.4" height="5.4" fill="#505050"/>
<rect x="352.5" y="124.7" width="5.4" height="5.4" fill="#505050"/>
<rect x="386.7" y="124.6" width="5.4" height="5.4" fill="#505050"/>
<rect x="420.9" y="124.6" width="5.4" height="5.4" fill="#505050"/>
<rect x="489.3" y="124.6" width="5.4" height="5.4" fill="#505050"/>
<circle cx="321.34" cy="121.8" r="2.7" fill="#fff" stroke="#505050" stroke-width="1"/>
<circle cx="324.42" cy="121.8" r="2.7" fill="#fff" stroke="#505050" stroke-width="1"/>
<circle cx="331.26" cy="123.5" r="2.7" fill="#fff" stroke="#505050" stroke-width="1"/>
<circle cx="338.1" cy="125" r="2.7" fill="#fff" stroke="#505050" stroke-width="1"/>
<circle cx="355.2" cy="125.5" r="2.7" fill="#fff" stroke="#505050" stroke-width="1"/>
<circle cx="389.4" cy="125.5" r="2.7" fill="#fff" stroke="#505050" stroke-width="1"/>
<circle cx="423.6" cy="125.5" r="2.7" fill="#fff" stroke="#505050" stroke-width="1"/>
<circle cx="492" cy="125.5" r="2.7" fill="#fff" stroke="#505050" stroke-width="1"/>
<path d="M304.3 19H509M304.3 184.5H509M304.3 19V184.5" stroke="#000" stroke-width="1.4" fill="none"/>
<path d="M509 18.3V185.2" stroke="#FF0000" stroke-width="1.4" fill="none"/>
<path d="M321 184.5v-3.5M321 19v3.5M355.2 184.5v-3.5M355.2 19v3.5M389.4 184.5v-3.5M389.4 19v3.5M423.6 184.5v-3.5M423.6 19v3.5M457.8 184.5v-3.5M457.8 19v3.5M492 184.5v-3.5M492 19v3.5" stroke="#000" stroke-width="1.1" fill="none"/>
<path d="M338.1 184.5v-2M338.1 19v2M372.3 184.5v-2M372.3 19v2M406.5 184.5v-2M406.5 19v2M440.7 184.5v-2M440.7 19v2M474.9 184.5v-2M474.9 19v2" stroke="#000" stroke-width="1.1" fill="none"/>
<path d="M304.3 184.5h3.5M304.3 156.91h3.5M304.3 129.33h3.5M304.3 101.75h3.5M304.3 74.16h3.5M304.3 46.57h3.5M304.3 18.99h3.5" stroke="#000" stroke-width="1.1" fill="none"/>
<path d="M304.3 170.71h2M304.3 143.12h2M304.3 115.54h2M304.3 87.95h2M304.3 60.37h2M304.3 32.78h2" stroke="#000" stroke-width="1.1" fill="none"/>
<path d="M509 184.5h-3.5M509 156.91h-3.5M509 129.33h-3.5M509 101.75h-3.5M509 74.16h-3.5M509 46.57h-3.5M509 18.99h-3.5" stroke="#FF0000" stroke-width="1.1" fill="none"/>
<path d="M509 170.71h-2M509 143.12h-2M509 115.54h-2M509 87.95h-2M509 60.37h-2M509 32.78h-2" stroke="#FF0000" stroke-width="1.1" fill="none"/>
<text x="300.5" y="188.3" font-size="10.5" text-anchor="end" fill="#000" font-weight="bold" font-family='"Liberation Sans", sans-serif' >0.0</text>
<text x="512" y="188.3" font-size="10.5" text-anchor="start" fill="#FF0000" font-weight="bold" font-family='"Liberation Sans", sans-serif' >0.0</text>
<text x="300.5" y="160.72" font-size="10.5" text-anchor="end" fill="#000" font-weight="bold" font-family='"Liberation Sans", sans-serif' >0.5</text>
<text x="512" y="160.72" font-size="10.5" text-anchor="start" fill="#FF0000" font-weight="bold" font-family='"Liberation Sans", sans-serif' >0.5</text>
<text x="300.5" y="133.13" font-size="10.5" text-anchor="end" fill="#000" font-weight="bold" font-family='"Liberation Sans", sans-serif' >1.0</text>
<text x="512" y="133.13" font-size="10.5" text-anchor="start" fill="#FF0000" font-weight="bold" font-family='"Liberation Sans", sans-serif' >1.0</text>
<text x="300.5" y="105.55" font-size="10.5" text-anchor="end" fill="#000" font-weight="bold" font-family='"Liberation Sans", sans-serif' >1.5</text>
<text x="512" y="105.55" font-size="10.5" text-anchor="start" fill="#FF0000" font-weight="bold" font-family='"Liberation Sans", sans-serif' >1.5</text>
<text x="300.5" y="77.96" font-size="10.5" text-anchor="end" fill="#000" font-weight="bold" font-family='"Liberation Sans", sans-serif' >2.0</text>
<text x="512" y="77.96" font-size="10.5" text-anchor="start" fill="#FF0000" font-weight="bold" font-family='"Liberation Sans", sans-serif' >2.0</text>
<text x="300.5" y="50.37" font-size="10.5" text-anchor="end" fill="#000" font-weight="bold" font-family='"Liberation Sans", sans-serif' >2.5</text>
<text x="512" y="50.37" font-size="10.5" text-anchor="start" fill="#FF0000" font-weight="bold" font-family='"Liberation Sans", sans-serif' >2.5</text>
<text x="300.5" y="22.79" font-size="10.5" text-anchor="end" fill="#000" font-weight="bold" font-family='"Liberation Sans", sans-serif' >3.0</text>
<text x="512" y="22.79" font-size="10.5" text-anchor="start" fill="#FF0000" font-weight="bold" font-family='"Liberation Sans", sans-serif' >3.0</text>
<text x="321.2" y="197" font-size="10.5" text-anchor="middle" fill="#000" font-weight="bold" font-family='"Liberation Sans", sans-serif' letter-spacing="0.4">0</text>
<text x="355.4" y="197" font-size="10.5" text-anchor="middle" fill="#000" font-weight="bold" font-family='"Liberation Sans", sans-serif' letter-spacing="0.4">100</text>
<text x="389.6" y="197" font-size="10.5" text-anchor="middle" fill="#000" font-weight="bold" font-family='"Liberation Sans", sans-serif' letter-spacing="0.4">200</text>
<text x="423.8" y="197" font-size="10.5" text-anchor="middle" fill="#000" font-weight="bold" font-family='"Liberation Sans", sans-serif' letter-spacing="0.4">300</text>
<text x="458" y="197" font-size="10.5" text-anchor="middle" fill="#000" font-weight="bold" font-family='"Liberation Sans", sans-serif' letter-spacing="0.4">400</text>
<text x="492.2" y="197" font-size="10.5" text-anchor="middle" fill="#000" font-weight="bold" font-family='"Liberation Sans", sans-serif' letter-spacing="0.4">500</text>
<text x="406.2" y="213" font-size="13.6" text-anchor="middle" fill="#000" font-weight="bold" font-family='"Liberation Sans", sans-serif' letter-spacing="0.35">Cycle No.</text>
<text transform="translate(279.5,100) rotate(-90)" font-size="14.4" text-anchor="middle" font-weight="bold" font-family='"Liberation Sans", sans-serif'><tspan font-style="italic">I-V</tspan> slope (@ Ohmic)</text>
<text transform="translate(543.5,99.5) rotate(-90)" font-size="13.8" text-anchor="middle" font-weight="bold" fill="#FF0000" font-family='"Liberation Sans", sans-serif'><tspan font-style="italic">I-V</tspan> slope (@ SCLC)</text>
<path d="M365.5 32.8H374.2M383.8 32.8H392.7" stroke="#F03A3A" stroke-width="1"/>
<rect x="376" y="29.8" width="6" height="6" fill="#F03A3A"/>
<text x="396.5" y="37" font-size="11.6" text-anchor="start" fill="#000" font-weight="bold" font-family='"Liberation Sans", sans-serif' letter-spacing="0.35">HRS (SCLC)</text>
<path d="M365.5 47.5H374.2M383.8 47.5H392.7" stroke="#F03A3A" stroke-width="1"/>
<circle cx="379" cy="47.5" r="2.9" fill="#fff" stroke="#F03A3A" stroke-width="1"/>
<text x="396.5" y="51.7" font-size="11.6" text-anchor="start" fill="#000" font-weight="bold" font-family='"Liberation Sans", sans-serif' letter-spacing="0.35">LRS (SCLC)</text>
<path d="M365.5 152.8H374.2M383.8 152.8H392.7" stroke="#8a8a8a" stroke-width="1"/>
<rect x="376" y="149.8" width="6" height="6" fill="#505050"/>
<text x="396.5" y="157" font-size="11.6" text-anchor="start" fill="#000" font-weight="bold" font-family='"Liberation Sans", sans-serif' letter-spacing="0.35">HRS (Ohimc)</text>
<path d="M365.5 168.2H374.2M383.8 168.2H392.7" stroke="#8a8a8a" stroke-width="1"/>
<circle cx="379" cy="168.2" r="2.9" fill="#fff" stroke="#505050" stroke-width="1"/>
<text x="396.5" y="172.4" font-size="11.6" text-anchor="start" fill="#000" font-weight="bold" font-family='"Liberation Sans", sans-serif' letter-spacing="0.35">LRS (Ohmic)</text>
<path d="M340.4 139.3L315.6 139.3" stroke="#000" stroke-width="1.5"/>
<path d="M310 139.3L318 135.3L316 139.3L318 143.3Z" fill="#000"/>
<circle cx="348" cy="127" r="1.0" fill="#000"/><circle cx="345.89" cy="134.07" r="1.0" fill="#000"/><circle cx="340.56" cy="137.83" r="1.0" fill="#000"/><circle cx="334.5" cy="136.53" r="1.0" fill="#000"/><circle cx="330.54" cy="130.76" r="1.0" fill="#000"/><circle cx="330.54" cy="123.24" r="1.0" fill="#000"/><circle cx="334.5" cy="117.47" r="1.0" fill="#000"/><circle cx="340.56" cy="116.17" r="1.0" fill="#000"/><circle cx="345.89" cy="119.93" r="1.0" fill="#000"/>
<path d="M470.7 63.4L502.1 63.4" stroke="#E02020" stroke-width="1.5"/>
<path d="M507 63.4L500 66.9L501.75 63.4L500 59.9Z" fill="#E02020"/>
<circle cx="481" cy="74" r="1.0" fill="#E02020"/><circle cx="478.99" cy="80.17" r="1.0" fill="#E02020"/><circle cx="473.74" cy="83.99" r="1.0" fill="#E02020"/><circle cx="467.26" cy="83.99" r="1.0" fill="#E02020"/><circle cx="462.01" cy="80.17" r="1.0" fill="#E02020"/><circle cx="460" cy="74" r="1.0" fill="#E02020"/><circle cx="462.01" cy="67.83" r="1.0" fill="#E02020"/><circle cx="467.26" cy="64.01" r="1.0" fill="#E02020"/><circle cx="473.74" cy="64.01" r="1.0" fill="#E02020"/><circle cx="478.99" cy="67.83" r="1.0" fill="#E02020"/>
<text x="7.5" y="221" font-size="13" text-anchor="start" fill="#000" font-weight="bold" font-family='"Liberation Serif", serif' >(c)</text>
<path d="M61.3 353.29 L64.75 335.75 L68.2 319.24 L71.65 313.82 L75.1 310.05 L78.55 304.98 L82 302.17 L85.45 300.4 L88.9 297.88 L92.35 296.01 L95.8 295.09 L99.25 293.66 L102.7 293.3 L106.15 292.07 L109.6 291.47 L113.05 290.08 L116.5 290.16 L119.95 289.94 L123.4 289.03 L126.85 288.79 L130.3 288.21 L133.75 287.06 L137.2 287.48 L140.65 286.86 L144.1 286.09 L147.55 285.35 L151 285.94 L154.45 285.19 L157.9 285.21 L161.35 285.12 L164.8 284.65 L168.25 284.62 L171.7 283.71 L175.15 283.92 L178.6 283.21 L182.05 283.52 L185.5 283.27 L188.95 282.16 L192.4 282.02 L195.85 281.94 L199.3 282.66 L202.75 281.84 L206.2 281.89 L209.65 281.32 L213.1 281.39 L216.55 281.06 L220 280.84 L223.45 280.94 L226.9 280.76 L230.35 280.97 L233.8 280.52" fill="none" stroke="#515151" stroke-width="0.8"/>
<rect x="58.8" y="350.79" width="5" height="5" fill="#515151"/><rect x="62.25" y="333.25" width="5" height="5" fill="#515151"/><rect x="65.7" y="316.74" width="5" height="5" fill="#515151"/><rect x="69.15" y="311.32" width="5" height="5" fill="#515151"/><rect x="72.6" y="307.55" width="5" height="5" fill="#515151"/><rect x="76.05" y="302.48" width="5" height="5" fill="#515151"/><rect x="79.1" y="299.27" width="5.8" height="5.8" fill="#515151"/><rect x="82.55" y="297.5" width="5.8" height="5.8" fill="#515151"/><rect x="86" y="294.98" width="5.8" height="5.8" fill="#515151"/><rect x="89.45" y="293.11" width="5.8" height="5.8" fill="#515151"/><rect x="92.9" y="292.19" width="5.8" height="5.8" fill="#515151"/><rect x="96.35" y="290.76" width="5.8" height="5.8" fill="#515151"/><rect x="99.8" y="290.4" width="5.8" height="5.8" fill="#515151"/><rect x="103.25" y="289.17" width="5.8" height="5.8" fill="#515151"/><rect x="106.7" y="288.57" width="5.8" height="5.8" fill="#515151"/><rect x="110.15" y="287.18" width="5.8" height="5.8" fill="#515151"/><rect x="113.6" y="287.26" width="5.8" height="5.8" fill="#515151"/><rect x="117.05" y="287.04" width="5.8" height="5.8" fill="#515151"/><rect x="120.5" y="286.13" width="5.8" height="5.8" fill="#515151"/><rect x="123.95" y="285.89" width="5.8" height="5.8" fill="#515151"/><rect x="127.4" y="285.31" width="5.8" height="5.8" fill="#515151"/><rect x="130.85" y="284.16" width="5.8" height="5.8" fill="#515151"/><rect x="134.3" y="284.58" width="5.8" height="5.8" fill="#515151"/><rect x="137.75" y="283.96" width="5.8" height="5.8" fill="#515151"/><rect x="141.2" y="283.19" width="5.8" height="5.8" fill="#515151"/><rect x="144.65" y="282.45" width="5.8" height="5.8" fill="#515151"/><rect x="148.1" y="283.04" width="5.8" height="5.8" fill="#515151"/><rect x="151.55" y="282.29" width="5.8" height="5.8" fill="#515151"/><rect x="155" y="282.31" width="5.8" height="5.8" fill="#515151"/><rect x="158.45" y="282.22" width="5.8" height="5.8" fill="#515151"/><rect x="161.9" y="281.75" width="5.8" height="5.8" fill="#515151"/><rect x="165.35" y="281.72" width="5.8" height="5.8" fill="#515151"/><rect x="168.8" y="280.81" width="5.8" height="5.8" fill="#515151"/><rect x="172.25" y="281.02" width="5.8" height="5.8" fill="#515151"/><rect x="175.7" y="280.31" width="5.8" height="5.8" fill="#515151"/><rect x="179.15" y="280.62" width="5.8" height="5.8" fill="#515151"/><rect x="182.6" y="280.37" width="5.8" height="5.8" fill="#515151"/><rect x="186.05" y="279.26" width="5.8" height="5.8" fill="#515151"/><rect x="189.5" y="279.12" width="5.8" height="5.8" fill="#515151"/><rect x="192.95" y="279.04" width="5.8" height="5.8" fill="#515151"/><rect x="196.4" y="279.76" width="5.8" height="5.8" fill="#515151"/><rect x="199.85" y="278.94" width="5.8" height="5.8" fill="#515151"/><rect x="203.3" y="278.99" width="5.8" height="5.8" fill="#515151"/><rect x="206.75" y="278.42" width="5.8" height="5.8" fill="#515151"/><rect x="210.2" y="278.49" width="5.8" height="5.8" fill="#515151"/><rect x="213.65" y="278.16" width="5.8" height="5.8" fill="#515151"/><rect x="217.1" y="277.94" width="5.8" height="5.8" fill="#515151"/><rect x="220.55" y="278.04" width="5.8" height="5.8" fill="#515151"/><rect x="224" y="277.86" width="5.8" height="5.8" fill="#515151"/><rect x="227.45" y="278.07" width="5.8" height="5.8" fill="#515151"/><rect x="230.9" y="277.62" width="5.8" height="5.8" fill="#515151"/>
<circle cx="61.3" cy="260.43" r="2.8" fill="#F14040"/><circle cx="63.02" cy="256.36" r="2.8" fill="#F14040"/><circle cx="64.75" cy="253.29" r="2.8" fill="#F14040"/><circle cx="66.47" cy="251.82" r="2.8" fill="#F14040"/><circle cx="68.2" cy="250.16" r="2.8" fill="#F14040"/><circle cx="69.92" cy="250.26" r="2.8" fill="#F14040"/><circle cx="71.65" cy="249.76" r="2.8" fill="#F14040"/><circle cx="73.38" cy="249.45" r="2.8" fill="#F14040"/><circle cx="75.1" cy="248.87" r="2.8" fill="#F14040"/><circle cx="76.82" cy="248.76" r="2.8" fill="#F14040"/><circle cx="78.55" cy="248.01" r="2.8" fill="#F14040"/><circle cx="80.27" cy="248.38" r="2.8" fill="#F14040"/><circle cx="82" cy="247.87" r="2.8" fill="#F14040"/><circle cx="83.72" cy="247.47" r="2.8" fill="#F14040"/><circle cx="85.45" cy="247.14" r="2.8" fill="#F14040"/><circle cx="87.17" cy="247.82" r="2.8" fill="#F14040"/><circle cx="88.9" cy="247.85" r="2.8" fill="#F14040"/><circle cx="90.62" cy="246.83" r="2.8" fill="#F14040"/><circle cx="92.35" cy="247.43" r="2.8" fill="#F14040"/><circle cx="94.07" cy="246.93" r="2.8" fill="#F14040"/><circle cx="95.8" cy="246.56" r="2.8" fill="#F14040"/><circle cx="97.52" cy="246.59" r="2.8" fill="#F14040"/><circle cx="99.25" cy="247.02" r="2.8" fill="#F14040"/><circle cx="100.97" cy="247.08" r="2.8" fill="#F14040"/><circle cx="102.7" cy="246.21" r="2.8" fill="#F14040"/><circle cx="104.42" cy="246.73" r="2.8" fill="#F14040"/><circle cx="106.15" cy="246.11" r="2.8" fill="#F14040"/><circle cx="107.88" cy="246.74" r="2.8" fill="#F14040"/><circle cx="109.6" cy="246.31" r="2.8" fill="#F14040"/><circle cx="111.32" cy="246.81" r="2.8" fill="#F14040"/><circle cx="113.05" cy="246.87" r="2.8" fill="#F14040"/><circle cx="114.77" cy="246.34" r="2.8" fill="#F14040"/><circle cx="116.5" cy="246.79" r="2.8" fill="#F14040"/><circle cx="118.22" cy="246.06" r="2.8" fill="#F14040"/><circle cx="119.95" cy="245.78" r="2.8" fill="#F14040"/><circle cx="121.67" cy="246.2" r="2.8" fill="#F14040"/><circle cx="123.4" cy="245.52" r="2.8" fill="#F14040"/><circle cx="125.12" cy="245.59" r="2.8" fill="#F14040"/><circle cx="126.85" cy="245.69" r="2.8" fill="#F14040"/><circle cx="128.57" cy="245.79" r="2.8" fill="#F14040"/><circle cx="130.3" cy="245.24" r="2.8" fill="#F14040"/><circle cx="132.02" cy="245.02" r="2.8" fill="#F14040"/><circle cx="133.75" cy="245.74" r="2.8" fill="#F14040"/><circle cx="135.47" cy="245.08" r="2.8" fill="#F14040"/><circle cx="137.2" cy="245.62" r="2.8" fill="#F14040"/><circle cx="138.93" cy="245.46" r="2.8" fill="#F14040"/><circle cx="140.65" cy="244.86" r="2.8" fill="#F14040"/><circle cx="142.38" cy="244.88" r="2.8" fill="#F14040"/><circle cx="144.1" cy="244.89" r="2.8" fill="#F14040"/><circle cx="145.82" cy="244.95" r="2.8" fill="#F14040"/><circle cx="147.55" cy="244.85" r="2.8" fill="#F14040"/><circle cx="149.27" cy="244.76" r="2.8" fill="#F14040"/><circle cx="151" cy="244.76" r="2.8" fill="#F14040"/><circle cx="152.72" cy="245.03" r="2.8" fill="#F14040"/><circle cx="154.45" cy="244.54" r="2.8" fill="#F14040"/><circle cx="156.17" cy="244.41" r="2.8" fill="#F14040"/><circle cx="157.9" cy="244.64" r="2.8" fill="#F14040"/><circle cx="159.62" cy="244.1" r="2.8" fill="#F14040"/><circle cx="161.35" cy="244.11" r="2.8" fill="#F14040"/><circle cx="163.07" cy="244.73" r="2.8" fill="#F14040"/><circle cx="164.8" cy="244.22" r="2.8" fill="#F14040"/><circle cx="166.52" cy="244.22" r="2.8" fill="#F14040"/><circle cx="168.25" cy="243.65" r="2.8" fill="#F14040"/><circle cx="169.97" cy="244.03" r="2.8" fill="#F14040"/><circle cx="171.7" cy="244.16" r="2.8" fill="#F14040"/><circle cx="173.42" cy="243.57" r="2.8" fill="#F14040"/><circle cx="175.15" cy="244.14" r="2.8" fill="#F14040"/><circle cx="176.88" cy="244.12" r="2.8" fill="#F14040"/><circle cx="178.6" cy="243.52" r="2.8" fill="#F14040"/><circle cx="180.32" cy="244.06" r="2.8" fill="#F14040"/><circle cx="182.05" cy="243.87" r="2.8" fill="#F14040"/><circle cx="183.77" cy="244.05" r="2.8" fill="#F14040"/><circle cx="185.5" cy="243.69" r="2.8" fill="#F14040"/><circle cx="187.22" cy="244.02" r="2.8" fill="#F14040"/><circle cx="188.95" cy="244.02" r="2.8" fill="#F14040"/><circle cx="190.68" cy="243.27" r="2.8" fill="#F14040"/><circle cx="192.4" cy="243.28" r="2.8" fill="#F14040"/><circle cx="194.12" cy="243.87" r="2.8" fill="#F14040"/><circle cx="195.85" cy="244.12" r="2.8" fill="#F14040"/><circle cx="197.57" cy="243.38" r="2.8" fill="#F14040"/><circle cx="199.3" cy="243.56" r="2.8" fill="#F14040"/><circle cx="201.02" cy="243.66" r="2.8" fill="#F14040"/><circle cx="202.75" cy="243.36" r="2.8" fill="#F14040"/><circle cx="204.47" cy="243.37" r="2.8" fill="#F14040"/><circle cx="206.2" cy="243.29" r="2.8" fill="#F14040"/><circle cx="207.93" cy="243.32" r="2.8" fill="#F14040"/><circle cx="209.65" cy="243.52" r="2.8" fill="#F14040"/><circle cx="211.38" cy="243.19" r="2.8" fill="#F14040"/><circle cx="213.1" cy="243.24" r="2.8" fill="#F14040"/><circle cx="214.82" cy="243.6" r="2.8" fill="#F14040"/><circle cx="216.55" cy="242.83" r="2.8" fill="#F14040"/><circle cx="218.27" cy="243.34" r="2.8" fill="#F14040"/><circle cx="220" cy="243.48" r="2.8" fill="#F14040"/><circle cx="221.72" cy="243.02" r="2.8" fill="#F14040"/><circle cx="223.45" cy="242.9" r="2.8" fill="#F14040"/><circle cx="225.18" cy="243.45" r="2.8" fill="#F14040"/><circle cx="226.9" cy="242.86" r="2.8" fill="#F14040"/><circle cx="228.62" cy="242.78" r="2.8" fill="#F14040"/><circle cx="230.35" cy="243" r="2.8" fill="#F14040"/><circle cx="232.07" cy="243.23" r="2.8" fill="#F14040"/><circle cx="233.8" cy="242.6" r="2.8" fill="#F14040"/>
<rect x="44.5" y="228.7" width="207.2" height="166.3" fill="none" stroke="#000" stroke-width="1.4"/>
<path d="M61.3 395v-3.5M61.3 228.7v3.5M95.8 395v-3.5M95.8 228.7v3.5M130.3 395v-3.5M130.3 228.7v3.5M164.8 395v-3.5M164.8 228.7v3.5M199.3 395v-3.5M199.3 228.7v3.5M233.8 395v-3.5M233.8 228.7v3.5" stroke="#000" stroke-width="1.1" fill="none"/>
<path d="M78.55 395v-2M78.55 228.7v2M113.05 395v-2M113.05 228.7v2M147.55 395v-2M147.55 228.7v2M182.05 395v-2M182.05 228.7v2M216.55 395v-2M216.55 228.7v2M251.05 395v-2M251.05 228.7v2" stroke="#000" stroke-width="1.1" fill="none"/>
<path d="M44.5 228.7h3.5M251.7 228.7h-3.5M44.5 284.13h3.5M251.7 284.13h-3.5M44.5 339.56h3.5M251.7 339.56h-3.5M44.5 394.99h3.5M251.7 394.99h-3.5" stroke="#000" stroke-width="1.1" fill="none"/>
<path d="M44.5 378.3h2M251.7 378.3h-2M44.5 368.54h2M251.7 368.54h-2M44.5 361.62h2M251.7 361.62h-2M44.5 356.25h2M251.7 356.25h-2M44.5 351.86h2M251.7 351.86h-2M44.5 348.15h2M251.7 348.15h-2M44.5 344.93h2M251.7 344.93h-2M44.5 342.1h2M251.7 342.1h-2M44.5 322.87h2M251.7 322.87h-2M44.5 313.11h2M251.7 313.11h-2M44.5 306.19h2M251.7 306.19h-2M44.5 300.82h2M251.7 300.82h-2M44.5 296.43h2M251.7 296.43h-2M44.5 292.72h2M251.7 292.72h-2M44.5 289.5h2M251.7 289.5h-2M44.5 286.67h2M251.7 286.67h-2M44.5 267.44h2M251.7 267.44h-2M44.5 257.68h2M251.7 257.68h-2M44.5 250.76h2M251.7 250.76h-2M44.5 245.39h2M251.7 245.39h-2M44.5 241h2M251.7 241h-2M44.5 237.29h2M251.7 237.29h-2M44.5 234.07h2M251.7 234.07h-2M44.5 231.24h2M251.7 231.24h-2" stroke="#000" stroke-width="0.9" fill="none"/>
<text x="41.5" y="232.7" font-size="10.5" text-anchor="end" font-weight="bold" font-family='"Liberation Sans", sans-serif'>10<tspan font-size="7.14" dy="-3.78">-5</tspan></text>
<text x="41.5" y="288.13" font-size="10.5" text-anchor="end" font-weight="bold" font-family='"Liberation Sans", sans-serif'>10<tspan font-size="7.14" dy="-3.78">-6</tspan></text>
<text x="41.5" y="343.56" font-size="10.5" text-anchor="end" font-weight="bold" font-family='"Liberation Sans", sans-serif'>10<tspan font-size="7.14" dy="-3.78">-7</tspan></text>
<text x="41.5" y="398.99" font-size="10.5" text-anchor="end" font-weight="bold" font-family='"Liberation Sans", sans-serif'>10<tspan font-size="7.14" dy="-3.78">-8</tspan></text>
<text x="61.5" y="407" font-size="10.5" text-anchor="middle" fill="#000" font-weight="bold" font-family='"Liberation Sans", sans-serif' letter-spacing="0.4">0</text>
<text x="96" y="407" font-size="10.5" text-anchor="middle" fill="#000" font-weight="bold" font-family='"Liberation Sans", sans-serif' letter-spacing="0.4">100</text>
<text x="130.5" y="407" font-size="10.5" text-anchor="middle" fill="#000" font-weight="bold" font-family='"Liberation Sans", sans-serif' letter-spacing="0.4">200</text>
<text x="165" y="407" font-size="10.5" text-anchor="middle" fill="#000" font-weight="bold" font-family='"Liberation Sans", sans-serif' letter-spacing="0.4">300</text>
<text x="199.5" y="407" font-size="10.5" text-anchor="middle" fill="#000" font-weight="bold" font-family='"Liberation Sans", sans-serif' letter-spacing="0.4">400</text>
<text x="234" y="407" font-size="10.5" text-anchor="middle" fill="#000" font-weight="bold" font-family='"Liberation Sans", sans-serif' letter-spacing="0.4">500</text>
<text x="147.7" y="423" font-size="13.6" text-anchor="middle" fill="#000" font-weight="bold" font-family='"Liberation Sans", sans-serif' letter-spacing="0.35">Cycle No.</text>
<text transform="translate(16.8,307.8) rotate(-90)" font-size="14" letter-spacing="0.25" text-anchor="middle" font-weight="bold" font-family='"Liberation Sans", sans-serif'>Current (A)</text>
<path d="M59.4 344.4L59.4 269.6" stroke="#000" stroke-width="1.2"/>
<path d="M59.4 264L63 272L59.4 270L55.8 272Z" fill="#000"/>
<path d="M59.4 350L55.8 342L59.4 344L63 342Z" fill="#000"/>
<text x="62" y="292.5" font-size="12" text-anchor="start" fill="#000" font-weight="bold" font-family='"Liberation Sans", sans-serif' ><tspan font-weight="normal">×</tspan> 50</text>
<path d="M235.6 272.25L235.6 251.15" stroke="#000" stroke-width="1.2"/>
<path d="M235.6 246.6L238.9 253.1L235.6 251.47L232.3 253.1Z" fill="#000"/>
<path d="M235.6 276.8L232.3 270.3L235.6 271.93L238.9 270.3Z" fill="#000"/>
<text x="216" y="266.5" font-size="12" text-anchor="start" fill="#000" font-weight="bold" font-family='"Liberation Sans", sans-serif' ><tspan font-weight="normal">×</tspan> 5</text>
<path d="M175.6 341.3H202.3" stroke="#515151" stroke-width="1"/>
<rect x="185.6" y="338.3" width="6" height="6" fill="#515151"/>
<text x="205.5" y="345.6" font-size="12" text-anchor="start" fill="#000" font-weight="bold" font-family='"Liberation Sans", sans-serif' >HRS</text>
<path d="M175.6 356.2H202.3" stroke="#F14040" stroke-width="1"/>
<circle cx="188.6" cy="356.2" r="3" fill="#F14040"/>
<text x="205.5" y="360.5" font-size="12" text-anchor="start" fill="#000" font-weight="bold" font-family='"Liberation Sans", sans-serif' >LRS</text>
<text x="164" y="387" font-size="12" font-weight="bold" font-family='"Liberation Sans", sans-serif'>V<tspan font-size="8.5" dy="3">read</tspan><tspan dy="-3"> = – 0.1 V</tspan></text>
<text x="264.5" y="220.5" font-size="13" text-anchor="start" fill="#000" font-weight="bold" font-family='"Liberation Serif", serif' >(d)</text>
<clipPath id="cd"><rect x="304.4" y="229" width="205.6" height="166.3"/></clipPath><g clip-path="url(#cd)">
<path d="M321.71 363.5 L321.88 361.14 L322.05 358.66 L322.22 356.13 L322.39 353.59 L322.57 351.1 L322.74 348.72 L322.91 346.51 L323.08 344.52 L323.25 342.8 L323.43 341.35 L323.6 340 L323.77 338.75 L323.94 337.59 L324.11 336.51 L324.29 335.51 L324.46 334.57 L324.63 333.69 L324.8 332.85 L324.97 332.06 L325.15 331.3 L325.32 330.57 L325.49 329.85 L325.66 329.14 L325.83 328.44 L326.01 327.76 L326.18 327.11 L326.35 326.47 L326.52 325.86 L326.69 325.26 L326.87 324.69 L327.04 324.14 L327.21 323.6 L327.38 323.08 L327.55 322.58 L327.73 322.1 L327.9 321.63 L328.07 321.18 L328.24 320.75 L328.41 320.33 L328.59 319.92 L328.76 319.53 L328.93 319.15 L329.1 318.78 L329.27 318.42 L329.45 318.08 L329.62 317.74 L329.79 317.41 L329.96 317.1 L330.13 316.79 L330.31 316.48 L330.48 316.19 L330.65 315.91 L330.82 315.63 L330.99 315.35 L331.17 315.09 L331.34 314.83 L331.51 314.58 L331.68 314.33 L331.85 314.09 L332.03 313.85 L332.2 313.62 L332.37 313.39 L332.54 313.16 L332.71 312.94 L332.89 312.72 L333.06 312.51 L333.23 312.29 L333.4 312.08 L333.57 311.87 L333.75 311.67 L333.92 311.46 L334.09 311.25 L334.26 311.05 L334.43 310.86 L334.61 310.66 L334.78 310.47 L334.95 310.28 L335.12 310.1 L335.29 309.92 L335.47 309.74 L335.64 309.56 L335.81 309.39 L335.98 309.21 L336.15 309.04 L336.33 308.88 L336.5 308.71 L336.67 308.55 L336.84 308.39 L337.01 308.23 L337.19 308.07 L337.36 307.91 L337.53 307.76 L337.7 307.6 L337.87 307.45 L338.05 307.3 L338.22 307.15 L338.39 307 L338.56 306.86 L338.73 306.71 L338.91 306.56 L339.08 306.42 L339.25 306.27 L339.42 306.13 L339.59 305.99 L339.77 305.84 L339.94 305.7 L340.11 305.56 L340.28 305.41 L340.45 305.27 L340.63 305.13 L340.8 304.99 L340.97 304.85 L341.14 304.71 L341.31 304.57 L341.49 304.44 L341.66 304.3 L341.83 304.17 L342 304.04 L342.17 303.91 L343.89 302.68 L345.61 301.58 L347.33 300.6 L349.05 299.63 L350.77 298.68 L352.49 297.76 L354.21 296.9 L355.93 296.09 L357.65 295.37 L359.37 294.75 L361.09 294.2 L362.81 293.71 L364.53 293.27 L366.25 292.88 L367.97 292.52 L369.69 292.2 L371.41 291.89 L373.13 291.59 L374.85 291.31 L376.57 291.04 L378.29 290.79 L380.01 290.55 L381.73 290.32 L383.45 290.1 L385.17 289.89 L386.89 289.69 L388.61 289.5 L390.33 289.31 L392.05 289.12 L393.77 288.94 L395.49 288.76 L397.21 288.58 L398.93 288.41 L400.65 288.23 L402.37 288.06 L404.09 287.89 L405.81 287.73 L407.53 287.56 L409.25 287.41 L410.97 287.25 L412.69 287.1 L414.41 286.96 L416.13 286.82 L417.85 286.68 L419.57 286.55 L421.29 286.43 L423.01 286.31 L424.73 286.2 L426.45 286.09 L428.17 285.98 L429.89 285.88 L431.61 285.78 L433.33 285.68 L435.05 285.58 L436.77 285.48 L438.49 285.38 L440.21 285.29 L441.93 285.19 L443.65 285.1 L445.37 285.01 L447.09 284.92 L448.81 284.83 L450.53 284.74 L452.25 284.65 L453.97 284.56 L455.69 284.48 L457.41 284.39 L459.13 284.31 L460.85 284.22 L462.57 284.14 L464.29 284.05 L466.01 283.97 L467.73 283.88 L469.45 283.8 L471.17 283.72 L472.89 283.63 L474.61 283.55 L476.33 283.46 L478.05 283.38 L479.77 283.29 L481.49 283.21 L483.21 283.12 L484.93 283.04 L486.65 282.95 L488.37 282.86 L490.09 282.78 L491.81 282.69" fill="none" stroke="#000" stroke-width="1.2" stroke-linejoin="round"/>
<path d="M321.67 260.5 L321.84 259.99 L322.02 259.46 L322.19 258.92 L322.36 258.38 L322.53 257.86 L322.7 257.34 L322.88 256.86 L323.05 256.41 L323.22 256 L323.39 255.62 L323.56 255.24 L323.74 254.87 L323.91 254.52 L324.08 254.18 L324.25 253.86 L324.42 253.56 L324.6 253.29 L324.77 253.05 L324.94 252.85 L325.11 252.68 L325.28 252.55 L325.46 252.43 L325.63 252.32 L325.8 252.22 L325.97 252.12 L326.14 252.03 L326.32 251.94 L326.49 251.86 L326.66 251.78 L326.83 251.71 L327 251.64 L327.18 251.57 L327.35 251.51 L327.52 251.45 L327.69 251.4 L327.86 251.35 L328.04 251.3 L328.21 251.25 L328.38 251.2 L328.55 251.16 L328.72 251.12 L328.9 251.07 L329.07 251.03 L329.24 250.99 L329.41 250.95 L329.58 250.91 L329.76 250.87 L329.93 250.83 L330.1 250.79 L330.27 250.74 L330.44 250.7 L330.62 250.65 L330.79 250.6 L330.96 250.55 L331.13 250.5 L331.3 250.45 L331.48 250.4 L331.65 250.35 L331.82 250.3 L331.99 250.25 L332.16 250.2 L332.34 250.15 L332.51 250.1 L332.68 250.05 L332.85 250 L333.02 249.95 L333.2 249.91 L333.37 249.86 L333.54 249.81 L333.71 249.76 L333.88 249.72 L334.06 249.67 L334.23 249.63 L334.4 249.58 L334.57 249.54 L334.74 249.49 L334.92 249.45 L335.09 249.41 L335.26 249.37 L335.43 249.33 L335.6 249.29 L335.78 249.25 L335.95 249.21 L336.12 249.17 L336.29 249.13 L336.46 249.1 L336.64 249.06 L336.81 249.03 L336.98 249 L337.15 248.97 L337.32 248.94 L337.5 248.91 L337.67 248.88 L337.84 248.85 L338.01 248.82 L338.18 248.8 L338.36 248.78 L338.53 248.75 L338.7 248.73 L338.87 248.71 L339.04 248.68 L339.22 248.66 L339.39 248.64 L339.56 248.62 L339.73 248.6 L339.9 248.58 L340.08 248.56 L340.25 248.54 L340.42 248.52 L340.59 248.5 L340.76 248.48 L340.94 248.46 L341.11 248.45 L341.28 248.43 L341.45 248.41 L341.62 248.4 L341.8 248.38 L341.97 248.36 L342.14 248.35 L343.86 248.2 L345.58 248.07 L347.3 247.95 L349.02 247.83 L350.74 247.71 L352.46 247.57 L354.18 247.42 L355.9 247.27 L357.62 247.11 L359.34 246.97 L361.06 246.83 L362.78 246.71 L364.5 246.62 L366.22 246.54 L367.94 246.47 L369.66 246.41 L371.38 246.35 L373.1 246.29 L374.82 246.24 L376.54 246.19 L378.26 246.15 L379.98 246.11 L381.7 246.07 L383.42 246.03 L385.14 246 L386.86 245.96 L388.58 245.93 L390.3 245.9 L392.02 245.87 L393.74 245.84 L395.46 245.81 L397.18 245.78 L398.9 245.76 L400.62 245.73 L402.34 245.7 L404.06 245.68 L405.78 245.66 L407.5 245.63 L409.22 245.61 L410.94 245.59 L412.66 245.56 L414.38 245.54 L416.1 245.52 L417.82 245.5 L419.54 245.48 L421.26 245.46 L422.98 245.44 L424.7 245.42 L426.42 245.4 L428.14 245.37 L429.86 245.35 L431.58 245.33 L433.3 245.31 L435.02 245.29 L436.74 245.27 L438.46 245.25 L440.18 245.22 L441.9 245.2 L443.62 245.18 L445.34 245.15 L447.06 245.13 L448.78 245.11 L450.5 245.08 L452.22 245.06 L453.94 245.04 L455.66 245.01 L457.38 244.99 L459.1 244.97 L460.82 244.94 L462.54 244.92 L464.26 244.9 L465.98 244.87 L467.7 244.85 L469.42 244.83 L471.14 244.8 L472.86 244.78 L474.58 244.76 L476.3 244.73 L478.02 244.71 L479.74 244.69 L481.46 244.66 L483.18 244.64 L484.9 244.62 L486.62 244.59 L488.34 244.57 L490.06 244.55 L491.78 244.52 L493.5 244.5" fill="none" stroke="#000" stroke-width="1.2" stroke-linejoin="round"/>
<path d="M321.71 361.7 L321.88 359.33 L322.05 356.83 L322.22 354.28 L322.39 351.72 L322.57 349.21 L322.74 346.82 L322.91 344.6 L323.08 342.6 L323.25 340.9 L323.43 339.46 L323.6 338.14 L323.77 336.92 L323.94 335.8 L324.11 334.76 L324.29 333.79 L324.46 332.9 L324.63 332.06 L324.8 331.27 L324.97 330.52 L325.15 329.8 L325.32 329.1 L325.49 328.42 L325.66 327.74 L325.83 327.06 L326.01 326.4 L326.18 325.77 L326.35 325.16 L326.52 324.56 L326.69 323.99 L326.87 323.43 L327.04 322.89 L327.21 322.37 L327.38 321.87 L327.55 321.39 L327.73 320.92 L327.9 320.46 L328.07 320.03 L328.24 319.6 L328.41 319.19 L328.59 318.8 L328.76 318.41 L328.93 318.04 L329.1 317.69 L329.27 317.34 L329.45 317 L329.62 316.67 L329.79 316.35 L329.96 316.03 L330.13 315.73 L330.31 315.43 L330.48 315.14 L330.65 314.86 L330.82 314.58 L330.99 314.31 L331.17 314.05 L331.34 313.79 L331.51 313.54 L331.68 313.3 L331.85 313.05 L332.03 312.82 L332.2 312.59 L332.37 312.36 L332.54 312.14 L332.71 311.92 L332.89 311.7 L333.06 311.49 L333.23 311.28 L333.4 311.07 L333.57 310.87 L333.75 310.66 L333.92 310.46 L334.09 310.26 L334.26 310.06 L334.43 309.87 L334.61 309.68 L334.78 309.5 L334.95 309.31 L335.12 309.13 L335.29 308.96 L335.47 308.78 L335.64 308.61 L335.81 308.44 L335.98 308.28 L336.15 308.11 L336.33 307.95 L336.5 307.79 L336.67 307.63 L336.84 307.48 L337.01 307.32 L337.19 307.17 L337.36 307.02 L337.53 306.87 L337.7 306.72 L337.87 306.58 L338.05 306.43 L338.22 306.29 L338.39 306.15 L338.56 306 L338.73 305.86 L338.91 305.72 L339.08 305.58 L339.25 305.44 L339.42 305.3 L339.59 305.16 L339.77 305.03 L339.94 304.89 L340.11 304.75 L340.28 304.61 L340.45 304.47 L340.63 304.33 L340.8 304.2 L340.97 304.06 L341.14 303.93 L341.31 303.79 L341.49 303.66 L341.66 303.53 L341.83 303.4 L342 303.27 L342.17 303.14 L343.89 301.94 L345.61 300.87 L347.33 299.91 L349.05 298.98 L350.77 298.06 L352.49 297.17 L354.21 296.33 L355.93 295.56 L357.65 294.86 L359.37 294.26 L361.09 293.72 L362.81 293.25 L364.53 292.82 L366.25 292.44 L367.97 292.1 L369.69 291.78 L371.41 291.48 L373.13 291.19 L374.85 290.92 L376.57 290.66 L378.29 290.42 L380.01 290.18 L381.73 289.96 L383.45 289.75 L385.17 289.55 L386.89 289.36 L388.61 289.17 L390.33 288.99 L392.05 288.81 L393.77 288.64 L395.49 288.46 L397.21 288.29 L398.93 288.12 L400.65 287.96 L402.37 287.8 L404.09 287.64 L405.81 287.49 L407.53 287.34 L409.25 287.19 L410.97 287.05 L412.69 286.91 L414.41 286.77 L416.13 286.63 L417.85 286.5 L419.57 286.37 L421.29 286.24 L423.01 286.12 L424.73 286 L426.45 285.88 L428.17 285.77 L429.89 285.67 L431.61 285.57 L433.33 285.48 L435.05 285.39 L436.77 285.3 L438.49 285.21 L440.21 285.13 L441.93 285.04 L443.65 284.96 L445.37 284.87 L447.09 284.78 L448.81 284.69 L450.53 284.6 L452.25 284.5 L453.97 284.39 L455.69 284.29 L457.41 284.19 L459.13 284.08 L460.85 283.97 L462.57 283.87 L464.29 283.76 L466.01 283.65 L467.73 283.54 L469.45 283.43 L471.17 283.32 L472.89 283.22 L474.61 283.11 L476.33 283 L478.05 282.89 L479.77 282.77 L481.49 282.66 L483.21 282.55 L484.93 282.44 L486.65 282.33 L488.37 282.22 L490.09 282.12 L491.81 282.01" fill="none" stroke="#F14040" stroke-width="1.5" stroke-linejoin="round"/>
<path d="M321.67 260 L321.84 259.49 L322.02 258.96 L322.19 258.42 L322.36 257.88 L322.53 257.35 L322.7 256.84 L322.88 256.35 L323.05 255.9 L323.22 255.5 L323.39 255.12 L323.56 254.75 L323.74 254.4 L323.91 254.05 L324.08 253.72 L324.25 253.41 L324.42 253.13 L324.6 252.87 L324.77 252.64 L324.94 252.44 L325.11 252.28 L325.28 252.15 L325.46 252.04 L325.63 251.94 L325.8 251.84 L325.97 251.74 L326.14 251.65 L326.32 251.57 L326.49 251.49 L326.66 251.42 L326.83 251.35 L327 251.28 L327.18 251.22 L327.35 251.16 L327.52 251.11 L327.69 251.06 L327.86 251.01 L328.04 250.96 L328.21 250.92 L328.38 250.87 L328.55 250.83 L328.72 250.79 L328.9 250.75 L329.07 250.71 L329.24 250.68 L329.41 250.64 L329.58 250.6 L329.76 250.56 L329.93 250.52 L330.1 250.48 L330.27 250.44 L330.44 250.39 L330.62 250.35 L330.79 250.3 L330.96 250.25 L331.13 250.2 L331.3 250.15 L331.48 250.1 L331.65 250.05 L331.82 250 L331.99 249.95 L332.16 249.9 L332.34 249.85 L332.51 249.8 L332.68 249.76 L332.85 249.71 L333.02 249.66 L333.2 249.61 L333.37 249.56 L333.54 249.51 L333.71 249.47 L333.88 249.42 L334.06 249.37 L334.23 249.33 L334.4 249.28 L334.57 249.24 L334.74 249.19 L334.92 249.15 L335.09 249.1 L335.26 249.06 L335.43 249.02 L335.6 248.98 L335.78 248.94 L335.95 248.9 L336.12 248.86 L336.29 248.83 L336.46 248.79 L336.64 248.76 L336.81 248.72 L336.98 248.69 L337.15 248.66 L337.32 248.63 L337.5 248.6 L337.67 248.57 L337.84 248.55 L338.01 248.52 L338.18 248.5 L338.36 248.48 L338.53 248.46 L338.7 248.43 L338.87 248.41 L339.04 248.39 L339.22 248.37 L339.39 248.35 L339.56 248.33 L339.73 248.32 L339.9 248.3 L340.08 248.28 L340.25 248.26 L340.42 248.25 L340.59 248.23 L340.76 248.21 L340.94 248.2 L341.11 248.18 L341.28 248.17 L341.45 248.15 L341.62 248.14 L341.8 248.12 L341.97 248.11 L342.14 248.09 L343.86 247.97 L345.58 247.87 L347.3 247.78 L349.02 247.69 L350.74 247.59 L352.46 247.48 L354.18 247.35 L355.9 247.21 L357.62 247.07 L359.34 246.94 L361.06 246.81 L362.78 246.7 L364.5 246.61 L366.22 246.54 L367.94 246.48 L369.66 246.41 L371.38 246.36 L373.1 246.3 L374.82 246.25 L376.54 246.2 L378.26 246.16 L379.98 246.11 L381.7 246.07 L383.42 246.03 L385.14 246 L386.86 245.96 L388.58 245.93 L390.3 245.9 L392.02 245.87 L393.74 245.84 L395.46 245.82 L397.18 245.79 L398.9 245.77 L400.62 245.75 L402.34 245.73 L404.06 245.71 L405.78 245.7 L407.5 245.68 L409.22 245.66 L410.94 245.65 L412.66 245.63 L414.38 245.61 L416.1 245.6 L417.82 245.58 L419.54 245.56 L421.26 245.54 L422.98 245.52 L424.7 245.5 L426.42 245.48 L428.14 245.46 L429.86 245.43 L431.58 245.4 L433.3 245.37 L435.02 245.34 L436.74 245.31 L438.46 245.27 L440.18 245.24 L441.9 245.21 L443.62 245.17 L445.34 245.14 L447.06 245.11 L448.78 245.07 L450.5 245.04 L452.22 245 L453.94 244.96 L455.66 244.93 L457.38 244.89 L459.1 244.85 L460.82 244.82 L462.54 244.78 L464.26 244.74 L465.98 244.7 L467.7 244.66 L469.42 244.63 L471.14 244.59 L472.86 244.55 L474.58 244.51 L476.3 244.47 L478.02 244.44 L479.74 244.4 L481.46 244.36 L483.18 244.32 L484.9 244.28 L486.62 244.25 L488.34 244.21 L490.06 244.17 L491.78 244.14 L493.5 244.1" fill="none" stroke="#F14040" stroke-width="1.5" stroke-linejoin="round"/>
<path d="M321.57 396 L321.74 393.64 L321.91 391.32 L322.08 388.97 L322.26 386.53 L322.43 383.94 L322.6 381.16 L322.77 378.27 L322.94 375.38 L323.12 372.59 L323.29 370 L323.46 367.49 L323.63 364.92 L323.8 362.32 L323.98 359.76 L324.15 357.28 L324.32 354.94 L324.49 352.78 L324.66 350.87 L324.84 349.25 L325.01 347.93 L325.18 346.69 L325.35 345.53 L325.52 344.43 L325.7 343.38 L325.87 342.4 L326.04 341.46 L326.21 340.58 L326.38 339.73 L326.56 338.93 L326.73 338.17 L326.9 337.43 L327.07 336.73 L327.24 336.04 L327.42 335.38 L327.59 334.74 L327.76 334.11 L327.93 333.49 L328.1 332.87 L328.28 332.26 L328.45 331.66 L328.62 331.09 L328.79 330.54 L328.96 330 L329.14 329.49 L329.31 329 L329.48 328.52 L329.65 328.07 L329.82 327.62 L330 327.2 L330.17 326.78 L330.34 326.38 L330.51 325.99 L330.68 325.62 L330.86 325.25 L331.03 324.89 L331.2 324.54 L331.37 324.2 L331.54 323.87 L331.72 323.54 L331.89 323.21 L332.06 322.89 L332.23 322.57 L332.4 322.26 L332.58 321.96 L332.75 321.66 L332.92 321.36 L333.09 321.08 L333.26 320.8 L333.44 320.52 L333.61 320.25 L333.78 319.98 L333.95 319.72 L334.12 319.46 L334.3 319.21 L334.47 318.96 L334.64 318.72 L334.81 318.48 L334.98 318.24 L335.16 318.01 L335.33 317.78 L335.5 317.55 L335.67 317.33 L335.84 317.11 L336.02 316.89 L336.19 316.67 L336.36 316.46 L336.53 316.25 L336.7 316.04 L336.88 315.83 L337.05 315.62 L337.22 315.41 L337.39 315.21 L337.56 315.01 L337.74 314.8 L337.91 314.6 L338.08 314.4 L338.25 314.2 L338.42 314 L338.6 313.8 L338.77 313.61 L338.94 313.42 L339.11 313.22 L339.28 313.03 L339.46 312.84 L339.63 312.66 L339.8 312.47 L339.97 312.29 L340.14 312.1 L340.32 311.92 L340.49 311.74 L340.66 311.56 L340.83 311.38 L341 311.2 L341.18 311.03 L341.35 310.85 L341.52 310.68 L341.69 310.51 L341.86 310.34 L342.04 310.17 L342.21 310 L343.93 308.34 L345.65 306.75 L347.37 305.16 L349.09 303.53 L350.81 301.96 L352.53 300.51 L354.25 299.26 L355.97 298.29 L357.69 297.47 L359.41 296.73 L361.13 296.06 L362.85 295.44 L364.57 294.88 L366.29 294.36 L368.01 293.88 L369.73 293.43 L371.45 293 L373.17 292.58 L374.89 292.19 L376.61 291.82 L378.33 291.47 L380.05 291.15 L381.77 290.85 L383.49 290.57 L385.21 290.31 L386.93 290.06 L388.65 289.82 L390.37 289.59 L392.09 289.37 L393.81 289.16 L395.53 288.95 L397.25 288.74 L398.97 288.54 L400.69 288.35 L402.41 288.16 L404.13 287.97 L405.85 287.8 L407.57 287.62 L409.29 287.46 L411.01 287.3 L412.73 287.15 L414.45 287 L416.17 286.87 L417.89 286.74 L419.61 286.62 L421.33 286.5 L423.05 286.39 L424.77 286.3 L426.49 286.2 L428.21 286.11 L429.93 286.02 L431.65 285.94 L433.37 285.86 L435.09 285.78 L436.81 285.7 L438.53 285.62 L440.25 285.54 L441.97 285.47 L443.69 285.4 L445.41 285.33 L447.13 285.26 L448.85 285.19 L450.57 285.13 L452.29 285.06 L454.01 285 L455.73 284.94 L457.45 284.87 L459.17 284.81 L460.89 284.75 L462.61 284.69 L464.33 284.63 L466.05 284.57 L467.77 284.52 L469.49 284.46 L471.21 284.4 L472.93 284.34 L474.65 284.28 L476.37 284.22 L478.09 284.16 L479.81 284.1 L481.53 284.04 L483.25 283.98 L484.97 283.92 L486.69 283.86 L488.41 283.79 L490.13 283.73 L491.85 283.66" fill="none" stroke="#1A6FDF" stroke-width="1.6" stroke-linejoin="round"/>
<path d="M323.5 309 L323.67 299.83 L323.84 290 L324.01 277.23 L324.18 265.92 L324.36 259 L324.53 257.01 L324.7 255.96 L324.87 255.47 L325.04 255.16 L325.22 254.74 L325.39 254.34 L325.56 253.98 L325.73 253.66 L325.9 253.38 L326.08 253.12 L326.25 252.87 L326.42 252.64 L326.59 252.42 L326.76 252.19 L326.94 251.95 L327.11 251.7 L327.28 251.44 L327.45 251.17 L327.62 250.91 L327.8 250.65 L327.97 250.4 L328.14 250.15 L328.31 249.91 L328.48 249.68 L328.66 249.46 L328.83 249.26 L329 249.07 L329.17 248.9 L329.34 248.73 L329.52 248.57 L329.69 248.42 L329.86 248.27 L330.03 248.12 L330.2 247.99 L330.38 247.86 L330.55 247.74 L330.72 247.62 L330.89 247.51 L331.06 247.41 L331.24 247.32 L331.41 247.23 L331.58 247.16 L331.75 247.09 L331.92 247.02 L332.1 246.96 L332.27 246.89 L332.44 246.83 L332.61 246.77 L332.78 246.7 L332.96 246.64 L333.13 246.58 L333.3 246.52 L333.47 246.46 L333.64 246.4 L333.82 246.35 L333.99 246.29 L334.16 246.23 L334.33 246.18 L334.5 246.12 L334.68 246.07 L334.85 246.02 L335.02 245.97 L335.19 245.92 L335.36 245.87 L335.54 245.83 L335.71 245.78 L335.88 245.74 L336.05 245.69 L336.22 245.65 L336.4 245.61 L336.57 245.57 L336.74 245.53 L336.91 245.5 L337.08 245.47 L337.26 245.43 L337.43 245.4 L337.6 245.37 L337.77 245.35 L337.94 245.32 L338.12 245.3 L338.29 245.27 L338.46 245.25 L338.63 245.24 L338.8 245.22 L338.98 245.21 L339.15 245.19 L339.32 245.18 L339.49 245.17 L339.66 245.16 L339.84 245.14 L340.01 245.13 L340.18 245.12 L340.35 245.11 L340.52 245.1 L340.7 245.09 L340.87 245.08 L341.04 245.07 L341.21 245.06 L341.38 245.05 L341.56 245.04 L341.73 245.03 L341.9 245.02 L342.07 245.01 L342.24 245 L343.96 244.92 L345.68 244.85 L347.4 244.8 L349.12 244.76 L350.84 244.73 L352.56 244.71 L354.28 244.7 L356 244.69 L357.72 244.69 L359.44 244.69 L361.16 244.7 L362.88 244.7 L364.6 244.7 L366.32 244.7 L368.04 244.7 L369.76 244.71 L371.48 244.71 L373.2 244.72 L374.92 244.73 L376.64 244.74 L378.36 244.75 L380.08 244.76 L381.8 244.77 L383.52 244.78 L385.24 244.8 L386.96 244.81 L388.68 244.83 L390.4 244.85 L392.12 244.86 L393.84 244.88 L395.56 244.9 L397.28 244.92 L399 244.94 L400.72 244.96 L402.44 244.98 L404.16 244.99 L405.88 245.01 L407.6 245.03 L409.32 245.05 L411.04 245.07 L412.76 245.09 L414.48 245.11 L416.2 245.12 L417.92 245.14 L419.64 245.16 L421.36 245.17 L423.08 245.19 L424.8 245.2 L426.52 245.21 L428.24 245.23 L429.96 245.24 L431.68 245.25 L433.4 245.27 L435.12 245.28 L436.84 245.29 L438.56 245.31 L440.28 245.32 L442 245.33 L443.72 245.34 L445.44 245.36 L447.16 245.37 L448.88 245.38 L450.6 245.39 L452.32 245.41 L454.04 245.42 L455.76 245.43 L457.48 245.44 L459.2 245.46 L460.92 245.47 L462.64 245.48 L464.36 245.49 L466.08 245.5 L467.8 245.52 L469.52 245.53 L471.24 245.54 L472.96 245.55 L474.68 245.57 L476.4 245.58 L478.12 245.59 L479.84 245.6 L481.56 245.61 L483.28 245.63 L485 245.64 L486.72 245.65 L488.44 245.66 L490.16 245.68 L491.88 245.69" fill="none" stroke="#1A6FDF" stroke-width="1.6" stroke-linejoin="round"/>
<path d="M424.7 286 L426.42 285.91 L428.14 285.81 L429.86 285.72 L431.58 285.63 L433.3 285.54 L435.02 285.45 L436.74 285.36 L438.46 285.27 L440.18 285.18 L441.9 285.08 L443.62 284.99 L445.34 284.89 L447.06 284.8 L448.78 284.7 L450.5 284.6 L452.22 284.5 L453.94 284.4 L455.66 284.29 L457.38 284.19 L459.1 284.08 L460.82 283.98 L462.54 283.87 L464.26 283.76 L465.98 283.65 L467.7 283.55 L469.42 283.44 L471.14 283.33 L472.86 283.22 L474.58 283.11 L476.3 283 L478.02 282.89 L479.74 282.78 L481.46 282.67 L483.18 282.56 L484.9 282.45 L486.62 282.34 L488.34 282.23 L490.06 282.12 L491.78 282.01 L493.5 281.9" fill="none" stroke="#F14040" stroke-width="1.4" stroke-linejoin="round"/>
<path d="M431.58 245.4 L433.3 245.36 L435.02 245.33 L436.74 245.29 L438.46 245.26 L440.18 245.22 L441.9 245.18 L443.62 245.15 L445.34 245.11 L447.06 245.07 L448.78 245.04 L450.5 245 L452.22 244.97 L453.94 244.93 L455.66 244.89 L457.38 244.86 L459.1 244.82 L460.82 244.79 L462.54 244.75 L464.26 244.71 L465.98 244.68 L467.7 244.64 L469.42 244.61 L471.14 244.57 L472.86 244.53 L474.58 244.5 L476.3 244.46 L478.02 244.43 L479.74 244.39 L481.46 244.35 L483.18 244.32 L484.9 244.28 L486.62 244.24 L488.34 244.21 L490.06 244.17 L491.78 244.14 L493.5 244.1" fill="none" stroke="#F14040" stroke-width="1.4" stroke-linejoin="round"/>
</g>
<rect x="304.4" y="229" width="205.6" height="166.3" fill="none" stroke="#000" stroke-width="1.4"/>
<path d="M321.5 395.3v-3.5M321.5 229v3.5M355.9 395.3v-3.5M355.9 229v3.5M390.3 395.3v-3.5M390.3 229v3.5M424.7 395.3v-3.5M424.7 229v3.5M459.1 395.3v-3.5M459.1 229v3.5M493.5 395.3v-3.5M493.5 229v3.5" stroke="#000" stroke-width="1.1" fill="none"/>
<path d="M338.7 395.3v-2M338.7 229v2M373.1 395.3v-2M373.1 229v2M407.5 395.3v-2M407.5 229v2M441.9 395.3v-2M441.9 229v2M476.3 395.3v-2M476.3 229v2" stroke="#000" stroke-width="1.1" fill="none"/>
<path d="M304.4 229h3.5M510 229h-3.5M304.4 284.43h3.5M510 284.43h-3.5M304.4 339.86h3.5M510 339.86h-3.5M304.4 395.29h3.5M510 395.29h-3.5" stroke="#000" stroke-width="1.1" fill="none"/>
<path d="M304.4 378.6h2M510 378.6h-2M304.4 368.84h2M510 368.84h-2M304.4 361.92h2M510 361.92h-2M304.4 356.55h2M510 356.55h-2M304.4 352.16h2M510 352.16h-2M304.4 348.45h2M510 348.45h-2M304.4 345.23h2M510 345.23h-2M304.4 342.4h2M510 342.4h-2M304.4 323.17h2M510 323.17h-2M304.4 313.41h2M510 313.41h-2M304.4 306.49h2M510 306.49h-2M304.4 301.12h2M510 301.12h-2M304.4 296.73h2M510 296.73h-2M304.4 293.02h2M510 293.02h-2M304.4 289.8h2M510 289.8h-2M304.4 286.97h2M510 286.97h-2M304.4 267.74h2M510 267.74h-2M304.4 257.98h2M510 257.98h-2M304.4 251.06h2M510 251.06h-2M304.4 245.69h2M510 245.69h-2M304.4 241.3h2M510 241.3h-2M304.4 237.59h2M510 237.59h-2M304.4 234.37h2M510 234.37h-2M304.4 231.54h2M510 231.54h-2" stroke="#000" stroke-width="0.9" fill="none"/>
<text x="301.5" y="233" font-size="10.5" text-anchor="end" font-weight="bold" font-family='"Liberation Sans", sans-serif'>10<tspan font-size="7.14" dy="-3.78">-5</tspan></text>
<text x="301.5" y="288.43" font-size="10.5" text-anchor="end" font-weight="bold" font-family='"Liberation Sans", sans-serif'>10<tspan font-size="7.14" dy="-3.78">-6</tspan></text>
<text x="301.5" y="343.86" font-size="10.5" text-anchor="end" font-weight="bold" font-family='"Liberation Sans", sans-serif'>10<tspan font-size="7.14" dy="-3.78">-7</tspan></text>
<text x="301.5" y="399.29" font-size="10.5" text-anchor="end" font-weight="bold" font-family='"Liberation Sans", sans-serif'>10<tspan font-size="7.14" dy="-3.78">-8</tspan></text>
<text x="321.7" y="407" font-size="10.5" text-anchor="middle" fill="#000" font-weight="bold" font-family='"Liberation Sans", sans-serif' letter-spacing="0.4">0</text>
<text x="356.1" y="407" font-size="10.5" text-anchor="middle" fill="#000" font-weight="bold" font-family='"Liberation Sans", sans-serif' letter-spacing="0.4">100</text>
<text x="390.5" y="407" font-size="10.5" text-anchor="middle" fill="#000" font-weight="bold" font-family='"Liberation Sans", sans-serif' letter-spacing="0.4">200</text>
<text x="424.9" y="407" font-size="10.5" text-anchor="middle" fill="#000" font-weight="bold" font-family='"Liberation Sans", sans-serif' letter-spacing="0.4">300</text>
<text x="459.3" y="407" font-size="10.5" text-anchor="middle" fill="#000" font-weight="bold" font-family='"Liberation Sans", sans-serif' letter-spacing="0.4">400</text>
<text x="493.7" y="407" font-size="10.5" text-anchor="middle" fill="#000" font-weight="bold" font-family='"Liberation Sans", sans-serif' letter-spacing="0.4">500</text>
<text x="407.7" y="423" font-size="13.6" text-anchor="middle" fill="#000" font-weight="bold" font-family='"Liberation Sans", sans-serif' letter-spacing="0.35">Cycle No.</text>
<text transform="translate(279.3,307.8) rotate(-90)" font-size="14" letter-spacing="0.25" text-anchor="middle" font-weight="bold" font-family='"Liberation Sans", sans-serif'>Current (A)</text>
<path d="M346 252.3H369.6" stroke="#222" stroke-width="1.2"/>
<text x="372" y="256" font-size="10.2" text-anchor="start" fill="#000" font-weight="bold" font-family='"Liberation Sans", sans-serif' >Measurement data</text>
<path d="M346 265.6H369.6" stroke="#F14040" stroke-width="1.5"/>
<text x="372" y="269.3" font-size="10.2" text-anchor="start" fill="#000" font-weight="bold" font-family='"Liberation Sans", sans-serif' >SE model</text>
<path d="M346 278.4H369.6" stroke="#1A6FDF" stroke-width="1.5"/>
<text x="372" y="282.1" font-size="10.2" text-anchor="start" fill="#000" font-weight="bold" font-family='"Liberation Sans", sans-serif' >Simple exp. model</text>
<text x="376" y="240.5" font-size="12" text-anchor="start" fill="#000" font-weight="bold" font-family='"Liberation Sans", sans-serif' >LRS</text>
<text x="369.5" y="304" font-size="12" text-anchor="start" fill="#000" font-weight="bold" font-family='"Liberation Sans", sans-serif' >HRS</text>
<circle cx="422.6" cy="244" r="4.3" fill="none" stroke="#000" stroke-width="1.3"/>
<path d="M418.5 240L405.69 239.25" stroke="#000" stroke-width="1.2"/>
<path d="M401.5 239L407.65 236.56L405.99 239.26L407.33 242.15Z" fill="#000"/>
<circle cx="410.3" cy="288.3" r="4.3" fill="none" stroke="#000" stroke-width="1.3"/>
<path d="M406.5 290.5L398 293.22" stroke="#000" stroke-width="1.2"/>
<path d="M394 294.5L398.86 290L398.29 293.13L400.57 295.34Z" fill="#000"/>
<circle cx="347" cy="281" r="1.0" fill="#000"/><circle cx="346.52" cy="293.16" r="1.0" fill="#000"/><circle cx="345.12" cy="304.5" r="1.0" fill="#000"/><circle cx="342.9" cy="314.23" r="1.0" fill="#000"/><circle cx="340" cy="321.7" r="1.0" fill="#000"/><circle cx="336.62" cy="326.4" r="1.0" fill="#000"/><circle cx="333" cy="328" r="1.0" fill="#000"/><circle cx="329.38" cy="326.4" r="1.0" fill="#000"/><circle cx="326" cy="321.7" r="1.0" fill="#000"/><circle cx="323.1" cy="314.23" r="1.0" fill="#000"/><circle cx="320.88" cy="304.5" r="1.0" fill="#000"/><circle cx="319.48" cy="293.16" r="1.0" fill="#000"/><circle cx="319" cy="281" r="1.0" fill="#000"/><circle cx="319.48" cy="268.84" r="1.0" fill="#000"/><circle cx="320.88" cy="257.5" r="1.0" fill="#000"/><circle cx="323.1" cy="247.77" r="1.0" fill="#000"/><circle cx="326" cy="240.3" r="1.0" fill="#000"/><circle cx="329.38" cy="235.6" r="1.0" fill="#000"/><circle cx="333" cy="234" r="1.0" fill="#000"/><circle cx="336.62" cy="235.6" r="1.0" fill="#000"/><circle cx="340" cy="240.3" r="1.0" fill="#000"/><circle cx="342.9" cy="247.77" r="1.0" fill="#000"/><circle cx="345.12" cy="257.5" r="1.0" fill="#000"/><circle cx="346.52" cy="268.84" r="1.0" fill="#000"/>
<circle cx="499.5" cy="264.7" r="1.0" fill="#000"/><circle cx="498.32" cy="276.95" r="1.0" fill="#000"/><circle cx="494.96" cy="287.33" r="1.0" fill="#000"/><circle cx="489.93" cy="294.26" r="1.0" fill="#000"/><circle cx="484" cy="296.7" r="1.0" fill="#000"/><circle cx="478.07" cy="294.26" r="1.0" fill="#000"/><circle cx="473.04" cy="287.33" r="1.0" fill="#000"/><circle cx="469.68" cy="276.95" r="1.0" fill="#000"/><circle cx="468.5" cy="264.7" r="1.0" fill="#000"/><circle cx="469.68" cy="252.45" r="1.0" fill="#000"/><circle cx="473.04" cy="242.07" r="1.0" fill="#000"/><circle cx="478.07" cy="235.14" r="1.0" fill="#000"/><circle cx="484" cy="232.7" r="1.0" fill="#000"/><circle cx="489.93" cy="235.14" r="1.0" fill="#000"/><circle cx="494.96" cy="242.07" r="1.0" fill="#000"/><circle cx="498.32" cy="252.45" r="1.0" fill="#000"/>
<path d="M493.3 296L493.3 315.8" stroke="#000" stroke-width="1.3"/>
<path d="M493.3 320L490.3 314L493.3 315.5L496.3 314Z" fill="#000"/>
<path d="M332.7 329.8L338.39 337.93" stroke="#000" stroke-width="1.2"/>
<path d="M340.4 340.8L335.48 338.14L338.25 337.73L339.58 335.27Z" fill="#000"/>
<rect x="342.3" y="322" width="79.4" height="67.3" fill="#fff" stroke="#3c3c3c" stroke-width="1.4"/>
<rect x="425.2" y="322" width="80.3" height="67.3" fill="#fff" stroke="#3c3c3c" stroke-width="1.4"/>
<path d="M358.18 322v2M358.18 389.3v-2M374.06 322v2M374.06 389.3v-2M389.94 322v2M389.94 389.3v-2M405.82 322v2M405.82 389.3v-2M342.3 338.82h2M421.7 338.82h-2M342.3 355.65h2M421.7 355.65h-2M342.3 372.48h2M421.7 372.48h-2" stroke="#3c3c3c" stroke-width="1"/>
<path d="M441.26 322v2M441.26 389.3v-2M457.32 322v2M457.32 389.3v-2M473.38 322v2M473.38 389.3v-2M489.44 322v2M489.44 389.3v-2M425.2 338.82h2M505.5 338.82h-2M425.2 355.65h2M505.5 355.65h-2M425.2 372.48h2M505.5 372.48h-2" stroke="#3c3c3c" stroke-width="1"/>
<path d="M343 331.5 L350.8 327 L360 325.5 L390 324.5 L421 323.9" fill="none" stroke="#333" stroke-width="0.8"/>
<path d="M343 329.8 L350.8 327 L365 325.8 L390 325.2 L421 324.6" fill="none" stroke="#F14040" stroke-width="1"/>
<path d="M343 349.3 L349.9 331.7 L358.3 326.1 L370 324.6 L421 323.9" fill="none" stroke="#1A6FDF" stroke-width="1"/>
<path d="M343 368.8 L349.9 356.8 L360 350.3 L391.7 345.6 L421 344.7" fill="none" stroke="#F14040" stroke-width="1"/>
<path d="M343 370.5 L349.9 359.5 L360 351.5 L391.7 346 L421 344.9" fill="none" stroke="#333" stroke-width="0.8"/>
<path d="M343 386.4 L349.9 363.2 L360 356.8 L391.7 349.3 L421 345" fill="none" stroke="#1A6FDF" stroke-width="1"/>
<path d="M426 332.6 L505 329.5" fill="none" stroke="#333" stroke-width="1.1"/>
<path d="M426 332.4 L505 329.6" fill="none" stroke="#F14040" stroke-width="1"/>
<path d="M426 335.9 L505 335.9" fill="none" stroke="#1A6FDF" stroke-width="1.2"/>
<path d="M426 380.9 L505 369.2" fill="none" stroke="#F14040" stroke-width="1"/>
<path d="M426 382.7 L480 376.5 L505 370.7" fill="none" stroke="#333" stroke-width="0.8"/>
<path d="M426 384 L505 379" fill="none" stroke="#1A6FDF" stroke-width="1.2"/>
</svg></body></html>
